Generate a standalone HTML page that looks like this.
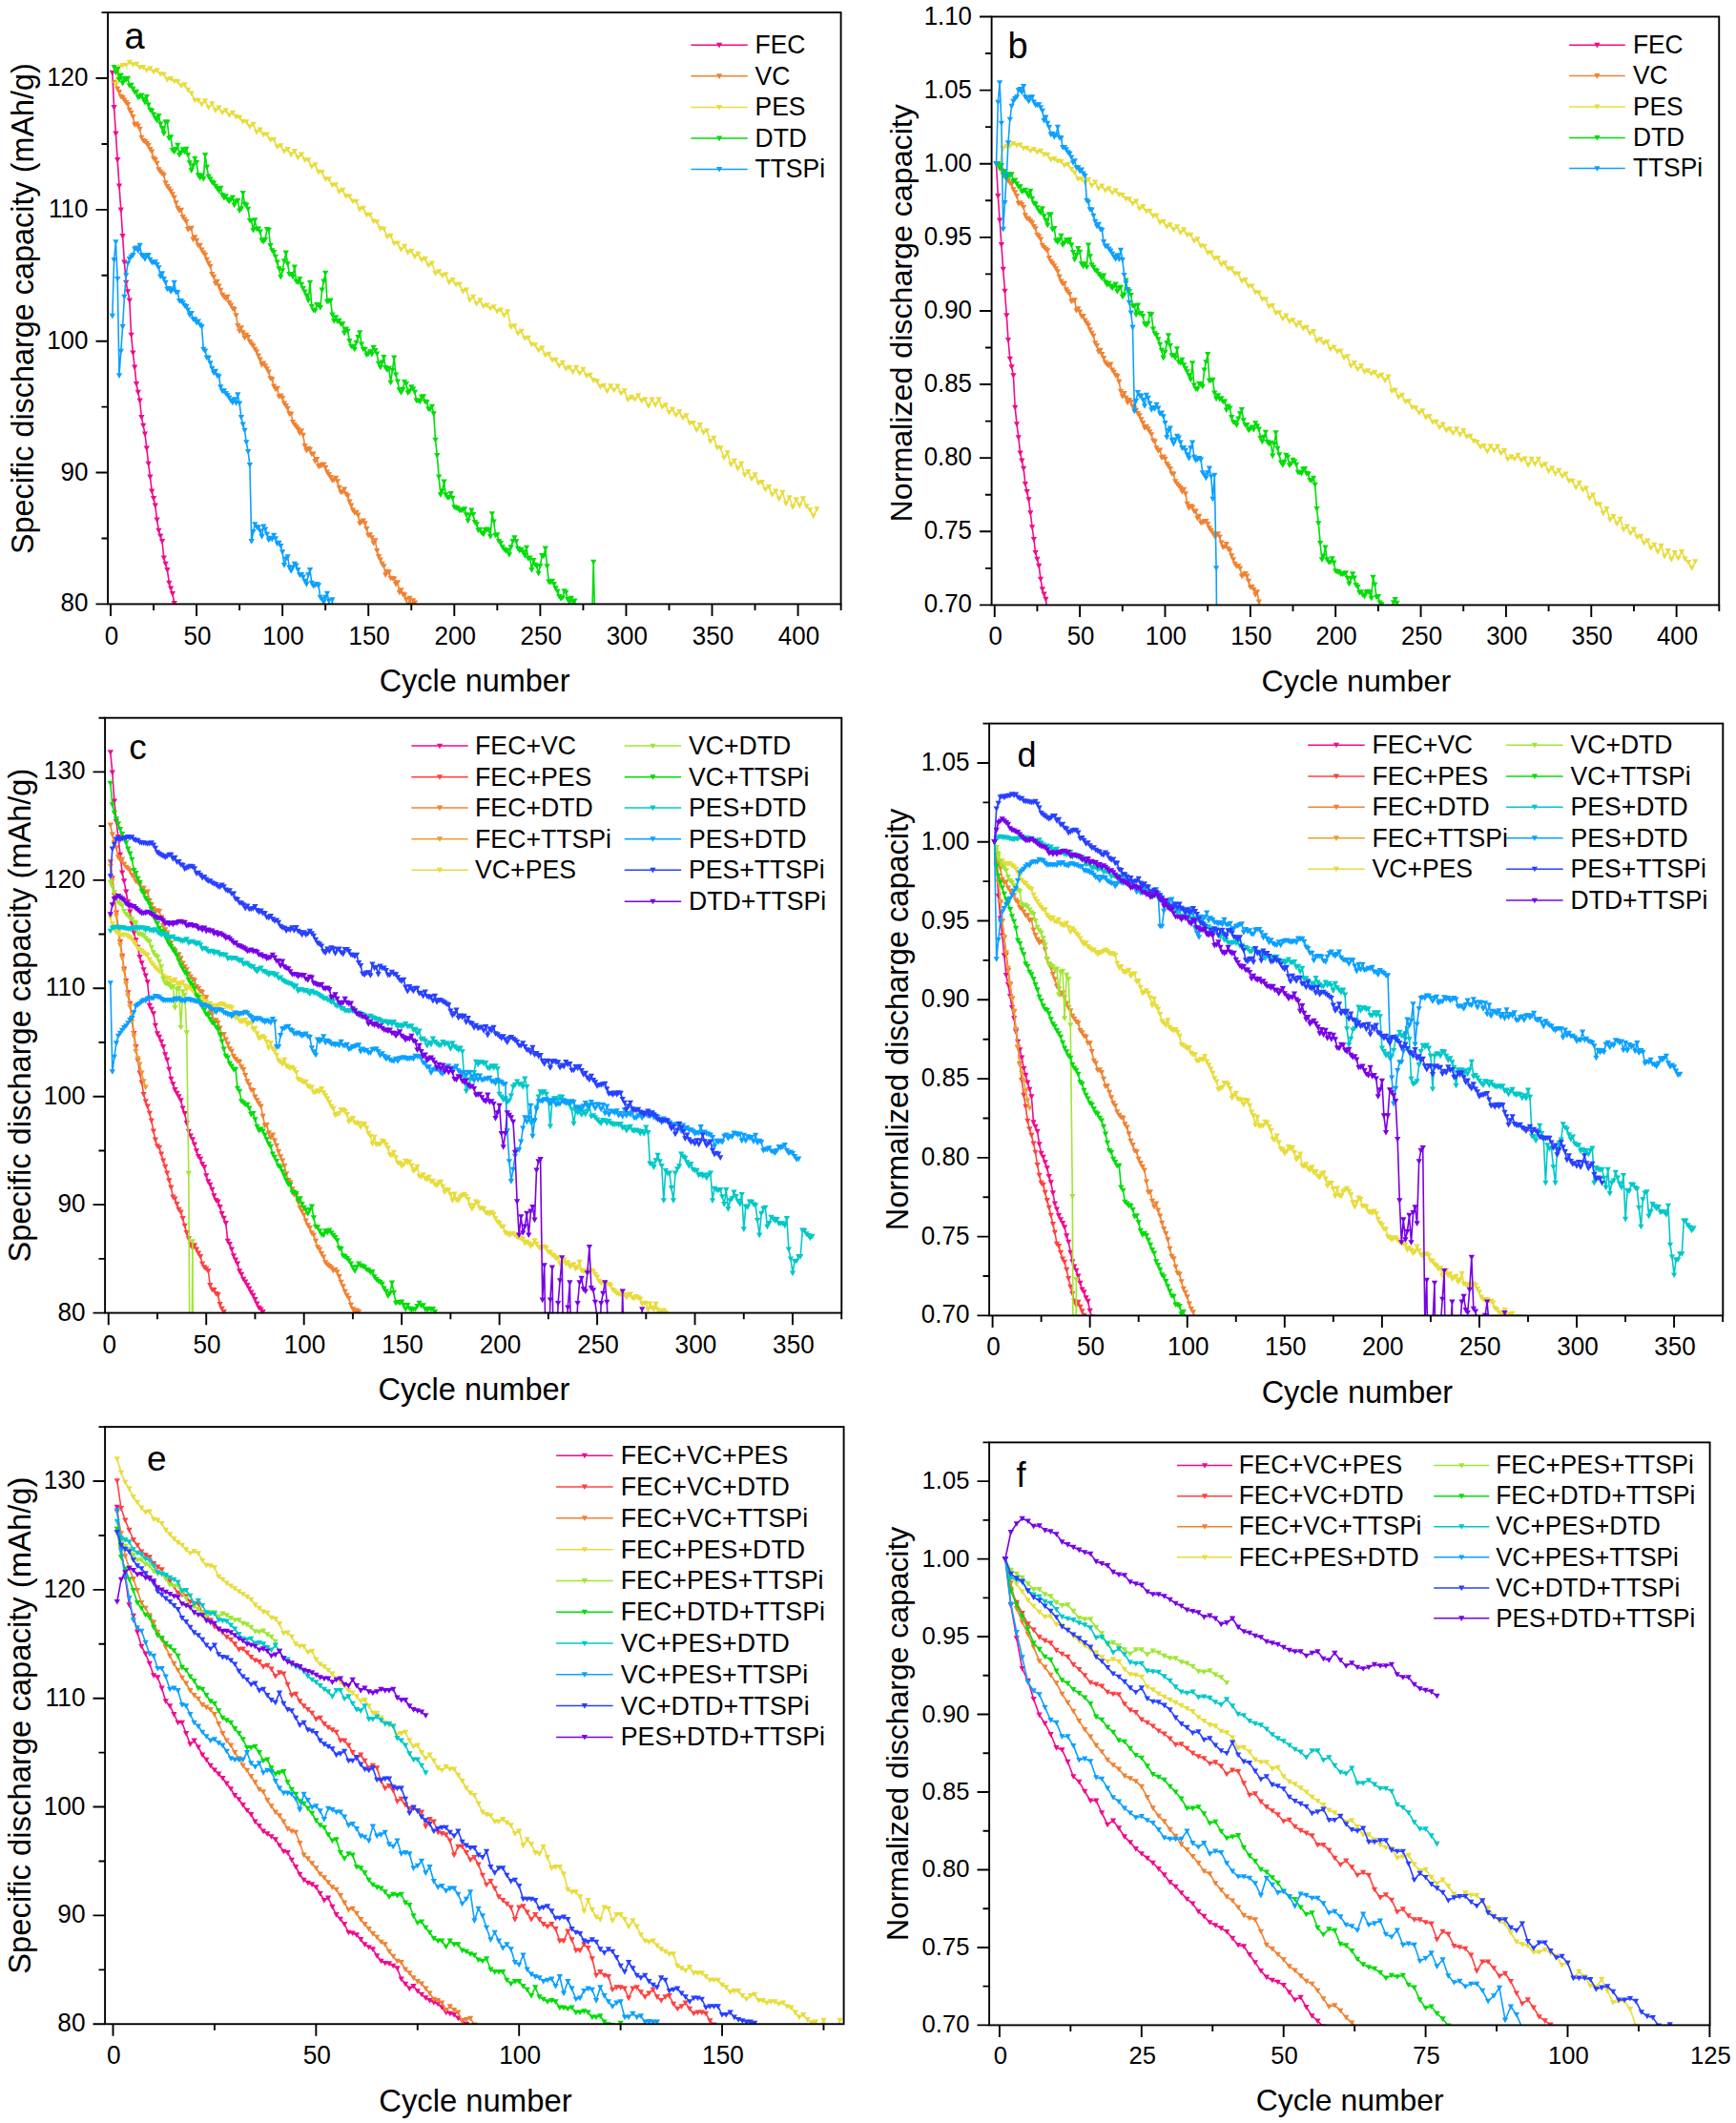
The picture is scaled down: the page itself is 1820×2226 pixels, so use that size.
<!DOCTYPE html>
<html lang="en"><head><meta charset="utf-8"><title>Cycling performance</title>
<style>html,body{margin:0;padding:0;background:#fff}svg{display:block}text{font-family:'Liberation Sans',Arial,Helvetica,sans-serif;fill:#000}</style></head><body>
<svg xmlns="http://www.w3.org/2000/svg" width="1820" height="2226" viewBox="0 0 1820 2226">
<rect width="1820" height="2226" fill="#fff"/>
<defs><path id="tri" d="M-3.15 -2.45H3.15L0 3.15Z"/>
<marker id="m00C8C8" markerUnits="userSpaceOnUse" markerWidth="8" markerHeight="8" refX="0" refY="0" viewBox="-4 -4 8 8" orient="0" overflow="visible"><path d="M-3.15 -2.45H3.15L0 3.15Z" fill="#00C8C8" stroke="none"/></marker>
<marker id="m00DD08" markerUnits="userSpaceOnUse" markerWidth="8" markerHeight="8" refX="0" refY="0" viewBox="-4 -4 8 8" orient="0" overflow="visible"><path d="M-3.15 -2.45H3.15L0 3.15Z" fill="#00DD08" stroke="none"/></marker>
<marker id="m0CA0FF" markerUnits="userSpaceOnUse" markerWidth="8" markerHeight="8" refX="0" refY="0" viewBox="-4 -4 8 8" orient="0" overflow="visible"><path d="M-3.15 -2.45H3.15L0 3.15Z" fill="#0CA0FF" stroke="none"/></marker>
<marker id="m2840FF" markerUnits="userSpaceOnUse" markerWidth="8" markerHeight="8" refX="0" refY="0" viewBox="-4 -4 8 8" orient="0" overflow="visible"><path d="M-3.15 -2.45H3.15L0 3.15Z" fill="#2840FF" stroke="none"/></marker>
<marker id="m7800E6" markerUnits="userSpaceOnUse" markerWidth="8" markerHeight="8" refX="0" refY="0" viewBox="-4 -4 8 8" orient="0" overflow="visible"><path d="M-3.15 -2.45H3.15L0 3.15Z" fill="#7800E6" stroke="none"/></marker>
<marker id="mA0E632" markerUnits="userSpaceOnUse" markerWidth="8" markerHeight="8" refX="0" refY="0" viewBox="-4 -4 8 8" orient="0" overflow="visible"><path d="M-3.15 -2.45H3.15L0 3.15Z" fill="#A0E632" stroke="none"/></marker>
<marker id="mE8A032" markerUnits="userSpaceOnUse" markerWidth="8" markerHeight="8" refX="0" refY="0" viewBox="-4 -4 8 8" orient="0" overflow="visible"><path d="M-3.15 -2.45H3.15L0 3.15Z" fill="#E8A032" stroke="none"/></marker>
<marker id="mE8DC3C" markerUnits="userSpaceOnUse" markerWidth="8" markerHeight="8" refX="0" refY="0" viewBox="-4 -4 8 8" orient="0" overflow="visible"><path d="M-3.15 -2.45H3.15L0 3.15Z" fill="#E8DC3C" stroke="none"/></marker>
<marker id="mF00A8C" markerUnits="userSpaceOnUse" markerWidth="8" markerHeight="8" refX="0" refY="0" viewBox="-4 -4 8 8" orient="0" overflow="visible"><path d="M-3.15 -2.45H3.15L0 3.15Z" fill="#F00A8C" stroke="none"/></marker>
<marker id="mF08232" markerUnits="userSpaceOnUse" markerWidth="8" markerHeight="8" refX="0" refY="0" viewBox="-4 -4 8 8" orient="0" overflow="visible"><path d="M-3.15 -2.45H3.15L0 3.15Z" fill="#F08232" stroke="none"/></marker>
<marker id="mFF4040" markerUnits="userSpaceOnUse" markerWidth="8" markerHeight="8" refX="0" refY="0" viewBox="-4 -4 8 8" orient="0" overflow="visible"><path d="M-3.15 -2.45H3.15L0 3.15Z" fill="#FF4040" stroke="none"/></marker>
</defs>
<clipPath id="clipa"><rect x="113.10" y="13.10" width="768.50" height="620.90"/></clipPath>
<g clip-path="url(#clipa)" fill="none" stroke-width="1.60" stroke-linejoin="round">
<polyline stroke="#F00A8C" marker-start="url(#mF00A8C)" marker-mid="url(#mF00A8C)" marker-end="url(#mF00A8C)" points="117.8,76.3 119.6,112.5 121.4,140.0 123.2,167.5 125.0,195.0 126.8,220.0 128.6,247.5 130.4,275.0 132.2,296.2 134.0,305.6 135.8,315.0 137.6,351.2 139.4,370.0 141.2,385.0 143.0,402.5 144.8,411.3 146.6,420.0 148.4,437.5 150.2,446.2 152.0,455.0 153.8,470.0 155.6,486.2 157.4,500.0 159.2,515.0 161.0,522.5 162.8,530.0 164.6,545.0 166.4,556.2 168.2,561.9 170.0,567.5 171.8,585.0 173.6,591.2 175.4,597.5 177.3,611.2 179.1,616.9 180.9,622.5 182.7,632.5"/>
<polyline stroke="#F08232" marker-start="url(#mF08232)" marker-mid="url(#mF08232)" marker-end="url(#mF08232)" points="119.6,86.2 121.4,88.0 123.2,93.1 125.0,96.5 126.8,101.2 128.6,102.4 130.4,105.0 132.2,107.5 134.0,109.4 135.8,115.1 137.6,118.3 139.4,122.4 141.2,130.8 143.0,130.0 144.8,131.9 146.6,135.1 148.4,144.1 150.2,147.4 152.0,148.4 153.8,150.5 155.6,152.5 157.4,156.5 159.2,159.0 161.0,166.0 162.8,167.4 164.6,171.1 166.4,177.8 168.2,180.0 170.0,181.9 171.8,183.7 173.6,191.8 175.4,195.5 177.3,197.9 179.1,200.6 180.9,203.7 182.7,207.1 184.5,212.8 186.3,218.1 188.1,220.9 189.9,220.3 191.7,227.5 193.5,229.9 195.3,232.5 197.1,240.5 198.9,239.5 200.7,239.3 202.5,251.0 204.3,248.7 206.1,252.3 207.9,257.4 209.7,257.2 211.5,261.9 213.3,265.0 215.1,267.3 216.9,272.2 218.7,276.0 220.5,279.2 222.3,287.5 224.1,290.3 225.9,297.2 227.7,295.3 229.5,300.0 231.3,304.1 233.1,309.1 234.9,311.3 236.7,313.1 238.5,311.2 240.3,317.5 242.1,320.0 243.9,323.5 245.7,324.4 247.5,330.8 249.3,341.4 251.1,347.1 252.9,343.7 254.7,348.8 256.5,354.2 258.3,351.2 260.1,353.4 261.9,358.3 263.7,360.6 265.5,362.6 267.3,366.2 269.1,368.7 270.9,373.0 272.7,377.0 274.5,382.5 276.3,381.0 278.1,383.7 279.9,386.7 281.7,390.0 283.5,396.7 285.3,397.8 287.1,405.0 288.9,408.0 290.7,407.3 292.5,415.9 294.3,415.0 296.1,417.3 298.0,422.9 299.8,425.4 301.6,428.3 303.4,433.8 305.2,434.2 307.0,442.4 308.8,445.1 310.6,447.5 312.4,449.6 314.2,454.2 316.0,451.6 317.8,456.3 319.6,467.5 321.4,472.4 323.2,470.4 325.0,471.2 326.8,476.2 328.6,475.9 330.4,483.7 332.2,481.4 334.0,488.9 335.8,488.6 337.6,487.5 339.4,487.0 341.2,490.3 343.0,495.0 344.8,497.5 346.6,500.4 348.4,503.7 350.2,503.0 352.0,501.3 353.8,504.8 355.6,511.2 357.4,516.2 359.2,515.7 361.0,512.9 362.8,518.2 364.6,520.0 366.4,526.0 368.2,530.0 370.0,535.0 371.8,537.5 373.6,537.3 375.4,540.0 377.2,548.9 379.0,547.3 380.8,545.9 382.6,548.8 384.4,554.4 386.2,561.3 388.0,560.8 389.8,563.8 391.6,569.7 393.4,566.6 395.2,577.5 397.0,583.5 398.8,586.9 400.6,591.2 402.4,593.6 404.2,602.8 406.0,599.1 407.8,600.0 409.6,606.2 411.4,606.4 413.2,606.9 415.0,612.5 416.9,610.7 418.7,621.1 420.5,618.8 422.3,623.0 424.1,623.8 425.9,628.7 427.7,636.4 429.5,627.2 431.3,634.5 433.1,629.6 434.9,632.0"/>
<polyline stroke="#E8DC3C" marker-start="url(#mE8DC3C)" marker-mid="url(#mE8DC3C)" marker-end="url(#mE8DC3C)" points="121.4,88.1 125.0,70.3 128.6,68.5 132.2,68.1 135.8,65.3 139.4,67.6 143.0,67.1 146.6,70.7 150.2,70.5 153.8,73.7 157.4,71.8 161.0,75.1 164.6,73.8 168.2,77.7 171.8,77.9 175.4,83.5 179.1,82.5 182.7,85.2 186.3,85.5 189.9,89.9 193.5,88.8 197.1,94.2 200.7,97.9 204.3,105.1 207.9,105.2 211.5,109.3 215.1,105.6 218.7,112.7 222.3,108.6 225.9,115.8 229.5,112.9 233.1,118.0 236.7,115.7 240.3,120.7 243.9,118.1 247.5,122.5 251.1,123.1 254.7,127.4 258.3,127.7 261.9,132.8 265.5,130.1 269.1,138.5 272.7,136.0 276.3,141.2 279.9,140.9 283.5,146.6 287.1,146.2 290.7,154.0 294.3,152.7 298.0,158.6 301.6,156.5 305.2,162.0 308.8,158.5 312.4,165.2 316.0,161.9 319.6,167.6 323.2,167.7 326.8,174.7 330.4,172.6 334.0,180.3 337.6,180.5 341.2,187.8 344.8,187.7 348.4,194.1 352.0,193.7 355.6,201.0 359.2,199.3 362.8,205.8 366.4,205.8 370.0,211.2 373.6,211.3 377.2,219.5 380.8,218.2 384.4,225.3 388.0,225.1 391.6,232.0 395.2,232.6 398.8,239.8 402.4,239.9 406.0,248.1 409.6,247.1 413.2,255.2 416.9,254.9 420.5,261.7 424.1,258.2 427.7,264.8 431.3,263.2 434.9,269.0 438.5,266.3 442.1,272.5 445.7,271.3 449.3,278.1 452.9,276.0 456.5,286.5 460.1,284.6 463.7,288.9 467.3,287.7 470.9,296.0 474.5,293.4 478.1,298.4 481.7,297.9 485.3,305.5 488.9,303.9 492.5,314.6 496.1,311.2 499.7,318.4 503.3,314.8 506.9,321.2 510.5,320.0 514.1,323.4 517.7,321.6 521.3,326.5 524.9,324.9 528.5,330.7 532.1,326.6 535.7,342.8 539.4,341.6 543.0,349.7 546.6,347.3 550.2,354.6 553.8,354.3 557.4,361.1 561.0,361.8 564.6,367.2 568.2,365.0 571.8,372.4 575.4,371.1 579.0,377.5 582.6,377.3 586.2,383.5 589.8,380.1 593.4,386.8 597.0,385.1 600.6,390.0 604.2,385.3 607.8,391.5 611.4,387.1 615.0,394.0 618.6,393.3 622.2,398.8 625.8,399.8 629.4,405.5 633.0,404.2 636.6,410.2 640.2,404.6 643.8,409.2 647.4,404.9 651.0,412.4 654.6,409.6 658.3,419.0 661.9,416.5 665.5,418.7 669.1,414.6 672.7,420.2 676.3,418.6 679.9,425.7 683.5,418.9 687.1,424.5 690.7,418.8 694.3,426.8 697.9,424.7 701.5,432.5 705.1,429.2 708.7,435.3 712.3,431.7 715.9,438.0 719.5,435.8 723.1,443.6 726.7,443.5 730.3,450.9 733.9,445.5 737.5,453.6 741.1,451.6 744.7,462.8 748.3,459.1 751.9,469.3 755.5,469.8 759.1,479.9 762.7,474.7 766.3,487.0 769.9,483.3 773.5,491.4 777.2,486.2 780.8,497.9 784.4,494.5 788.0,502.1 791.6,497.7 795.2,506.4 798.8,505.5 802.4,513.1 806.0,510.4 809.6,518.7 813.2,515.0 816.8,523.0 820.4,516.1 824.0,528.0 827.6,521.7 831.2,531.5 834.8,523.9 838.4,530.2 842.0,522.6 845.6,530.7 849.2,534.6 852.8,541.0 856.4,533.7"/>
<polyline stroke="#00DD08" marker-start="url(#m00DD08)" marker-mid="url(#m00DD08)" marker-end="url(#m00DD08)" points="119.6,70.5 121.4,76.0 123.2,72.5 125.0,83.5 126.8,78.9 128.6,87.3 130.4,82.5 132.2,83.8 134.0,82.3 135.8,89.9 137.6,89.1 139.4,93.2 141.2,96.5 143.0,96.2 144.8,102.0 146.6,101.3 148.4,100.0 150.2,103.9 152.0,107.3 153.8,101.4 155.6,110.0 157.4,115.1 159.2,116.2 161.0,120.0 162.8,123.7 164.6,126.1 166.4,121.4 168.2,130.0 170.0,134.5 171.8,140.0 173.6,127.9 175.4,128.0 177.3,145.0 179.1,143.7 180.9,157.5 182.7,159.1 184.5,156.5 186.3,152.1 188.1,162.4 189.9,160.0 191.7,156.7 193.5,159.1 195.3,156.3 197.1,162.4 198.9,170.6 200.7,178.8 202.5,173.8 204.3,166.3 206.1,170.4 207.9,183.8 209.7,186.4 211.5,184.0 213.3,187.5 215.1,162.5 216.9,175.1 218.7,185.0 220.5,187.8 222.3,191.0 224.1,191.9 225.9,195.1 227.7,197.5 229.5,200.0 231.3,197.2 233.1,204.4 234.9,207.5 236.7,205.8 238.5,209.1 240.3,211.2 242.1,209.3 243.9,206.9 245.7,215.0 247.5,211.1 249.3,210.3 251.1,220.9 252.9,218.8 254.7,202.5 256.5,213.9 258.3,215.0 260.1,219.2 261.9,231.2 263.7,231.7 265.5,241.4 267.3,230.7 269.1,240.0 270.9,239.9 272.7,243.0 274.5,252.0 276.3,253.4 278.1,251.2 279.9,240.4 281.7,241.3 283.5,257.5 285.3,262.6 287.1,264.5 288.9,269.1 290.7,275.0 292.5,281.7 294.3,290.4 296.1,283.8 298.0,273.6 299.8,265.0 301.6,276.6 303.4,287.5 305.2,287.5 307.0,290.0 308.8,280.0 310.6,295.0 312.4,296.0 314.2,292.4 316.0,298.3 317.8,302.5 319.6,305.9 321.4,310.0 323.2,315.0 325.0,296.2 326.8,321.2 328.6,325.1 330.4,325.7 332.2,319.5 334.0,320.2 335.8,322.5 337.6,304.0 339.4,295.0 341.2,286.3 343.0,316.2 344.8,315.7 346.6,315.0 348.4,330.0 350.2,336.5 352.0,332.8 353.8,337.2 355.6,336.2 357.4,339.8 359.2,339.7 361.0,349.3 362.8,345.0 364.6,347.1 366.4,357.5 368.2,363.2 370.0,363.3 371.8,366.2 373.6,359.1 375.4,353.4 377.2,348.8 379.0,360.9 380.8,366.2 382.6,366.1 384.4,372.1 386.2,370.8 388.0,368.8 389.8,371.4 391.6,364.3 393.4,367.5 395.2,370.9 397.0,381.2 398.8,385.2 400.6,380.0 402.4,374.5 404.2,385.5 406.0,387.9 407.8,386.2 409.6,401.2 411.4,388.1 413.2,375.0 415.0,392.9 416.9,400.0 418.7,408.8 420.5,411.5 422.3,408.1 424.1,400.5 425.9,402.5 427.7,411.9 429.5,410.0 431.3,405.7 433.1,407.7 434.9,411.3 436.7,420.0 438.5,419.9 440.3,421.2 442.1,416.3 443.9,415.8 445.7,421.2 447.5,421.8 449.3,428.8 451.1,429.2 452.9,426.2 454.7,433.8 456.5,461.2 458.3,477.5 460.1,500.0 461.9,518.8 463.7,514.6 465.5,505.0 467.3,518.8 469.1,521.5 470.9,521.6 472.7,517.5 474.5,522.2 476.3,531.6 478.1,532.5 479.9,532.9 481.7,535.0 483.5,535.2 485.3,534.8 487.1,533.8 488.9,539.6 490.7,546.2 492.5,540.1 494.3,535.0 496.1,539.5 497.9,547.5 499.7,549.5 501.5,556.0 503.3,555.3 505.1,558.8 506.9,560.1 508.7,555.8 510.5,555.0 512.3,555.7 514.1,562.5 515.9,538.8 517.7,546.9 519.5,561.3 521.3,560.6 523.1,567.5 524.9,569.4 526.7,573.5 528.5,575.9 530.3,577.5 532.1,577.0 533.9,581.7 535.7,573.8 537.6,567.4 539.4,563.8 541.2,567.7 543.0,575.0 544.8,577.4 546.6,576.3 548.4,578.8 550.2,582.5 552.0,574.2 553.8,585.6 555.6,585.0 557.4,597.5 559.2,587.5 561.0,592.2 562.8,593.6 564.6,601.2 566.4,593.1 568.2,582.5 570.0,583.1 571.8,575.0 573.6,593.8 575.4,610.0 577.2,610.5 579.0,609.2 580.8,612.5 582.6,616.8 584.4,620.0 586.2,625.4 588.0,627.5 589.8,626.7 591.6,619.8 593.4,621.2 595.2,628.5 597.0,631.2 598.8,627.3 600.6,630.8 602.4,630.0 604.2,654.1 620.4,661.0 622.2,589.3 624.0,661.0"/>
<polyline stroke="#0CA0FF" marker-start="url(#m0CA0FF)" marker-mid="url(#m0CA0FF)" marker-end="url(#m0CA0FF)" points="117.8,331.3 119.6,272.5 121.4,253.7 123.2,292.5 125.0,393.8 126.8,368.3 128.6,342.5 130.4,311.2 132.2,288.7 134.0,276.2 135.8,271.4 137.6,269.1 139.4,267.5 141.2,261.0 143.0,260.0 144.8,262.9 146.6,257.3 148.4,267.4 150.2,268.8 152.0,271.5 153.8,267.7 155.6,267.5 157.4,272.2 159.2,275.0 161.0,275.1 162.8,274.8 164.6,277.5 166.4,280.7 168.2,289.9 170.0,286.8 171.8,292.5 173.6,296.3 175.4,303.2 177.3,302.5 179.1,305.6 180.9,303.8 182.7,296.2 184.5,306.3 186.3,306.7 188.1,315.5 189.9,315.5 191.7,317.5 193.5,320.3 195.3,321.5 197.1,325.0 198.9,330.3 200.7,328.4 202.5,334.7 204.3,335.0 206.1,338.3 207.9,336.9 209.7,340.6 211.5,342.5 213.3,366.2 215.1,367.9 216.9,375.0 218.7,375.3 220.5,380.8 222.3,386.2 224.1,390.9 225.9,389.1 227.7,393.8 229.5,394.6 231.3,405.6 233.1,410.0 234.9,409.8 236.7,412.5 238.5,414.4 240.3,417.0 242.1,420.0 243.9,422.2 245.7,418.7 247.5,422.5 249.3,413.8 251.1,422.9 252.9,437.5 254.7,445.0 256.5,451.2 258.3,463.7 260.1,473.5 261.9,487.5 263.7,567.5 265.5,557.5 267.3,549.6 269.1,552.5 270.9,553.2 272.7,556.8 274.5,562.5 276.3,552.0 278.1,555.0 279.9,560.1 281.7,566.2 283.5,564.2 285.3,565.4 287.1,561.3 288.9,564.6 290.7,570.0 292.5,569.3 294.3,572.5 296.1,578.8 298.0,592.5 299.8,585.9 301.6,583.8 303.4,595.0 305.2,598.7 307.0,595.0 308.8,591.2 310.6,592.9 312.4,597.5 314.2,602.8 316.0,602.5 317.8,605.0 319.6,609.2 321.4,612.5 323.2,602.8 325.0,597.5 326.8,611.2 328.6,614.4 330.4,613.6 332.2,612.5 334.0,613.8 335.8,626.3 337.6,628.4 339.4,631.2 341.2,626.3 343.0,622.1 344.8,630.0 346.6,651.3 348.4,628.6 350.2,717.5 352.0,909.1"/>
</g>
<g stroke="#000" stroke-width="1.90" fill="none" stroke-linecap="butt">
<rect x="113.10" y="13.10" width="768.50" height="620.30"/>
<path d="M116.00 633.40v12.6M206.07 633.40v12.6M296.15 633.40v12.6M386.23 633.40v12.6M476.30 633.40v12.6M566.38 633.40v12.6M656.45 633.40v12.6M746.53 633.40v12.6M836.60 633.40v12.6M161.04 633.40v6.6M251.11 633.40v6.6M341.19 633.40v6.6M431.26 633.40v6.6M521.34 633.40v6.6M611.41 633.40v6.6M701.49 633.40v6.6M791.56 633.40v6.6M881.64 633.40v6.6M113.10 633.40h-12.6M113.10 495.56h-12.6M113.10 357.71h-12.6M113.10 219.87h-12.6M113.10 82.02h-12.6M113.10 564.48h-6.6M113.10 426.63h-6.6M113.10 288.79h-6.6M113.10 150.94h-6.6M113.10 13.10h-6.6"/>
</g>
<g font-size="27.06" text-anchor="middle">
<text transform="translate(116.90 675.60) scale(0.961 1)">0</text>
<text transform="translate(206.97 675.60) scale(0.961 1)">50</text>
<text transform="translate(297.05 675.60) scale(0.961 1)">100</text>
<text transform="translate(387.12 675.60) scale(0.961 1)">150</text>
<text transform="translate(477.20 675.60) scale(0.961 1)">200</text>
<text transform="translate(567.27 675.60) scale(0.961 1)">250</text>
<text transform="translate(657.35 675.60) scale(0.961 1)">300</text>
<text transform="translate(747.43 675.60) scale(0.961 1)">350</text>
<text transform="translate(837.50 675.60) scale(0.961 1)">400</text>
</g>
<g font-size="27.06" text-anchor="end">
<text transform="translate(92.50 641.40) scale(0.961 1)">80</text>
<text transform="translate(92.50 503.56) scale(0.961 1)">90</text>
<text transform="translate(92.50 365.71) scale(0.961 1)">100</text>
<text transform="translate(92.50 227.87) scale(0.961 1)">110</text>
<text transform="translate(92.50 90.02) scale(0.961 1)">120</text>
</g>
<text font-size="32.4" text-anchor="middle" x="497.60" y="724.80">Cycle number</text>
<text font-size="32.4" text-anchor="middle" transform="translate(35.10 323.60) rotate(-90)">Specific discharge capacity (mAh/g)</text>
<text font-size="38.0" x="130.60" y="50.60">a</text>
<path d="M724.40 47.25H783.75" stroke="#F00A8C" stroke-width="1.5" fill="none"/>
<use href="#tri" x="754.08" y="47.25" fill="#F00A8C"/>
<text font-size="27.58" transform="translate(791.50 56.15) scale(0.961 1)">FEC</text>
<path d="M724.40 79.75H783.75" stroke="#F08232" stroke-width="1.5" fill="none"/>
<use href="#tri" x="754.08" y="79.75" fill="#F08232"/>
<text font-size="27.58" transform="translate(791.50 88.65) scale(0.961 1)">VC</text>
<path d="M724.40 112.40H783.75" stroke="#E8DC3C" stroke-width="1.5" fill="none"/>
<use href="#tri" x="754.08" y="112.40" fill="#E8DC3C"/>
<text font-size="27.58" transform="translate(791.50 121.30) scale(0.961 1)">PES</text>
<path d="M724.40 145.00H783.75" stroke="#00DD08" stroke-width="1.5" fill="none"/>
<use href="#tri" x="754.08" y="145.00" fill="#00DD08"/>
<text font-size="27.58" transform="translate(791.50 153.90) scale(0.961 1)">DTD</text>
<path d="M724.40 177.40H783.75" stroke="#0CA0FF" stroke-width="1.5" fill="none"/>
<use href="#tri" x="754.08" y="177.40" fill="#0CA0FF"/>
<text font-size="27.58" transform="translate(791.50 186.30) scale(0.961 1)">TTSPi</text>
<clipPath id="clipb"><rect x="1039.60" y="17.50" width="762.65" height="617.50"/></clipPath>
<g clip-path="url(#clipb)" fill="none" stroke-width="1.60" stroke-linejoin="round">
<polyline stroke="#F00A8C" marker-start="url(#mF00A8C)" marker-mid="url(#mF00A8C)" marker-end="url(#mF00A8C)" points="1044.5,171.7 1046.3,205.4 1048.1,231.0 1049.9,256.5 1051.7,282.1 1053.5,305.3 1055.3,330.8 1057.0,356.4 1058.8,376.1 1060.6,384.8 1062.4,393.6 1064.2,427.2 1066.0,444.7 1067.8,458.6 1069.6,474.9 1071.3,483.0 1073.1,491.1 1074.9,507.4 1076.7,515.5 1078.5,523.6 1080.3,537.6 1082.1,552.7 1083.9,565.4 1085.6,579.4 1087.4,586.3 1089.2,593.3 1091.0,607.2 1092.8,617.7 1094.6,622.9 1096.4,628.2 1098.2,644.4 1099.9,650.2 1101.7,656.0 1103.5,668.8 1105.3,674.0 1107.1,679.3 1108.9,688.5"/>
<polyline stroke="#F08232" marker-start="url(#mF08232)" marker-mid="url(#mF08232)" marker-end="url(#mF08232)" points="1046.3,171.7 1048.1,173.4 1049.9,178.1 1051.7,181.3 1053.5,185.7 1055.3,186.9 1057.0,189.3 1058.8,191.6 1060.6,193.4 1062.4,198.7 1064.2,201.6 1066.0,205.5 1067.8,213.4 1069.6,212.6 1071.3,214.4 1073.1,217.4 1074.9,225.8 1076.7,228.9 1078.5,229.8 1080.3,231.8 1082.1,233.7 1083.9,237.4 1085.6,239.7 1087.4,246.2 1089.2,247.6 1091.0,251.0 1092.8,257.3 1094.6,259.4 1096.4,261.2 1098.2,262.8 1099.9,270.4 1101.7,273.9 1103.5,276.1 1105.3,278.6 1107.1,281.6 1108.9,284.7 1110.7,290.1 1112.5,295.0 1114.2,297.6 1116.0,297.1 1117.8,303.8 1119.6,306.0 1121.4,308.4 1123.2,315.9 1125.0,315.0 1126.7,314.7 1128.5,325.7 1130.3,323.6 1132.1,326.9 1133.9,331.7 1135.7,331.5 1137.5,335.9 1139.3,338.8 1141.0,341.0 1142.8,345.6 1144.6,349.1 1146.4,352.1 1148.2,359.8 1150.0,362.5 1151.8,368.9 1153.6,367.1 1155.3,371.5 1157.1,375.4 1158.9,380.1 1160.7,382.1 1162.5,383.7 1164.3,382.0 1166.1,387.9 1167.9,390.2 1169.6,393.5 1171.4,394.4 1173.2,400.3 1175.0,410.2 1176.8,415.6 1178.6,412.4 1180.4,417.1 1182.2,422.2 1183.9,419.4 1185.7,421.4 1187.5,426.1 1189.3,428.2 1191.1,430.1 1192.9,433.5 1194.7,435.7 1196.4,439.8 1198.2,443.5 1200.0,448.6 1201.8,447.3 1203.6,449.8 1205.4,452.6 1207.2,455.7 1209.0,461.9 1210.7,462.9 1212.5,469.7 1214.3,472.5 1216.1,471.9 1217.9,479.9 1219.7,479.0 1221.5,481.2 1223.3,486.4 1225.0,488.7 1226.8,491.5 1228.6,496.6 1230.4,497.0 1232.2,504.6 1234.0,507.2 1235.8,509.4 1237.6,511.4 1239.3,515.6 1241.1,513.2 1242.9,517.6 1244.7,528.1 1246.5,532.6 1248.3,530.8 1250.1,531.6 1251.9,536.2 1253.6,536.0 1255.4,543.3 1257.2,541.1 1259.0,548.1 1260.8,547.8 1262.6,546.8 1264.4,546.4 1266.2,549.4 1267.9,553.8 1269.7,556.2 1271.5,558.9 1273.3,562.0 1275.1,561.2 1276.9,559.6 1278.7,562.9 1280.4,569.0 1282.2,573.7 1284.0,573.2 1285.8,570.5 1287.6,575.5 1289.4,577.2 1291.2,582.8 1293.0,586.6 1294.7,591.2 1296.5,593.6 1298.3,593.4 1300.1,595.9 1301.9,604.2 1303.7,602.7 1305.5,601.4 1307.3,604.0 1309.0,609.3 1310.8,615.7 1312.6,615.3 1314.4,618.1 1316.2,623.6 1318.0,620.7 1319.8,630.9 1321.6,636.6 1323.3,639.7 1325.1,643.8 1326.9,646.0 1328.7,654.5 1330.5,651.1 1332.3,652.0 1334.1,657.7 1335.9,658.0 1337.6,658.4 1339.4,663.6 1341.2,661.9 1343.0,671.7 1344.8,669.5 1346.6,673.4 1348.4,674.2 1350.1,678.8 1351.9,686.0 1353.7,677.4 1355.5,684.2 1357.3,679.6 1359.1,681.9"/>
<polyline stroke="#E8DC3C" marker-start="url(#mE8DC3C)" marker-mid="url(#mE8DC3C)" marker-end="url(#mE8DC3C)" points="1048.1,171.7 1051.7,155.1 1055.3,153.3 1058.8,152.9 1062.4,150.4 1066.0,152.5 1069.6,152.0 1073.1,155.4 1076.7,155.3 1080.3,158.2 1083.9,156.4 1087.4,159.5 1091.0,158.3 1094.6,162.0 1098.2,162.1 1101.7,167.4 1105.3,166.5 1108.9,169.0 1112.5,169.3 1116.0,173.4 1119.6,172.4 1123.2,177.4 1126.7,180.9 1130.3,187.6 1133.9,187.7 1137.5,191.6 1141.0,188.1 1144.6,194.7 1148.2,190.9 1151.8,197.6 1155.3,194.9 1158.9,199.6 1162.5,197.6 1166.1,202.2 1169.6,199.7 1173.2,203.9 1176.8,204.5 1180.4,208.5 1183.9,208.8 1187.5,213.5 1191.1,211.0 1194.7,218.9 1198.2,216.5 1201.8,221.4 1205.4,221.2 1209.0,226.5 1212.5,226.0 1216.1,233.3 1219.7,232.2 1223.3,237.7 1226.8,235.7 1230.4,240.8 1234.0,237.6 1237.6,243.9 1241.1,240.8 1244.7,246.1 1248.3,246.2 1251.9,252.7 1255.4,250.8 1259.0,257.9 1262.6,258.2 1266.2,265.0 1269.7,264.9 1273.3,270.9 1276.9,270.5 1280.4,277.4 1284.0,275.8 1287.6,281.9 1291.2,281.8 1294.7,286.9 1298.3,287.0 1301.9,294.7 1305.5,293.5 1309.0,300.1 1312.6,299.9 1316.2,306.4 1319.8,306.9 1323.3,313.6 1326.9,313.7 1330.5,321.4 1334.1,320.5 1337.6,328.1 1341.2,327.8 1344.8,334.1 1348.4,330.9 1351.9,337.0 1355.5,335.6 1359.1,341.0 1362.7,338.5 1366.2,344.3 1369.8,343.2 1373.4,349.5 1377.0,347.5 1380.5,357.4 1384.1,355.6 1387.7,359.6 1391.3,358.5 1394.8,366.2 1398.4,363.9 1402.0,368.5 1405.6,368.0 1409.1,375.1 1412.7,373.6 1416.3,383.7 1419.8,380.5 1423.4,387.2 1427.0,383.8 1430.6,389.8 1434.1,388.7 1437.7,391.9 1441.3,390.3 1444.9,394.8 1448.4,393.3 1452.0,398.8 1455.6,394.9 1459.2,410.1 1462.7,409.0 1466.3,416.5 1469.9,414.3 1473.5,421.1 1477.0,420.8 1480.6,427.1 1484.2,427.8 1487.8,432.9 1491.3,430.8 1494.9,437.8 1498.5,436.5 1502.1,442.6 1505.6,442.3 1509.2,448.2 1512.8,445.0 1516.4,451.3 1519.9,449.6 1523.5,454.2 1527.1,449.8 1530.7,455.7 1534.2,451.5 1537.8,457.9 1541.4,457.3 1545.0,462.5 1548.5,463.4 1552.1,468.7 1555.7,467.5 1559.3,473.1 1562.8,467.9 1566.4,472.2 1570.0,468.2 1573.5,475.2 1577.1,472.5 1580.7,481.4 1584.3,479.0 1587.8,481.1 1591.4,477.2 1595.0,482.5 1598.6,481.0 1602.1,487.6 1605.7,481.3 1609.3,486.5 1612.9,481.2 1616.4,488.7 1620.0,486.7 1623.6,494.0 1627.2,490.9 1630.7,496.6 1634.3,493.3 1637.9,499.2 1641.5,497.0 1645.0,504.3 1648.6,504.3 1652.2,511.2 1655.8,506.2 1659.3,513.7 1662.9,511.9 1666.5,522.4 1670.1,518.9 1673.6,528.4 1677.2,528.9 1680.8,538.3 1684.4,533.5 1687.9,545.0 1691.5,541.5 1695.1,549.1 1698.7,544.3 1702.2,555.2 1705.8,552.0 1709.4,559.1 1712.9,555.0 1716.5,563.1 1720.1,562.3 1723.7,569.4 1727.2,566.9 1730.8,574.6 1734.4,571.2 1738.0,578.7 1741.5,572.3 1745.1,583.3 1748.7,577.5 1752.3,586.6 1755.8,579.5 1759.4,585.4 1763.0,578.4 1766.6,585.9 1770.1,589.5 1773.7,595.6 1777.3,588.7"/>
<polyline stroke="#00DD08" marker-start="url(#m00DD08)" marker-mid="url(#m00DD08)" marker-end="url(#m00DD08)" points="1046.3,171.7 1048.1,176.8 1049.9,173.5 1051.7,183.7 1053.5,179.5 1055.3,187.3 1057.0,182.8 1058.8,184.1 1060.6,182.7 1062.4,189.7 1064.2,189.0 1066.0,192.7 1067.8,195.8 1069.6,195.6 1071.3,200.9 1073.1,200.2 1074.9,199.1 1076.7,202.7 1078.5,205.8 1080.3,200.3 1082.1,208.3 1083.9,213.0 1085.6,214.0 1087.4,217.6 1089.2,221.0 1091.0,223.2 1092.8,218.8 1094.6,226.8 1096.4,231.0 1098.2,236.1 1099.9,224.9 1101.7,225.0 1103.5,240.7 1105.3,239.5 1107.1,252.3 1108.9,253.8 1110.7,251.3 1112.5,247.3 1114.2,256.8 1116.0,254.6 1117.8,251.6 1119.6,253.7 1121.4,251.1 1123.2,256.8 1125.0,264.4 1126.7,272.0 1128.5,267.4 1130.3,260.4 1132.1,264.3 1133.9,276.6 1135.7,279.0 1137.5,276.8 1139.3,280.1 1141.0,256.9 1142.8,268.6 1144.6,277.7 1146.4,280.3 1148.2,283.3 1150.0,284.1 1151.8,287.1 1153.6,289.3 1155.3,291.6 1157.1,289.0 1158.9,295.7 1160.7,298.6 1162.5,297.0 1164.3,300.0 1166.1,302.0 1167.9,300.3 1169.6,298.0 1171.4,305.5 1173.2,301.9 1175.0,301.2 1176.8,311.0 1178.6,309.0 1180.4,293.9 1182.2,304.5 1183.9,305.5 1185.7,309.4 1187.5,320.6 1189.3,321.0 1191.1,329.9 1192.9,320.0 1194.7,328.7 1196.4,328.6 1198.2,331.4 1200.0,339.7 1201.8,341.0 1203.6,339.1 1205.4,329.1 1207.2,329.8 1209.0,344.9 1210.7,349.6 1212.5,351.4 1214.3,355.6 1216.1,361.1 1217.9,367.3 1219.7,375.3 1221.5,369.2 1223.3,359.7 1225.0,351.8 1226.8,362.5 1228.6,372.6 1230.4,372.7 1232.2,375.0 1234.0,365.7 1235.8,379.6 1237.6,380.5 1239.3,377.2 1241.1,382.7 1242.9,386.5 1244.7,389.7 1246.5,393.5 1248.3,398.1 1250.1,380.7 1251.9,403.9 1253.6,407.5 1255.4,408.0 1257.2,402.2 1259.0,403.0 1260.8,405.1 1262.6,388.0 1264.4,379.6 1266.2,371.5 1267.9,399.3 1269.7,398.7 1271.5,398.1 1273.3,412.0 1275.1,418.0 1276.9,414.6 1278.7,418.6 1280.4,417.8 1282.2,421.1 1284.0,420.9 1285.8,429.9 1287.6,425.9 1289.4,427.9 1291.2,437.5 1293.0,442.7 1294.7,442.9 1296.5,445.6 1298.3,439.0 1300.1,433.6 1301.9,429.4 1303.7,440.6 1305.5,445.6 1307.3,445.5 1309.0,451.0 1310.8,449.7 1312.6,447.9 1314.4,450.4 1316.2,443.8 1318.0,446.7 1319.8,449.9 1321.6,459.5 1323.3,463.1 1325.1,458.3 1326.9,453.2 1328.7,463.4 1330.5,465.6 1332.3,464.1 1334.1,478.0 1335.9,465.8 1337.6,453.7 1339.4,470.3 1341.2,476.8 1343.0,484.9 1344.8,487.5 1346.6,484.3 1348.4,477.3 1350.1,479.1 1351.9,487.9 1353.7,486.1 1355.5,482.1 1357.3,483.9 1359.1,487.2 1360.9,495.3 1362.7,495.2 1364.4,496.4 1366.2,491.9 1368.0,491.5 1369.8,496.5 1371.6,497.0 1373.4,503.4 1375.2,503.9 1377.0,501.1 1378.7,508.1 1380.5,533.5 1382.3,548.6 1384.1,569.4 1385.9,586.8 1387.7,582.9 1389.5,574.0 1391.3,586.8 1393.0,589.3 1394.8,589.4 1396.6,585.6 1398.4,590.0 1400.2,598.7 1402.0,599.5 1403.8,599.8 1405.6,601.8 1407.3,602.0 1409.1,601.6 1410.9,600.7 1412.7,606.1 1414.5,612.2 1416.3,606.5 1418.1,601.8 1419.8,606.0 1421.6,613.4 1423.4,615.3 1425.2,621.3 1427.0,620.6 1428.8,623.8 1430.6,625.1 1432.4,621.0 1434.1,620.3 1435.9,620.9 1437.7,627.3 1439.5,605.3 1441.3,612.9 1443.1,626.1 1444.9,625.5 1446.7,631.9 1448.4,633.7 1450.2,637.5 1452.0,639.7 1453.8,641.2 1455.6,640.7 1457.4,645.0 1459.2,637.7 1461.0,631.8 1462.7,628.4 1464.5,632.1 1466.3,638.8 1468.1,641.1 1469.9,640.0 1471.7,642.3 1473.5,645.8 1475.3,638.1 1477.0,648.6 1478.8,648.1 1480.6,659.7 1482.4,650.4 1484.2,654.7 1486.0,656.1 1487.8,663.2 1489.5,655.6 1491.3,645.8 1493.1,646.4 1494.9,638.8 1496.7,656.2 1498.5,671.3 1500.3,671.7 1502.1,670.5 1503.8,673.6 1505.6,677.5 1507.4,680.5 1509.2,685.5 1511.0,687.5 1512.8,686.8 1514.6,680.3 1516.4,681.7 1518.1,688.4 1519.9,690.9 1521.7,687.3 1523.5,690.5 1525.3,689.8 1527.1,712.1 1543.2,718.4 1545.0,652.1 1546.7,718.4"/>
<polyline stroke="#0CA0FF" marker-start="url(#m0CA0FF)" marker-mid="url(#m0CA0FF)" marker-end="url(#m0CA0FF)" points="1044.5,171.7 1046.3,107.2 1048.1,86.6 1049.9,129.2 1051.7,240.3 1053.5,212.4 1055.3,184.1 1057.0,149.8 1058.8,125.1 1060.6,111.3 1062.4,106.0 1064.2,103.5 1066.0,101.7 1067.8,94.7 1069.6,93.5 1071.3,96.7 1073.1,90.5 1074.9,101.6 1076.7,103.1 1078.5,106.1 1080.3,101.9 1082.1,101.7 1083.9,106.9 1085.6,110.0 1087.4,110.1 1089.2,109.7 1091.0,112.7 1092.8,116.2 1094.6,126.4 1096.4,122.9 1098.2,129.2 1099.9,133.4 1101.7,141.0 1103.5,140.2 1105.3,143.5 1107.1,141.6 1108.9,133.3 1110.7,144.3 1112.5,144.8 1114.2,154.5 1116.0,154.4 1117.8,156.6 1119.6,159.7 1121.4,161.0 1123.2,164.9 1125.0,170.7 1126.7,168.6 1128.5,175.6 1130.3,175.8 1132.1,179.4 1133.9,177.9 1135.7,182.0 1137.5,184.1 1139.3,210.1 1141.0,211.9 1142.8,219.8 1144.6,220.0 1146.4,226.1 1148.2,232.1 1150.0,237.2 1151.8,235.3 1153.6,240.3 1155.3,241.3 1157.1,253.4 1158.9,258.2 1160.7,258.0 1162.5,260.9 1164.3,263.0 1166.1,265.9 1167.9,269.2 1169.6,271.5 1171.4,267.8 1173.2,271.9 1175.0,262.3 1176.8,272.4 1178.6,288.4 1180.4,296.6 1182.2,303.5 1183.9,317.2 1185.7,327.9 1187.5,343.3 1189.3,431.1 1191.1,420.1 1192.9,411.4 1194.7,414.6 1196.4,415.3 1198.2,419.3 1200.0,425.6 1201.8,414.1 1203.6,417.3 1205.4,423.0 1207.2,429.7 1209.0,427.5 1210.7,428.7 1212.5,424.2 1214.3,427.9 1216.1,433.8 1217.9,433.0 1219.7,436.6 1221.5,443.4 1223.3,458.5 1225.0,451.3 1226.8,448.9 1228.6,461.3 1230.4,465.3 1232.2,461.3 1234.0,457.1 1235.8,459.0 1237.6,464.0 1239.3,469.8 1241.1,469.5 1242.9,472.2 1244.7,476.8 1246.5,480.5 1248.3,469.8 1250.1,464.0 1251.9,479.1 1253.6,482.6 1255.4,481.7 1257.2,480.5 1259.0,481.8 1260.8,495.6 1262.6,498.0 1264.4,501.1 1266.2,495.6 1267.9,491.0 1269.7,499.7 1271.5,523.1 1273.3,498.1 1275.1,595.7 1276.9,806.1"/>
</g>
<g stroke="#000" stroke-width="1.90" fill="none" stroke-linecap="butt">
<rect x="1039.60" y="17.50" width="762.65" height="616.90"/>
<path d="M1042.75 634.40v12.6M1132.11 634.40v12.6M1221.47 634.40v12.6M1310.83 634.40v12.6M1400.19 634.40v12.6M1489.55 634.40v12.6M1578.91 634.40v12.6M1668.27 634.40v12.6M1757.63 634.40v12.6M1087.43 634.40v6.6M1176.79 634.40v6.6M1266.15 634.40v6.6M1355.51 634.40v6.6M1444.87 634.40v6.6M1534.23 634.40v6.6M1623.59 634.40v6.6M1712.95 634.40v6.6M1802.31 634.40v6.6M1039.60 634.40h-12.6M1039.60 557.29h-12.6M1039.60 480.17h-12.6M1039.60 403.06h-12.6M1039.60 325.95h-12.6M1039.60 248.84h-12.6M1039.60 171.73h-12.6M1039.60 94.61h-12.6M1039.60 17.50h-12.6M1039.60 595.84h-6.6M1039.60 518.73h-6.6M1039.60 441.62h-6.6M1039.60 364.51h-6.6M1039.60 287.39h-6.6M1039.60 210.28h-6.6M1039.60 133.17h-6.6M1039.60 56.06h-6.6"/>
</g>
<g font-size="26.92" text-anchor="middle">
<text transform="translate(1043.65 675.50) scale(0.961 1)">0</text>
<text transform="translate(1133.01 675.50) scale(0.961 1)">50</text>
<text transform="translate(1222.37 675.50) scale(0.961 1)">100</text>
<text transform="translate(1311.73 675.50) scale(0.961 1)">150</text>
<text transform="translate(1401.09 675.50) scale(0.961 1)">200</text>
<text transform="translate(1490.45 675.50) scale(0.961 1)">250</text>
<text transform="translate(1579.81 675.50) scale(0.961 1)">300</text>
<text transform="translate(1669.17 675.50) scale(0.961 1)">350</text>
<text transform="translate(1758.53 675.50) scale(0.961 1)">400</text>
</g>
<g font-size="26.92" text-anchor="end">
<text transform="translate(1019.00 642.40) scale(0.961 1)">0.70</text>
<text transform="translate(1019.00 565.29) scale(0.961 1)">0.75</text>
<text transform="translate(1019.00 488.17) scale(0.961 1)">0.80</text>
<text transform="translate(1019.00 411.06) scale(0.961 1)">0.85</text>
<text transform="translate(1019.00 333.95) scale(0.961 1)">0.90</text>
<text transform="translate(1019.00 256.84) scale(0.961 1)">0.95</text>
<text transform="translate(1019.00 179.73) scale(0.961 1)">1.00</text>
<text transform="translate(1019.00 102.61) scale(0.961 1)">1.05</text>
<text transform="translate(1019.00 25.50) scale(0.961 1)">1.10</text>
</g>
<text font-size="32.2" text-anchor="middle" x="1421.90" y="724.80">Cycle number</text>
<text font-size="32.2" text-anchor="middle" transform="translate(955.60 328.30) rotate(-90)">Normalized discharge capacity</text>
<text font-size="38.0" x="1056.50" y="60.80">b</text>
<path d="M1645.10 47.25H1703.75" stroke="#F00A8C" stroke-width="1.5" fill="none"/>
<use href="#tri" x="1674.42" y="47.25" fill="#F00A8C"/>
<text font-size="27.44" transform="translate(1711.90 56.11) scale(0.961 1)">FEC</text>
<path d="M1645.10 79.50H1703.75" stroke="#F08232" stroke-width="1.5" fill="none"/>
<use href="#tri" x="1674.42" y="79.50" fill="#F08232"/>
<text font-size="27.44" transform="translate(1711.90 88.36) scale(0.961 1)">VC</text>
<path d="M1645.10 111.90H1703.75" stroke="#E8DC3C" stroke-width="1.5" fill="none"/>
<use href="#tri" x="1674.42" y="111.90" fill="#E8DC3C"/>
<text font-size="27.44" transform="translate(1711.90 120.76) scale(0.961 1)">PES</text>
<path d="M1645.10 144.40H1703.75" stroke="#00DD08" stroke-width="1.5" fill="none"/>
<use href="#tri" x="1674.42" y="144.40" fill="#00DD08"/>
<text font-size="27.44" transform="translate(1711.90 153.26) scale(0.961 1)">DTD</text>
<path d="M1645.10 176.60H1703.75" stroke="#0CA0FF" stroke-width="1.5" fill="none"/>
<use href="#tri" x="1674.42" y="176.60" fill="#0CA0FF"/>
<text font-size="27.44" transform="translate(1711.90 185.46) scale(0.961 1)">TTSPi</text>
<clipPath id="clipc"><rect x="110.10" y="752.70" width="772.20" height="624.50"/></clipPath>
<g clip-path="url(#clipc)" fill="none" stroke-width="1.60" stroke-linejoin="round">
<polyline stroke="#F00A8C" marker-start="url(#mF00A8C)" marker-mid="url(#mF00A8C)" marker-end="url(#mF00A8C)" points="115.8,788.8 117.8,810.0 119.9,840.0 121.9,861.2 124.0,877.5 126.0,896.2 128.1,915.0 130.1,923.8 132.2,935.0 134.2,945.6 136.3,955.9 138.3,968.3 140.4,978.0 142.4,985.6 144.5,993.1 146.5,1003.4 148.6,1009.7 150.6,1016.6 152.7,1023.0 154.7,1029.8 156.8,1054.3 158.8,1058.3 160.9,1062.8 162.9,1075.1 165.0,1083.8 167.0,1087.2 169.1,1092.1 171.1,1097.5 173.2,1105.6 175.2,1111.2 177.3,1121.2 179.3,1131.2 181.4,1136.6 183.4,1142.5 185.5,1146.3 187.5,1149.8 189.6,1153.8 191.6,1161.9 193.7,1167.5 195.7,1177.4 197.8,1186.2 199.8,1190.9 201.9,1194.7 203.9,1200.0 206.0,1206.6 208.0,1212.5 210.1,1215.2 212.1,1220.5 214.2,1223.8 216.2,1232.7 218.3,1238.8 220.3,1242.3 222.4,1247.1 224.4,1253.8 226.5,1258.4 228.5,1260.0 230.6,1265.4 232.6,1272.5 234.7,1277.2 236.7,1282.5 238.8,1301.2 240.8,1304.4 242.9,1310.0 244.9,1316.6 247.0,1320.9 249.0,1325.0 251.1,1332.6 253.1,1336.2 255.2,1341.1 257.2,1343.9 259.3,1347.5 261.3,1351.2 263.3,1355.0 265.4,1358.3 267.4,1362.5 269.5,1367.0 271.5,1371.2 273.6,1372.9 275.6,1375.5"/>
<polyline stroke="#FF4040" marker-start="url(#mFF4040)" marker-mid="url(#mFF4040)" marker-end="url(#mFF4040)" points="115.8,903.6 117.8,920.6 119.9,938.7 121.9,956.9 124.0,972.8 126.0,987.5 128.1,1002.3 130.1,1015.9 132.2,1028.4 134.2,1040.8 136.3,1052.2 138.3,1067.6 140.4,1083.4 142.4,1097.5 144.5,1111.9 146.5,1125.0 148.6,1134.9 150.6,1147.5 152.7,1154.6 154.7,1160.0 156.8,1167.2 158.8,1175.0 160.9,1186.0 162.9,1195.0 165.0,1201.7 167.0,1203.4 169.1,1210.0 171.1,1216.9 173.2,1223.3 175.2,1230.0 177.3,1237.8 179.3,1245.0 181.4,1255.0 183.4,1256.9 185.5,1262.5 187.5,1268.1 189.6,1270.9 191.6,1277.5 193.7,1285.2 195.7,1292.5 197.8,1298.6 199.8,1305.0 201.9,1308.6 203.9,1305.8 206.0,1310.0 208.0,1313.9 210.1,1317.5 212.1,1324.9 214.2,1328.8 216.2,1330.3 218.3,1332.5 220.3,1347.5 222.4,1352.1 224.4,1352.5 226.5,1356.4 228.5,1357.5 230.6,1367.5 232.6,1372.2 234.7,1375.5"/>
<polyline stroke="#F08232" marker-start="url(#mF08232)" marker-mid="url(#mF08232)" marker-end="url(#mF08232)" points="115.8,865.0 117.8,875.0 119.9,883.2 121.9,888.8 124.0,898.8 126.0,901.6 128.1,900.9 130.1,906.2 132.2,909.1 134.2,910.8 136.3,913.0 138.3,917.5 140.4,919.1 142.4,923.9 144.5,925.0 146.5,927.7 148.6,931.1 150.6,931.2 152.7,935.5 154.7,935.0 156.8,944.1 158.8,948.8 160.9,952.6 162.9,955.5 165.0,954.6 167.0,955.4 169.1,961.8 171.1,970.5 173.2,974.8 175.2,978.0 177.3,983.9 179.3,988.4 181.4,994.7 183.4,996.8 185.5,1002.0 187.5,1000.6 189.6,1004.8 191.6,1010.0 193.7,1013.8 195.7,1016.8 197.8,1021.3 199.8,1023.9 201.9,1026.6 203.9,1027.9 206.0,1034.5 208.0,1036.5 210.1,1039.5 212.1,1040.2 214.2,1045.8 216.2,1045.8 218.3,1053.4 220.3,1061.6 222.4,1063.7 224.4,1070.1 226.5,1069.8 228.5,1072.2 230.6,1077.9 232.6,1084.8 234.7,1084.4 236.7,1090.0 238.8,1094.6 240.8,1099.7 242.9,1102.2 244.9,1107.5 247.0,1110.4 249.0,1112.6 251.1,1113.2 253.1,1118.8 255.2,1121.5 257.2,1127.4 259.3,1133.8 261.3,1137.4 263.3,1142.6 265.4,1143.5 267.4,1150.0 269.5,1153.7 271.5,1157.0 273.6,1160.0 275.6,1170.3 277.7,1180.0 279.7,1179.5 281.8,1187.8 283.8,1192.8 285.9,1190.0 287.9,1196.0 290.0,1201.1 292.0,1207.5 294.1,1212.7 296.1,1217.0 298.2,1222.5 300.2,1230.7 302.3,1237.5 304.3,1239.6 306.4,1246.7 308.4,1252.5 310.5,1253.4 312.5,1260.1 314.6,1266.5 316.6,1270.0 318.7,1273.9 320.7,1280.0 322.8,1284.7 324.8,1287.5 326.9,1292.8 328.9,1295.0 331.0,1301.2 333.0,1307.8 335.1,1310.0 337.1,1314.5 339.2,1317.9 341.2,1323.8 343.3,1325.9 345.3,1327.5 347.4,1329.1 349.4,1332.3 351.5,1331.2 353.5,1333.8 355.6,1338.5 357.6,1344.1 359.7,1348.8 361.7,1354.1 363.8,1358.3 365.8,1361.2 367.9,1368.1 369.9,1372.5 372.0,1375.8 374.0,1374.0 376.1,1375.5"/>
<polyline stroke="#E8A032" marker-start="url(#mE8A032)" marker-mid="url(#mE8A032)" marker-end="url(#mE8A032)" points="115.8,908.1 117.8,924.0 119.9,943.3 121.9,960.3 124.0,977.3 126.0,990.9 128.1,1004.5 130.1,1018.1 132.2,1031.8 134.2,1044.2 136.3,1055.6 138.3,1071.3 140.4,1086.7 142.4,1102.5 144.5,1109.7 146.5,1116.0 148.6,1125.0 150.6,1133.6 152.7,1140.0"/>
<polyline stroke="#E8DC3C" marker-start="url(#mE8DC3C)" marker-mid="url(#mE8DC3C)" marker-end="url(#mE8DC3C)" points="115.8,962.0 117.8,968.8 119.9,974.2 121.9,977.5 124.0,978.0 126.0,980.4 128.1,979.9 130.1,980.4 132.2,980.2 134.2,981.8 136.3,982.9 138.3,984.6 140.4,988.0 142.4,990.2 144.5,994.1 146.5,995.9 148.6,996.9 150.6,999.0 152.7,1000.6 154.7,1001.5 156.8,1006.3 158.8,1009.6 160.9,1011.9 162.9,1014.6 165.0,1016.7 167.0,1018.5 169.1,1018.9 171.1,1023.2 173.2,1024.9 175.2,1027.0 177.3,1025.5 179.3,1028.5 181.4,1028.9 183.4,1027.1 185.5,1030.8 187.5,1031.7 189.6,1031.7 191.6,1030.0 193.7,1033.6 195.7,1037.4 197.8,1034.7 199.8,1036.4 201.9,1038.8 203.9,1040.2 206.0,1042.7 208.0,1045.8 210.1,1047.7 212.1,1046.6 214.2,1049.6 216.2,1051.0 218.3,1052.4 220.3,1052.3 222.4,1054.3 224.4,1055.8 226.5,1055.0 228.5,1054.3 230.6,1053.5 232.6,1052.4 234.7,1053.5 236.7,1055.3 238.8,1055.4 240.8,1055.6 242.9,1056.7 244.9,1063.5 247.0,1067.2 249.0,1066.4 251.1,1070.3 253.1,1071.3 255.2,1070.5 257.2,1069.4 259.3,1074.3 261.3,1072.5 263.3,1072.4 265.4,1079.1 267.4,1078.3 269.5,1083.8 271.5,1088.7 273.6,1087.8 275.6,1086.6 277.7,1088.8 279.7,1092.5 281.8,1098.9 283.8,1093.4 285.9,1099.7 287.9,1102.0 290.0,1106.2 292.0,1112.0 294.1,1113.7 296.1,1115.5 298.2,1111.2 300.2,1117.5 302.3,1119.0 304.3,1119.9 306.4,1119.1 308.4,1121.2 310.5,1124.4 312.5,1131.5 314.6,1132.5 316.6,1133.6 318.7,1134.9 320.7,1134.2 322.8,1138.7 324.8,1140.0 326.9,1140.0 328.9,1145.4 331.0,1145.2 333.0,1143.8 335.1,1144.3 337.1,1141.5 339.2,1145.8 341.2,1148.8 343.3,1152.0 345.3,1155.6 347.4,1160.0 349.4,1162.5 351.5,1169.3 353.5,1168.4 355.6,1167.5 357.6,1163.7 359.7,1163.8 361.7,1165.3 363.8,1168.5 365.8,1176.2 367.9,1174.1 369.9,1172.4 372.0,1177.2 374.0,1177.5 376.1,1178.2 378.1,1181.8 380.2,1178.2 382.2,1178.8 384.3,1182.7 386.3,1188.2 388.4,1191.2 390.4,1199.1 392.5,1192.3 394.5,1200.0 396.6,1199.6 398.6,1199.6 400.7,1196.2 402.7,1197.2 404.8,1200.3 406.8,1203.8 408.8,1210.8 410.9,1211.4 412.9,1208.1 415.0,1213.8 417.0,1219.2 419.1,1219.5 421.1,1222.7 423.2,1221.2 425.2,1217.2 427.3,1218.8 429.3,1218.0 431.4,1222.1 433.4,1227.9 435.5,1226.2 437.5,1223.3 439.6,1233.1 441.6,1233.8 443.7,1231.8 445.7,1235.5 447.8,1236.8 449.8,1234.2 451.9,1238.8 453.9,1238.1 456.0,1241.9 458.0,1243.0 460.1,1240.0 462.1,1239.1 464.2,1244.1 466.2,1250.0 468.3,1247.5 470.3,1247.6 472.4,1252.5 474.4,1258.8 476.5,1252.0 478.5,1257.8 480.6,1258.8 482.6,1255.0 484.7,1253.4 486.7,1252.4 488.8,1254.4 490.8,1257.5 492.9,1263.9 494.9,1267.5 497.0,1263.9 499.0,1260.0 501.1,1261.3 503.1,1266.8 505.2,1266.9 507.2,1267.5 509.3,1271.4 511.3,1272.3 513.4,1272.8 515.4,1271.2 517.5,1273.2 519.5,1277.7 521.6,1281.2 523.6,1282.8 525.7,1286.2 527.7,1286.1 529.8,1292.5 531.8,1293.4 533.9,1295.0 535.9,1293.8 538.0,1293.5 540.0,1295.2 542.1,1297.2 544.1,1297.5 546.2,1298.5 548.2,1299.4 550.3,1303.5 552.3,1302.0 554.3,1303.8 556.4,1306.6 558.4,1304.9 560.5,1300.8 562.5,1304.3 564.6,1307.5 566.6,1308.9 568.7,1307.1 570.7,1307.1 572.8,1308.5 574.8,1312.5 576.9,1313.3 578.9,1315.8 581.0,1317.0 583.0,1319.6 585.1,1318.8 587.1,1325.1 589.2,1323.7 591.2,1320.7 593.3,1325.1 595.3,1323.8 597.4,1328.0 599.4,1326.7 601.5,1325.8 603.5,1330.3 605.6,1328.8 607.6,1323.3 609.7,1332.0 611.7,1332.8 613.8,1333.2 615.8,1332.5 617.9,1333.5 619.9,1331.9 622.0,1333.3 624.0,1336.2 626.1,1338.9 628.1,1343.3 630.2,1345.3 632.2,1345.1 634.3,1345.0 636.3,1346.4 638.4,1346.5 640.4,1347.9 642.5,1352.4 644.5,1353.8 646.6,1355.8 648.6,1356.8 650.7,1357.1 652.7,1353.9 654.8,1357.5 656.8,1360.1 658.9,1357.9 660.9,1356.9 663.0,1360.8 665.0,1361.2 667.1,1359.5 669.1,1360.8 671.2,1361.9 673.2,1367.2 675.3,1366.2 677.3,1366.6 679.4,1373.3 681.4,1366.9 683.5,1371.0 685.5,1372.5 687.6,1367.3 689.6,1373.3 691.7,1376.1 693.7,1375.0 695.8,1374.0 697.8,1376.0"/>
<polyline stroke="#A0E632" marker-start="url(#mA0E632)" marker-mid="url(#mA0E632)" marker-end="url(#mA0E632)" points="115.8,925.2 117.8,929.9 119.9,935.6 121.9,942.2 124.0,946.0 126.0,947.8 128.1,949.7 130.1,955.4 132.2,958.6 134.2,960.1 136.3,962.9 138.3,963.6 140.4,966.7 142.4,967.6 144.5,978.9 146.5,979.7 148.6,979.9 150.6,981.0 152.7,983.7 154.7,986.0 156.8,987.4 158.8,993.1 160.9,998.7 162.9,1001.6 165.0,1003.4 167.0,1008.2 169.1,1013.8 171.1,1026.1 173.2,1030.8 175.2,1031.5 177.3,1032.7 179.3,1035.5 181.4,1034.5 183.4,1056.7 185.5,1037.4 187.5,1036.3 189.6,1077.1 191.6,1039.7 193.7,1043.1 195.7,1082.8 197.8,1230.3 199.8,1603.5 201.9,1301.7 203.9,1830.3"/>
<polyline stroke="#00DD08" marker-start="url(#m00DD08)" marker-mid="url(#m00DD08)" marker-end="url(#m00DD08)" points="115.8,821.3 117.8,843.8 119.9,852.5 121.9,858.7 124.0,863.7 126.0,869.4 128.1,874.4 130.1,878.3 132.2,883.8 134.2,890.0 136.3,895.0 138.3,901.2 140.4,912.5 142.4,915.4 144.5,921.2 146.5,925.5 148.6,934.3 150.6,936.5 152.7,941.8 154.7,944.1 156.8,948.3 158.8,953.5 160.9,958.3 162.9,964.8 165.0,968.5 167.0,973.3 169.1,976.3 171.1,977.1 173.2,980.3 175.2,985.5 177.3,989.9 179.3,992.1 181.4,996.0 183.4,998.7 185.5,1001.9 187.5,1007.2 189.6,1012.2 191.6,1015.7 193.7,1019.4 195.7,1021.3 197.8,1027.4 199.8,1030.8 201.9,1032.9 203.9,1036.4 206.0,1044.0 208.0,1045.5 210.1,1051.5 212.1,1055.8 214.2,1059.0 216.2,1063.3 218.3,1064.7 220.3,1068.6 222.4,1072.2 224.4,1073.2 226.5,1076.9 228.5,1079.4 230.6,1085.0 232.6,1091.9 234.7,1100.0 236.7,1107.2 238.8,1109.0 240.8,1115.0 242.9,1117.9 244.9,1121.3 247.0,1121.2 249.0,1141.2 251.1,1144.1 253.1,1154.7 255.2,1156.2 257.2,1158.1 259.3,1158.3 261.3,1162.0 263.3,1168.5 265.4,1167.5 267.4,1173.8 269.5,1181.2 271.5,1185.3 273.6,1184.0 275.6,1185.9 277.7,1190.0 279.7,1194.6 281.8,1199.3 283.8,1202.3 285.9,1210.0 287.9,1213.3 290.0,1217.4 292.0,1222.5 294.1,1224.1 296.1,1228.4 298.2,1232.8 300.2,1237.5 302.3,1241.7 304.3,1242.3 306.4,1250.0 308.4,1250.0 310.5,1251.4 312.5,1258.5 314.6,1256.6 316.6,1262.5 318.7,1266.1 320.7,1268.6 322.8,1272.5 324.8,1268.5 326.9,1265.0 328.9,1276.8 331.0,1286.2 333.0,1286.7 335.1,1290.6 337.1,1294.3 339.2,1295.0 341.2,1290.8 343.3,1292.4 345.3,1290.0 347.4,1292.7 349.4,1295.3 351.5,1297.5 353.5,1300.7 355.6,1308.8 357.6,1309.5 359.7,1316.7 361.7,1317.5 363.8,1319.4 365.8,1321.6 367.9,1325.0 369.9,1328.9 372.0,1332.5 374.0,1328.5 376.1,1325.0 378.1,1326.9 380.2,1327.7 382.2,1328.7 384.3,1331.2 386.3,1331.8 388.4,1334.0 390.4,1333.5 392.5,1338.8 394.5,1341.4 396.6,1343.1 398.6,1344.4 400.7,1346.2 402.7,1351.0 404.8,1353.9 406.8,1358.8 408.8,1356.2 410.9,1345.0 412.9,1355.2 415.0,1366.2 417.0,1365.4 419.1,1366.2 421.1,1365.0 423.2,1368.3 425.2,1372.5 427.3,1368.4 429.3,1371.9 431.4,1373.4 433.4,1372.7 435.5,1372.5 437.5,1369.5 439.6,1366.2 441.6,1369.2 443.7,1368.7 445.7,1372.5 447.8,1373.2 449.8,1372.1 451.9,1372.8 453.9,1372.4 456.0,1375.5"/>
<polyline stroke="#00C8C8" marker-start="url(#m00C8C8)" marker-mid="url(#m00C8C8)" marker-end="url(#m00C8C8)" points="115.8,976.2 117.8,972.9 119.9,972.5 121.9,971.9 124.0,972.3 126.0,972.6 128.1,972.5 130.1,973.0 132.2,973.6 134.2,973.9 136.3,974.2 138.3,973.4 140.4,973.8 142.4,972.3 144.5,973.0 146.5,973.0 148.6,972.6 150.6,973.0 152.7,975.1 154.7,973.4 156.8,975.2 158.8,975.3 160.9,976.2 162.9,974.6 165.0,977.0 167.0,978.6 169.1,980.0 171.1,979.6 173.2,981.7 175.2,980.3 177.3,983.3 179.3,982.5 181.4,982.2 183.4,984.7 185.5,984.5 187.5,985.2 189.6,986.2 191.6,986.9 193.7,985.9 195.7,984.7 197.8,988.7 199.8,987.5 201.9,987.2 203.9,988.7 206.0,989.8 208.0,988.8 210.1,990.7 212.1,995.0 214.2,994.2 216.2,995.3 218.3,997.7 220.3,997.5 222.4,997.1 224.4,999.3 226.5,998.2 228.5,998.8 230.6,1001.0 232.6,1000.7 234.7,1001.2 236.7,1001.1 238.8,1005.0 240.8,1004.2 242.9,1005.0 244.9,1004.5 247.0,1004.7 249.0,1006.2 251.1,1007.3 253.1,1006.8 255.2,1010.8 257.2,1010.0 259.3,1010.3 261.3,1012.4 263.3,1013.5 265.4,1013.8 267.4,1016.5 269.5,1018.6 271.5,1016.3 273.6,1014.9 275.6,1018.2 277.7,1018.8 279.7,1020.0 281.8,1021.9 283.8,1020.5 285.9,1020.5 287.9,1022.5 290.0,1021.8 292.0,1025.6 294.1,1025.0 296.1,1027.7 298.2,1029.0 300.2,1030.0 302.3,1030.9 304.3,1031.1 306.4,1032.6 308.4,1035.0 310.5,1033.7 312.5,1039.1 314.6,1037.5 316.6,1037.6 318.7,1038.8 320.7,1038.5 322.8,1040.0 324.8,1041.9 326.9,1039.3 328.9,1041.0 331.0,1041.2 333.0,1042.4 335.1,1043.8 337.1,1045.0 339.2,1046.9 341.2,1046.6 343.3,1048.1 345.3,1048.8 347.4,1050.9 349.4,1049.7 351.5,1053.6 353.5,1055.0 355.6,1051.9 357.6,1057.3 359.7,1057.5 361.7,1059.6 363.8,1059.7 365.8,1060.0 367.9,1059.3 369.9,1060.0 372.0,1059.2 374.0,1062.4 376.1,1062.0 378.1,1065.6 380.2,1063.8 382.2,1064.8 384.3,1066.9 386.3,1066.9 388.4,1065.2 390.4,1066.7 392.5,1067.5 394.5,1068.9 396.6,1068.5 398.6,1069.8 400.7,1072.7 402.7,1070.9 404.8,1071.2 406.8,1073.3 408.8,1071.5 410.9,1073.8 412.9,1071.5 415.0,1074.3 417.0,1076.8 419.1,1075.0 421.1,1076.4 423.2,1075.2 425.2,1073.5 427.3,1076.1 429.3,1076.2 431.4,1075.6 433.4,1079.9 435.5,1079.3 437.5,1083.8 439.6,1080.9 441.6,1089.8 443.7,1089.1 445.7,1091.2 447.8,1096.4 449.8,1093.3 451.9,1095.1 453.9,1089.0 456.0,1092.5 458.0,1094.3 460.1,1095.9 462.1,1095.9 464.2,1092.5 466.2,1095.0 468.3,1093.6 470.3,1095.2 472.4,1099.5 474.4,1093.6 476.5,1097.1 478.5,1099.0 480.6,1100.9 482.6,1098.9 484.7,1102.8 486.7,1131.0 488.8,1144.2 490.8,1139.3 492.9,1132.0 494.9,1130.6 497.0,1124.4 499.0,1113.1 501.1,1116.0 503.1,1113.9 505.2,1113.7 507.2,1115.0 509.3,1114.4 511.3,1119.7 513.4,1120.0 515.4,1117.6 517.5,1119.7 519.5,1117.6 521.6,1120.7 523.6,1147.1 525.7,1149.9 527.7,1153.1 529.8,1151.8 531.8,1155.5 533.9,1153.9 535.9,1148.9 538.0,1139.5 540.0,1137.5 542.1,1133.9 544.1,1136.8 546.2,1136.7 548.2,1139.5 550.3,1131.0 552.3,1139.5 554.3,1172.5 556.4,1176.8 558.4,1176.1 560.5,1174.4 562.5,1160.9 564.6,1149.9 566.6,1144.8 568.7,1146.1 570.7,1144.7 572.8,1147.1 574.8,1153.7 576.9,1181.0 578.9,1153.7 581.0,1151.7 583.0,1151.8 585.1,1153.5 587.1,1149.9 589.2,1150.2 591.2,1153.7 593.3,1156.9 595.3,1155.5 597.4,1158.8 599.4,1163.1 601.5,1178.2 603.5,1165.0 605.6,1166.7 607.6,1165.0 609.7,1168.9 611.7,1165.9 613.8,1168.3 615.8,1165.0 617.9,1158.4 619.9,1170.6 622.0,1169.6 624.0,1171.6 626.1,1174.0 628.1,1176.3 630.2,1177.8 632.2,1174.5 634.3,1175.0 636.3,1177.7 638.4,1175.4 640.4,1177.6 642.5,1178.8 644.5,1179.2 646.6,1178.4 648.6,1179.4 650.7,1178.4 652.7,1182.5 654.8,1181.7 656.8,1185.3 658.9,1182.8 660.9,1181.2 663.0,1185.0 665.0,1185.9 667.1,1185.0 669.1,1185.6 671.2,1188.4 673.2,1186.2 675.3,1188.7 677.3,1181.9 679.4,1187.5 681.4,1220.0 683.5,1220.4 685.5,1223.8 687.6,1216.7 689.6,1211.2 691.7,1217.7 693.7,1222.5 695.8,1258.8 697.8,1227.5 699.8,1230.3 701.9,1230.0 703.9,1245.5 706.0,1258.8 708.0,1230.0 710.1,1225.7 712.1,1222.8 714.2,1210.0 716.2,1212.8 718.3,1214.3 720.3,1218.8 722.4,1222.5 724.4,1220.5 726.5,1226.2 728.5,1227.3 730.6,1227.3 732.6,1232.3 734.7,1231.2 736.7,1233.0 738.8,1232.0 740.8,1235.0 742.9,1231.9 744.9,1230.0 747.0,1258.8 749.0,1246.2 751.1,1247.4 753.1,1248.1 755.2,1247.5 757.2,1254.6 759.3,1262.5 761.3,1247.5 763.4,1267.5 765.4,1258.6 767.5,1256.8 769.5,1250.0 771.6,1254.5 773.6,1259.2 775.7,1262.5 777.7,1252.5 779.8,1288.8 781.8,1265.0 783.9,1265.5 785.9,1260.0 788.0,1260.1 790.0,1262.8 792.1,1263.8 794.1,1279.4 796.2,1295.0 798.2,1272.5 800.3,1267.1 802.3,1266.2 804.4,1286.2 806.4,1282.4 808.5,1276.2 810.5,1277.9 812.6,1280.0 814.6,1278.5 816.7,1283.0 818.7,1282.5 820.8,1282.9 822.8,1285.0 824.9,1277.5 826.9,1310.0 829.0,1320.0 831.0,1335.0 833.1,1322.5 835.1,1322.2 837.2,1317.4 839.2,1317.5 841.3,1290.0 843.3,1290.1 845.4,1293.8 847.4,1295.4 849.4,1298.1 851.5,1296.2"/>
<polyline stroke="#0CA0FF" marker-start="url(#m0CA0FF)" marker-mid="url(#m0CA0FF)" marker-end="url(#m0CA0FF)" points="115.8,1030.6 117.8,1123.6 119.9,1108.2 121.9,1093.8 124.0,1086.2 126.0,1083.3 128.1,1080.3 130.1,1077.5 132.2,1075.6 134.2,1072.7 136.3,1069.5 138.3,1067.5 140.4,1061.4 142.4,1055.0 144.5,1053.5 146.5,1052.2 148.6,1050.3 150.6,1048.8 152.7,1049.3 154.7,1047.1 156.8,1046.2 158.8,1046.6 160.9,1046.5 162.9,1044.5 165.0,1045.0 167.0,1045.6 169.1,1047.4 171.1,1048.9 173.2,1048.8 175.2,1048.6 177.3,1048.8 179.3,1048.8 181.4,1049.0 183.4,1047.2 185.5,1048.2 187.5,1047.0 189.6,1048.8 191.6,1049.0 193.7,1049.5 195.7,1048.0 197.8,1047.8 199.8,1048.8 201.9,1048.7 203.9,1049.6 206.0,1050.1 208.0,1050.0 210.1,1053.1 212.1,1053.5 214.2,1053.8 216.2,1054.9 218.3,1055.1 220.3,1056.8 222.4,1058.8 224.4,1058.7 226.5,1061.3 228.5,1058.7 230.6,1058.8 232.6,1059.4 234.7,1061.6 236.7,1062.5 238.8,1063.5 240.8,1063.5 242.9,1065.8 244.9,1063.8 247.0,1061.9 249.0,1062.6 251.1,1063.4 253.1,1062.5 255.2,1062.4 257.2,1061.2 259.3,1062.2 261.3,1064.6 263.3,1066.2 265.4,1070.3 267.4,1067.8 269.5,1068.8 271.5,1067.7 273.6,1068.9 275.6,1070.4 277.7,1071.5 279.7,1070.0 281.8,1070.9 283.8,1072.3 285.9,1068.5 287.9,1071.2 290.0,1097.5 292.0,1097.5 294.1,1085.5 296.1,1078.8 298.2,1078.1 300.2,1076.7 302.3,1076.2 304.3,1079.8 306.4,1080.8 308.4,1083.8 310.5,1083.9 312.5,1083.0 314.6,1084.4 316.6,1086.2 318.7,1084.8 320.7,1083.9 322.8,1086.7 324.8,1087.5 326.9,1098.8 328.9,1102.8 331.0,1106.2 333.0,1090.0 335.1,1092.2 337.1,1090.3 339.2,1086.7 341.2,1093.1 343.3,1091.1 345.3,1092.5 347.4,1094.6 349.4,1094.5 351.5,1095.7 353.5,1094.7 355.6,1096.2 357.6,1092.3 359.7,1096.2 361.7,1096.4 363.8,1095.3 365.8,1100.0 367.9,1099.3 369.9,1097.5 372.0,1097.1 374.0,1096.2 376.1,1095.7 378.1,1102.5 380.2,1100.0 382.2,1101.6 384.3,1101.1 386.3,1103.8 388.4,1103.8 390.4,1100.4 392.5,1100.0 394.5,1100.0 396.6,1102.5 398.6,1106.6 400.7,1104.7 402.7,1107.5 404.8,1110.4 406.8,1108.6 408.8,1111.3 410.9,1112.2 412.9,1112.5 415.0,1110.1 417.0,1112.6 419.1,1109.7 421.1,1109.1 423.2,1108.8 425.2,1109.4 427.3,1110.2 429.3,1110.0 431.4,1109.2 433.4,1110.4 435.5,1107.2 437.5,1107.9 439.6,1107.5 441.6,1109.6 443.7,1114.1 445.7,1115.1 447.8,1118.8 449.8,1118.8 451.9,1124.8 453.9,1121.7 456.0,1121.2 458.0,1121.3 460.1,1121.7 462.1,1125.0 464.2,1125.8 466.2,1121.8 468.3,1119.0 470.3,1117.8 472.4,1120.1 474.4,1121.2 476.5,1119.7 478.5,1117.9 480.6,1122.6 482.6,1124.2 484.7,1124.6 486.7,1124.4 488.8,1127.5 490.8,1124.3 492.9,1124.4 494.9,1129.2 497.0,1133.2 499.0,1127.8 501.1,1132.0 503.1,1127.9 505.2,1132.4 507.2,1132.0 509.3,1130.9 511.3,1131.1 513.4,1130.1 515.4,1133.8 517.5,1133.9 519.5,1135.9 521.6,1132.5 523.6,1133.9 525.7,1134.8 527.7,1136.7 529.8,1136.7 531.8,1185.7 533.9,1217.7 535.9,1238.5 538.0,1226.2 540.0,1212.1 542.1,1205.5 544.1,1205.5 546.2,1197.0 548.2,1182.9 550.3,1171.6 552.3,1176.3 554.3,1172.5 556.4,1159.3 558.4,1191.3 560.5,1175.3 562.5,1163.1 564.6,1154.6 566.6,1154.0 568.7,1154.6 570.7,1152.7 572.8,1152.9 574.8,1154.6 576.9,1157.1 578.9,1154.6 581.0,1153.6 583.0,1158.4 585.1,1157.3 587.1,1157.4 589.2,1153.9 591.2,1155.4 593.3,1154.6 595.3,1156.5 597.4,1155.7 599.4,1154.6 601.5,1155.6 603.5,1161.2 605.6,1161.0 607.6,1161.2 609.7,1163.1 611.7,1159.8 613.8,1156.5 615.8,1159.8 617.9,1160.2 619.9,1155.5 622.0,1158.1 624.0,1162.1 626.1,1158.0 628.1,1158.2 630.2,1163.1 632.2,1158.5 634.3,1167.4 636.3,1160.0 638.4,1168.8 640.4,1165.0 642.5,1165.7 644.5,1166.8 646.6,1164.7 648.6,1169.5 650.7,1167.5 652.7,1170.7 654.8,1163.7 656.8,1169.8 658.9,1167.4 660.9,1168.8 663.0,1166.0 665.0,1172.1 667.1,1172.0 669.1,1170.0 671.2,1169.3 673.2,1172.0 675.3,1168.6 677.3,1168.3 679.4,1170.0 681.4,1168.6 683.5,1166.4 685.5,1171.6 687.6,1172.3 689.6,1171.2 691.7,1174.1 693.7,1176.9 695.8,1173.0 697.8,1174.8 699.8,1176.2 701.9,1177.0 703.9,1179.2 706.0,1180.2 708.0,1178.9 710.1,1178.8 712.1,1179.1 714.2,1185.9 716.2,1179.9 718.3,1184.2 720.3,1182.5 722.4,1184.8 724.4,1184.6 726.5,1186.0 728.5,1188.8 730.6,1187.5 732.6,1188.0 734.7,1181.5 736.7,1187.8 738.8,1186.9 740.8,1188.8 742.9,1189.3 744.9,1190.1 747.0,1192.5 749.0,1202.0 751.1,1196.1 753.1,1197.7 755.2,1196.2 757.2,1197.5 759.3,1191.3 761.3,1189.9 763.4,1193.7 765.4,1191.2 767.5,1192.2 769.5,1188.0 771.6,1188.6 773.6,1190.0 775.7,1188.9 777.7,1196.0 779.8,1190.2 781.8,1196.2 783.9,1191.6 785.9,1193.3 788.0,1192.5 790.0,1196.8 792.1,1190.2 794.1,1198.1 796.2,1196.2 798.2,1197.5 800.3,1206.4 802.3,1205.0 804.4,1205.3 806.4,1203.6 808.5,1206.9 810.5,1207.5 812.6,1208.9 814.6,1206.4 816.7,1202.5 818.7,1203.7 820.8,1202.3 822.8,1200.4 824.9,1206.2 826.9,1209.0 829.0,1208.0 831.0,1209.4 833.1,1212.5 835.1,1215.5 837.2,1215.0"/>
<polyline stroke="#2840FF" marker-start="url(#m2840FF)" marker-mid="url(#m2840FF)" marker-end="url(#m2840FF)" points="115.8,918.8 117.8,890.0 119.9,885.3 121.9,880.0 124.0,879.3 126.0,880.4 128.1,879.3 130.1,878.8 132.2,878.7 134.2,877.5 136.3,878.4 138.3,877.6 140.4,880.1 142.4,881.2 144.5,881.2 146.5,883.3 148.6,883.6 150.6,883.8 152.7,884.2 154.7,884.6 156.8,884.3 158.8,883.8 160.9,886.0 162.9,889.2 165.0,893.8 167.0,895.3 169.1,896.5 171.1,897.7 173.2,898.8 175.2,897.9 177.3,896.2 179.3,896.2 181.4,900.5 183.4,899.3 185.5,903.8 187.5,903.5 189.6,906.7 191.6,907.3 193.7,911.0 195.7,910.0 197.8,909.0 199.8,908.3 201.9,908.8 203.9,910.7 206.0,915.8 208.0,915.3 210.1,917.5 212.1,920.3 214.2,919.5 216.2,922.0 218.3,923.9 220.3,923.8 222.4,925.7 224.4,926.7 226.5,927.4 228.5,929.5 230.6,930.0 232.6,928.0 234.7,929.7 236.7,932.9 238.8,934.2 240.8,933.7 242.9,937.1 244.9,937.0 247.0,942.5 249.0,943.2 251.1,946.7 253.1,946.9 255.2,948.8 257.2,952.4 259.3,949.9 261.3,953.2 263.3,953.0 265.4,952.5 267.4,950.4 269.5,954.4 271.5,956.4 273.6,955.0 275.6,957.5 277.7,957.7 279.7,961.8 281.8,962.3 283.8,960.4 285.9,963.8 287.9,965.5 290.0,964.9 292.0,967.2 294.1,971.2 296.1,972.6 298.2,973.2 300.2,975.9 302.3,974.1 304.3,975.0 306.4,972.8 308.4,975.7 310.5,972.5 312.5,976.3 314.6,977.4 316.6,980.0 318.7,977.6 320.7,980.0 322.8,978.9 324.8,976.1 326.9,978.8 328.9,981.1 331.0,985.1 333.0,988.8 335.1,990.0 337.1,991.9 339.2,997.5 341.2,999.0 343.3,995.0 345.3,997.3 347.4,993.8 349.4,994.8 351.5,999.6 353.5,995.5 355.6,995.0 357.6,998.7 359.7,1000.4 361.7,995.5 363.8,995.5 365.8,997.5 367.9,1001.0 369.9,1001.5 372.0,1002.9 374.0,1001.2 376.1,1009.4 378.1,1012.5 380.2,1021.0 382.2,1022.1 384.3,1020.0 386.3,1019.8 388.4,1022.7 390.4,1010.9 392.5,1015.0 394.5,1014.3 396.6,1021.5 398.6,1012.9 400.7,1015.2 402.7,1015.0 404.8,1017.5 406.8,1022.3 408.8,1022.0 410.9,1019.1 412.9,1021.2 415.0,1021.8 417.0,1024.6 419.1,1027.5 421.1,1028.9 423.2,1027.1 425.2,1035.0 427.3,1039.4 429.3,1034.5 431.4,1036.8 433.4,1039.0 435.5,1036.2 437.5,1036.1 439.6,1041.5 441.6,1041.2 443.7,1044.4 445.7,1040.0 447.8,1044.8 449.8,1045.5 451.9,1045.0 453.9,1049.4 456.0,1044.2 458.0,1050.6 460.1,1048.8 462.1,1048.6 464.2,1050.0 466.2,1051.3 468.3,1052.8 470.3,1053.8 472.4,1060.0 474.4,1064.7 476.5,1062.8 478.5,1059.0 480.6,1067.2 482.6,1065.0 484.7,1066.7 486.7,1065.1 488.8,1071.8 490.8,1067.4 492.9,1072.5 494.9,1073.2 497.0,1077.5 499.0,1075.1 501.1,1078.1 503.1,1077.5 505.2,1076.9 507.2,1080.6 509.3,1076.4 511.3,1085.3 513.4,1078.8 515.4,1080.6 517.5,1077.2 519.5,1083.8 521.6,1084.7 523.6,1086.7 525.7,1088.6 527.7,1086.6 529.8,1090.0 531.8,1092.9 533.9,1088.7 535.9,1087.5 538.0,1089.1 540.0,1090.8 542.1,1092.4 544.1,1096.2 546.2,1096.4 548.2,1093.8 550.3,1097.5 552.3,1100.8 554.3,1101.2 556.4,1103.8 558.4,1098.2 560.5,1105.9 562.5,1104.4 564.6,1107.5 566.6,1106.4 568.7,1112.5 570.7,1115.5 572.8,1112.2 574.8,1112.5 576.9,1119.7 578.9,1113.4 581.0,1112.5 583.0,1113.8 585.1,1113.8 587.1,1119.4 589.2,1117.0 591.2,1118.3 593.3,1113.4 595.3,1116.2 597.4,1115.5 599.4,1122.2 601.5,1122.0 603.5,1118.5 605.6,1120.0 607.6,1118.3 609.7,1122.5 611.7,1126.7 613.8,1125.2 615.8,1130.0 617.9,1132.1 619.9,1128.2 622.0,1132.5 624.0,1134.8 626.1,1138.8 628.1,1137.7 630.2,1137.5 632.2,1136.8 634.3,1136.2 636.3,1141.6 638.4,1146.9 640.4,1146.2 642.5,1147.8 644.5,1146.0 646.6,1147.5 648.6,1145.8 650.7,1146.3 652.7,1152.5 654.8,1156.2 656.8,1163.4 658.9,1159.6 660.9,1156.2 663.0,1162.7 665.0,1163.8 667.1,1164.1 669.1,1163.3 671.2,1165.9 673.2,1166.9 675.3,1168.8 677.3,1166.9 679.4,1165.0 681.4,1170.0 683.5,1167.3 685.5,1168.8 687.6,1170.3 689.6,1173.8 691.7,1174.3 693.7,1174.9 695.8,1175.0 697.8,1174.7 699.8,1174.9 701.9,1178.7 703.9,1183.4 706.0,1181.2 708.0,1189.2 710.1,1185.0 712.1,1178.3 714.2,1182.5 716.2,1186.5 718.3,1193.8 720.3,1190.0 722.4,1194.8 724.4,1197.5 726.5,1196.7 728.5,1199.1 730.6,1195.6 732.6,1200.0 734.7,1195.9 736.7,1190.0 738.8,1196.7 740.8,1201.0 742.9,1198.8 744.9,1197.0 747.0,1206.2 749.0,1210.4 751.1,1209.2 753.1,1210.0 755.2,1213.8"/>
<polyline stroke="#7800E6" marker-start="url(#m7800E6)" marker-mid="url(#m7800E6)" marker-end="url(#m7800E6)" points="115.8,958.8 117.8,948.8 119.9,942.5 121.9,941.3 124.0,939.5 126.0,941.0 128.1,942.5 130.1,943.9 132.2,947.4 134.2,948.8 136.3,949.2 138.3,950.3 140.4,950.5 142.4,952.5 144.5,954.2 146.5,956.0 148.6,957.5 150.6,957.3 152.7,957.3 154.7,956.2 156.8,957.4 158.8,958.6 160.9,960.3 162.9,961.3 165.0,962.5 167.0,962.8 169.1,963.4 171.1,965.3 173.2,968.3 175.2,967.5 177.3,969.0 179.3,967.7 181.4,969.1 183.4,967.5 185.5,967.9 187.5,966.4 189.6,966.2 191.6,967.2 193.7,967.2 195.7,970.6 197.8,970.0 199.8,969.5 201.9,970.7 203.9,970.5 206.0,971.2 208.0,973.7 210.1,973.0 212.1,975.0 214.2,972.9 216.2,976.3 218.3,975.0 220.3,976.2 222.4,975.9 224.4,978.9 226.5,977.7 228.5,980.0 230.6,978.7 232.6,980.0 234.7,981.2 236.7,983.6 238.8,982.6 240.8,984.3 242.9,986.2 244.9,988.5 247.0,988.8 249.0,991.2 251.1,991.8 253.1,992.8 255.2,993.8 257.2,995.0 259.3,997.2 261.3,996.9 263.3,995.9 265.4,997.5 267.4,997.2 269.5,998.3 271.5,1001.2 273.6,1001.0 275.6,1002.8 277.7,1002.7 279.7,1005.0 281.8,1004.3 283.8,1003.7 285.9,1001.2 287.9,1004.0 290.0,1007.5 292.0,1007.5 294.1,1012.6 296.1,1007.9 298.2,1013.8 300.2,1015.1 302.3,1015.8 304.3,1018.8 306.4,1021.6 308.4,1021.4 310.5,1021.8 312.5,1023.8 314.6,1022.1 316.6,1022.8 318.7,1022.5 320.7,1026.4 322.8,1027.5 324.8,1024.2 326.9,1025.0 328.9,1030.8 331.0,1031.7 333.0,1032.5 335.1,1032.8 337.1,1032.2 339.2,1036.2 341.2,1036.7 343.3,1035.9 345.3,1037.5 347.4,1045.7 349.4,1045.0 351.5,1042.8 353.5,1047.3 355.6,1051.2 357.6,1052.3 359.7,1051.3 361.7,1047.3 363.8,1051.1 365.8,1052.5 367.9,1052.0 369.9,1057.7 372.0,1060.0 374.0,1062.9 376.1,1064.0 378.1,1063.3 380.2,1066.2 382.2,1066.2 384.3,1068.2 386.3,1073.6 388.4,1071.2 390.4,1073.7 392.5,1074.8 394.5,1073.8 396.6,1076.2 398.6,1075.7 400.7,1078.1 402.7,1079.9 404.8,1080.0 406.8,1081.2 408.8,1080.0 410.9,1083.2 412.9,1083.2 415.0,1086.0 417.0,1083.8 419.1,1081.8 421.1,1086.1 423.2,1087.7 425.2,1090.3 427.3,1088.8 429.3,1089.3 431.4,1086.1 433.4,1091.1 435.5,1092.5 437.5,1100.9 439.6,1096.2 441.6,1102.5 443.7,1107.7 445.7,1105.9 447.8,1111.5 449.8,1110.0 451.9,1108.9 453.9,1111.3 456.0,1114.1 458.0,1119.5 460.1,1116.2 462.1,1120.5 464.2,1116.9 466.2,1123.6 468.3,1120.0 470.3,1124.4 472.4,1120.9 474.4,1124.4 476.5,1131.5 478.5,1132.0 480.6,1128.7 482.6,1129.2 484.7,1133.5 486.7,1134.8 488.8,1132.9 490.8,1137.7 492.9,1139.5 494.9,1138.9 497.0,1141.4 499.0,1148.0 501.1,1147.8 503.1,1147.1 505.2,1150.6 507.2,1153.7 509.3,1154.8 511.3,1148.0 513.4,1155.5 515.4,1154.6 517.5,1157.4 519.5,1172.5 521.6,1166.8 523.6,1159.3 525.7,1188.5 527.7,1202.7 529.8,1188.5 531.8,1166.8 533.9,1169.2 535.9,1171.6 538.0,1176.3 540.0,1208.3 542.1,1259.8 544.1,1294.9 546.2,1275.6 548.2,1292.7 550.3,1285.9 552.3,1272.2 554.3,1294.9 556.4,1270.0 558.4,1265.4 560.5,1279.0 562.5,1226.9 564.6,1217.8 566.6,1215.5 568.7,1363.0 570.7,1326.7 572.8,1467.3 574.8,1433.3 576.9,1363.0 578.9,1329.0 581.0,1467.3 583.0,1444.7 585.1,1366.4 587.1,1342.6 589.2,1318.7 591.2,1467.3 593.3,1444.7 595.3,1370.9 597.4,1344.8 599.4,1467.3 601.5,1456.0 603.5,1433.3 605.6,1366.4 607.6,1344.8 609.7,1340.3 611.7,1351.6 613.8,1353.9 615.8,1334.6 617.9,1307.4 619.9,1350.5 622.0,1352.8 624.0,1365.3 626.1,1383.4 628.1,1422.0 630.2,1366.4 632.2,1356.2 634.3,1344.8 636.3,1365.3 638.4,1422.0 640.4,1444.7 642.5,1444.7 644.5,1444.7 646.6,1444.7 648.6,1444.7 650.7,1444.7 652.7,1353.9 654.8,1444.7 656.8,1444.7 658.9,1444.7 660.9,1444.7 663.0,1444.7 665.0,1444.7 667.1,1444.7 669.1,1444.7 671.2,1444.7 673.2,1372.6 675.3,1444.7"/>
</g>
<g stroke="#000" stroke-width="1.90" fill="none" stroke-linecap="butt">
<rect x="110.10" y="752.70" width="772.20" height="623.90"/>
<path d="M113.75 1376.60v12.6M216.22 1376.60v12.6M318.68 1376.60v12.6M421.15 1376.60v12.6M523.61 1376.60v12.6M626.08 1376.60v12.6M728.54 1376.60v12.6M831.00 1376.60v12.6M164.98 1376.60v6.6M267.45 1376.60v6.6M369.91 1376.60v6.6M472.38 1376.60v6.6M574.84 1376.60v6.6M677.31 1376.60v6.6M779.77 1376.60v6.6M882.24 1376.60v6.6M110.10 1376.60h-12.6M110.10 1263.16h-12.6M110.10 1149.73h-12.6M110.10 1036.29h-12.6M110.10 922.85h-12.6M110.10 809.42h-12.6M110.10 1319.88h-6.6M110.10 1206.45h-6.6M110.10 1093.01h-6.6M110.10 979.57h-6.6M110.10 866.14h-6.6M110.10 752.70h-6.6"/>
</g>
<g font-size="27.22" text-anchor="middle">
<text transform="translate(114.65 1418.70) scale(0.961 1)">0</text>
<text transform="translate(217.12 1418.70) scale(0.961 1)">50</text>
<text transform="translate(319.58 1418.70) scale(0.961 1)">100</text>
<text transform="translate(422.05 1418.70) scale(0.961 1)">150</text>
<text transform="translate(524.51 1418.70) scale(0.961 1)">200</text>
<text transform="translate(626.98 1418.70) scale(0.961 1)">250</text>
<text transform="translate(729.44 1418.70) scale(0.961 1)">300</text>
<text transform="translate(831.90 1418.70) scale(0.961 1)">350</text>
</g>
<g font-size="27.22" text-anchor="end">
<text transform="translate(89.50 1384.60) scale(0.961 1)">80</text>
<text transform="translate(89.50 1271.16) scale(0.961 1)">90</text>
<text transform="translate(89.50 1157.73) scale(0.961 1)">100</text>
<text transform="translate(89.50 1044.29) scale(0.961 1)">110</text>
<text transform="translate(89.50 930.85) scale(0.961 1)">120</text>
<text transform="translate(89.50 817.42) scale(0.961 1)">130</text>
</g>
<text font-size="32.6" text-anchor="middle" x="497.00" y="1467.90">Cycle number</text>
<text font-size="32.6" text-anchor="middle" transform="translate(31.90 1064.65) rotate(-90)">Specific discharge capacity (mAh/g)</text>
<text font-size="37.0" x="135.30" y="795.70">c</text>
<path d="M431.30 782.10H490.70" stroke="#F00A8C" stroke-width="1.5" fill="none"/>
<use href="#tri" x="461.00" y="782.10" fill="#F00A8C"/>
<text font-size="27.74" transform="translate(498.10 791.05) scale(0.961 1)">FEC+VC</text>
<path d="M431.30 814.70H490.70" stroke="#FF4040" stroke-width="1.5" fill="none"/>
<use href="#tri" x="461.00" y="814.70" fill="#FF4040"/>
<text font-size="27.74" transform="translate(498.10 823.65) scale(0.961 1)">FEC+PES</text>
<path d="M431.30 847.00H490.70" stroke="#F08232" stroke-width="1.5" fill="none"/>
<use href="#tri" x="461.00" y="847.00" fill="#F08232"/>
<text font-size="27.74" transform="translate(498.10 855.95) scale(0.961 1)">FEC+DTD</text>
<path d="M431.30 879.70H490.70" stroke="#E8A032" stroke-width="1.5" fill="none"/>
<use href="#tri" x="461.00" y="879.70" fill="#E8A032"/>
<text font-size="27.74" transform="translate(498.10 888.65) scale(0.961 1)">FEC+TTSPi</text>
<path d="M431.30 912.30H490.70" stroke="#E8DC3C" stroke-width="1.5" fill="none"/>
<use href="#tri" x="461.00" y="912.30" fill="#E8DC3C"/>
<text font-size="27.74" transform="translate(498.10 921.25) scale(0.961 1)">VC+PES</text>
<path d="M654.70 782.10H714.10" stroke="#A0E632" stroke-width="1.5" fill="none"/>
<use href="#tri" x="684.40" y="782.10" fill="#A0E632"/>
<text font-size="27.74" transform="translate(721.90 791.05) scale(0.961 1)">VC+DTD</text>
<path d="M654.70 814.70H714.10" stroke="#00DD08" stroke-width="1.5" fill="none"/>
<use href="#tri" x="684.40" y="814.70" fill="#00DD08"/>
<text font-size="27.74" transform="translate(721.90 823.65) scale(0.961 1)">VC+TTSPi</text>
<path d="M654.70 847.00H714.10" stroke="#00C8C8" stroke-width="1.5" fill="none"/>
<use href="#tri" x="684.40" y="847.00" fill="#00C8C8"/>
<text font-size="27.74" transform="translate(721.90 855.95) scale(0.961 1)">PES+DTD</text>
<path d="M654.70 879.70H714.10" stroke="#0CA0FF" stroke-width="1.5" fill="none"/>
<use href="#tri" x="684.40" y="879.70" fill="#0CA0FF"/>
<text font-size="27.74" transform="translate(721.90 888.65) scale(0.961 1)">PES+DTD</text>
<path d="M654.70 912.30H714.10" stroke="#2840FF" stroke-width="1.5" fill="none"/>
<use href="#tri" x="684.40" y="912.30" fill="#2840FF"/>
<text font-size="27.74" transform="translate(721.90 921.25) scale(0.961 1)">PES+TTSPi</text>
<path d="M654.70 945.20H714.10" stroke="#7800E6" stroke-width="1.5" fill="none"/>
<use href="#tri" x="684.40" y="945.20" fill="#7800E6"/>
<text font-size="27.74" transform="translate(721.90 954.15) scale(0.961 1)">DTD+TTSPi</text>
<clipPath id="clipd"><rect x="1037.10" y="758.60" width="769.20" height="621.40"/></clipPath>
<g clip-path="url(#clipd)" fill="none" stroke-width="1.60" stroke-linejoin="round">
<polyline stroke="#F00A8C" marker-start="url(#mF00A8C)" marker-mid="url(#mF00A8C)" marker-end="url(#mF00A8C)" points="1042.6,882.8 1044.7,906.3 1046.7,939.5 1048.8,963.0 1050.8,981.0 1052.8,1001.7 1054.9,1022.5 1056.9,1032.2 1059.0,1044.7 1061.0,1056.4 1063.1,1067.8 1065.1,1081.5 1067.1,1092.3 1069.2,1100.7 1071.2,1109.0 1073.3,1120.4 1075.3,1127.3 1077.3,1135.0 1079.4,1142.1 1081.4,1149.6 1083.5,1176.8 1085.5,1181.2 1087.6,1186.2 1089.6,1199.7 1091.6,1209.3 1093.7,1213.1 1095.7,1218.6 1097.8,1224.6 1099.8,1233.5 1101.8,1239.8 1103.9,1250.8 1105.9,1261.9 1108.0,1267.9 1110.0,1274.4 1112.0,1278.6 1114.1,1282.4 1116.1,1286.8 1118.2,1295.8 1120.2,1302.1 1122.3,1313.1 1124.3,1322.8 1126.3,1328.0 1128.4,1332.2 1130.4,1338.0 1132.5,1345.3 1134.5,1351.9 1136.5,1354.8 1138.6,1360.7 1140.6,1364.3 1142.7,1374.3 1144.7,1380.9 1146.8,1384.9 1148.8,1390.2 1150.8,1397.6 1152.9,1402.7 1154.9,1404.5 1157.0,1410.5 1159.0,1418.3 1161.0,1423.5 1163.1,1429.4 1165.1,1450.1 1167.2,1453.6 1169.2,1459.8 1171.2,1467.2 1173.3,1471.9 1175.3,1476.4 1177.4,1484.8 1179.4,1488.9 1181.5,1494.3 1183.5,1497.4 1185.5,1501.3 1187.6,1505.5 1189.6,1509.6 1191.7,1513.3 1193.7,1517.9 1195.7,1523.0 1197.8,1527.6 1199.8,1529.5 1201.9,1532.3"/>
<polyline stroke="#FF4040" marker-start="url(#mFF4040)" marker-mid="url(#mFF4040)" marker-end="url(#mFF4040)" points="1042.6,882.8 1044.7,903.2 1046.7,924.9 1048.8,946.7 1050.8,965.7 1052.8,983.4 1054.9,1001.1 1056.9,1017.4 1059.0,1032.4 1061.0,1047.4 1063.1,1061.0 1065.1,1079.5 1067.1,1098.4 1069.2,1115.3 1071.2,1132.5 1073.3,1148.3 1075.3,1160.2 1077.3,1175.3 1079.4,1183.8 1081.4,1190.3 1083.5,1198.9 1085.5,1208.2 1087.6,1221.4 1089.6,1232.2 1091.6,1240.3 1093.7,1242.3 1095.7,1250.2 1097.8,1258.5 1099.8,1266.2 1101.8,1274.2 1103.9,1283.5 1105.9,1292.2 1108.0,1304.1 1110.0,1306.5 1112.0,1313.2 1114.1,1319.9 1116.1,1323.3 1118.2,1331.2 1120.2,1340.4 1122.3,1349.1 1124.3,1356.4 1126.3,1364.1 1128.4,1368.5 1130.4,1365.1 1132.5,1370.1 1134.5,1374.8 1136.5,1379.1 1138.6,1388.0 1140.6,1392.6 1142.7,1394.5 1144.7,1397.1 1146.8,1415.1 1148.8,1420.7 1150.8,1421.1 1152.9,1425.8 1154.9,1427.1 1157.0,1439.1 1159.0,1444.8 1161.0,1448.7"/>
<polyline stroke="#F08232" marker-start="url(#mF08232)" marker-mid="url(#mF08232)" marker-end="url(#mF08232)" points="1042.6,882.8 1044.7,894.4 1046.7,904.0 1048.8,910.5 1050.8,922.1 1052.8,925.5 1054.9,924.7 1056.9,930.9 1059.0,934.2 1061.0,936.2 1063.1,938.8 1065.1,944.0 1067.1,945.9 1069.2,951.5 1071.2,952.8 1073.3,955.9 1075.3,959.9 1077.3,960.0 1079.4,965.0 1081.4,964.4 1083.5,975.0 1085.5,980.5 1087.6,984.9 1089.6,988.3 1091.6,987.2 1093.7,988.2 1095.7,995.7 1097.8,1005.8 1099.8,1010.9 1101.8,1014.6 1103.9,1021.5 1105.9,1026.7 1108.0,1034.1 1110.0,1036.6 1112.0,1042.6 1114.1,1041.0 1116.1,1045.9 1118.2,1052.0 1120.2,1056.4 1122.3,1059.8 1124.3,1065.1 1126.3,1068.1 1128.4,1071.3 1130.4,1072.8 1132.5,1080.5 1134.5,1082.8 1136.5,1086.3 1138.6,1087.1 1140.6,1093.6 1142.7,1093.7 1144.7,1102.5 1146.8,1112.2 1148.8,1114.6 1150.8,1122.1 1152.9,1121.7 1154.9,1124.5 1157.0,1131.1 1159.0,1139.2 1161.0,1138.7 1163.1,1145.2 1165.1,1150.6 1167.2,1156.6 1169.2,1159.4 1171.2,1165.7 1173.3,1169.1 1175.3,1171.6 1177.4,1172.3 1179.4,1178.8 1181.5,1182.0 1183.5,1188.8 1185.5,1196.3 1187.6,1200.5 1189.6,1206.6 1191.7,1207.7 1193.7,1215.2 1195.7,1219.5 1197.8,1223.4 1199.8,1226.9 1201.9,1238.9 1203.9,1250.2 1206.0,1249.6 1208.0,1259.3 1210.0,1265.2 1212.1,1261.9 1214.1,1269.0 1216.2,1274.9 1218.2,1282.3 1220.2,1288.4 1222.3,1293.4 1224.3,1299.8 1226.4,1309.3 1228.4,1317.3 1230.5,1319.8 1232.5,1328.1 1234.5,1334.8 1236.6,1335.9 1238.6,1343.7 1240.7,1351.1 1242.7,1355.2 1244.7,1359.8 1246.8,1366.9 1248.8,1372.4 1250.9,1375.6 1252.9,1381.9 1254.9,1384.4 1257.0,1391.7 1259.0,1399.3 1261.1,1401.9 1263.1,1407.1 1265.2,1411.1 1267.2,1417.9 1269.2,1420.4 1271.3,1422.3 1273.3,1424.2 1275.4,1427.9 1277.4,1426.6 1279.4,1429.6 1281.5,1435.1 1283.5,1441.7 1285.6,1447.1 1287.6,1453.3 1289.7,1458.2 1291.7,1461.7 1293.7,1469.7 1295.8,1474.8 1297.8,1478.7 1299.9,1476.5 1301.9,1478.3"/>
<polyline stroke="#E8A032" marker-start="url(#mE8A032)" marker-mid="url(#mE8A032)" marker-end="url(#mE8A032)" points="1042.6,882.8 1044.7,901.9 1046.7,925.1 1048.8,945.5 1050.8,966.0 1052.8,982.4 1054.9,998.8 1056.9,1015.1 1059.0,1031.5 1061.0,1046.5 1063.1,1060.2 1065.1,1079.1 1067.1,1097.6 1069.2,1116.6 1071.2,1125.2 1073.3,1132.9 1075.3,1143.7 1077.3,1154.0 1079.4,1161.8"/>
<polyline stroke="#E8DC3C" marker-start="url(#mE8DC3C)" marker-mid="url(#mE8DC3C)" marker-end="url(#mE8DC3C)" points="1042.6,882.8 1044.7,891.3 1046.7,898.1 1048.8,902.2 1050.8,902.8 1052.8,905.8 1054.9,905.2 1056.9,905.8 1059.0,905.6 1061.0,907.5 1063.1,908.9 1065.1,911.1 1067.1,915.3 1069.2,918.2 1071.2,922.9 1073.3,925.2 1075.3,926.5 1077.3,929.1 1079.4,931.1 1081.4,932.3 1083.5,938.2 1085.5,942.4 1087.6,945.3 1089.6,948.7 1091.6,951.3 1093.7,953.6 1095.7,954.0 1097.8,959.5 1099.8,961.6 1101.8,964.2 1103.9,962.3 1105.9,966.0 1108.0,966.5 1110.0,964.3 1112.0,968.9 1114.1,970.0 1116.1,970.1 1118.2,967.9 1120.2,972.4 1122.3,977.3 1124.3,973.8 1126.3,976.0 1128.4,978.9 1130.4,980.7 1132.5,983.9 1134.5,987.8 1136.5,990.1 1138.6,988.7 1140.6,992.5 1142.7,994.2 1144.7,996.0 1146.8,995.9 1148.8,998.4 1150.8,1000.3 1152.9,999.2 1154.9,998.4 1157.0,997.4 1159.0,996.0 1161.0,997.4 1163.1,999.6 1165.1,999.8 1167.2,1000.0 1169.2,1001.4 1171.2,1009.9 1173.3,1014.5 1175.3,1013.5 1177.4,1018.4 1179.4,1019.6 1181.5,1018.7 1183.5,1017.2 1185.5,1023.4 1187.6,1021.1 1189.6,1021.0 1191.7,1029.4 1193.7,1028.4 1195.7,1035.2 1197.8,1041.4 1199.8,1040.2 1201.9,1038.7 1203.9,1041.5 1206.0,1046.2 1208.0,1054.3 1210.0,1047.3 1212.1,1055.2 1214.1,1058.0 1216.2,1063.4 1218.2,1070.6 1220.2,1072.7 1222.3,1075.0 1224.3,1069.7 1226.4,1077.5 1228.4,1079.3 1230.5,1080.5 1232.5,1079.5 1234.5,1082.2 1236.6,1086.1 1238.6,1095.1 1240.7,1096.3 1242.7,1097.7 1244.7,1099.3 1246.8,1098.4 1248.8,1104.1 1250.9,1105.7 1252.9,1105.7 1254.9,1112.4 1257.0,1112.2 1259.0,1110.4 1261.1,1111.1 1263.1,1107.5 1265.2,1112.9 1267.2,1116.6 1269.2,1120.6 1271.3,1125.2 1273.3,1130.7 1275.4,1133.9 1277.4,1142.4 1279.4,1141.2 1281.5,1140.1 1283.5,1135.4 1285.6,1135.4 1287.6,1137.3 1289.7,1141.4 1291.7,1151.1 1293.7,1148.4 1295.8,1146.2 1297.8,1152.3 1299.9,1152.6 1301.9,1153.5 1303.9,1158.1 1306.0,1153.4 1308.0,1154.2 1310.1,1159.1 1312.1,1166.0 1314.1,1169.8 1316.2,1179.7 1318.2,1171.1 1320.3,1180.8 1322.3,1180.2 1324.4,1180.3 1326.4,1176.1 1328.4,1177.3 1330.5,1181.1 1332.5,1185.5 1334.6,1194.3 1336.6,1195.0 1338.6,1191.0 1340.7,1198.0 1342.7,1204.8 1344.8,1205.2 1346.8,1209.3 1348.9,1207.4 1350.9,1202.4 1352.9,1204.3 1355.0,1203.3 1357.0,1208.4 1359.1,1215.8 1361.1,1213.7 1363.1,1210.0 1365.2,1222.2 1367.2,1223.1 1369.3,1220.6 1371.3,1225.3 1373.3,1226.8 1375.4,1223.7 1377.4,1229.3 1379.5,1228.5 1381.5,1233.3 1383.6,1234.7 1385.6,1230.9 1387.6,1229.8 1389.7,1236.0 1391.7,1243.4 1393.8,1240.3 1395.8,1240.4 1397.8,1246.6 1399.9,1254.4 1401.9,1245.9 1404.0,1253.1 1406.0,1254.4 1408.1,1249.7 1410.1,1247.6 1412.1,1246.3 1414.2,1248.9 1416.2,1252.8 1418.3,1260.8 1420.3,1265.3 1422.3,1260.8 1424.4,1255.9 1426.4,1257.5 1428.5,1264.5 1430.5,1264.5 1432.5,1265.3 1434.6,1270.2 1436.6,1271.3 1438.7,1271.9 1440.7,1270.0 1442.8,1272.4 1444.8,1278.1 1446.8,1282.5 1448.9,1284.5 1450.9,1288.7 1453.0,1288.6 1455.0,1296.6 1457.0,1297.8 1459.1,1299.8 1461.1,1298.2 1463.2,1297.8 1465.2,1300.0 1467.3,1302.5 1469.3,1302.9 1471.3,1304.2 1473.4,1305.2 1475.4,1310.5 1477.5,1308.5 1479.5,1310.7 1481.5,1314.2 1483.6,1312.1 1485.6,1307.0 1487.7,1311.4 1489.7,1315.4 1491.7,1317.2 1493.8,1314.8 1495.8,1314.9 1497.9,1316.6 1499.9,1321.7 1502.0,1322.6 1504.0,1325.8 1506.0,1327.2 1508.1,1330.6 1510.1,1329.5 1512.2,1337.4 1514.2,1335.7 1516.2,1331.9 1518.3,1337.4 1520.3,1335.7 1522.4,1341.0 1524.4,1339.4 1526.5,1338.3 1528.5,1344.0 1530.5,1342.0 1532.6,1335.2 1534.6,1346.0 1536.7,1347.0 1538.7,1347.6 1540.7,1346.7 1542.8,1348.0 1544.8,1346.0 1546.9,1347.7 1548.9,1351.4 1550.9,1354.7 1553.0,1360.2 1555.0,1362.7 1557.1,1362.5 1559.1,1362.4 1561.2,1364.2 1563.2,1364.2 1565.2,1366.0 1567.3,1371.6 1569.3,1373.3 1571.4,1375.9 1573.4,1377.2 1575.4,1377.5 1577.5,1373.5 1579.5,1378.0 1581.6,1381.3 1583.6,1378.5 1585.7,1377.2 1587.7,1382.1 1589.7,1382.7 1591.8,1380.5 1593.8,1382.1 1595.9,1383.5 1597.9,1390.1 1599.9,1389.0 1602.0,1389.4 1604.0,1397.8 1606.1,1389.8 1608.1,1394.9 1610.2,1396.8 1612.2,1390.3 1614.2,1397.8 1616.3,1401.3 1618.3,1399.9 1620.4,1398.6 1622.4,1401.2"/>
<polyline stroke="#A0E632" marker-start="url(#mA0E632)" marker-mid="url(#mA0E632)" marker-end="url(#mA0E632)" points="1042.6,882.8 1044.7,888.5 1046.7,895.4 1048.8,903.4 1050.8,908.0 1052.8,910.3 1054.9,912.6 1056.9,919.5 1059.0,923.4 1061.0,925.2 1063.1,928.7 1065.1,929.5 1067.1,933.3 1069.2,934.4 1071.2,948.2 1073.3,949.1 1075.3,949.3 1077.3,950.7 1079.4,953.9 1081.4,956.8 1083.5,958.5 1085.5,965.4 1087.6,972.3 1089.6,975.8 1091.6,978.0 1093.7,983.8 1095.7,990.7 1097.8,1005.6 1099.8,1011.3 1101.8,1012.2 1103.9,1013.6 1105.9,1017.1 1108.0,1015.9 1110.0,1042.9 1112.0,1019.4 1114.1,1018.1 1116.1,1067.8 1118.2,1022.2 1120.2,1026.4 1122.3,1074.7 1124.3,1254.4 1126.3,1709.0 1128.4,1341.4 1130.4,1985.4"/>
<polyline stroke="#00DD08" marker-start="url(#m00DD08)" marker-mid="url(#m00DD08)" marker-end="url(#m00DD08)" points="1042.6,882.8 1044.7,908.2 1046.7,918.1 1048.8,925.1 1050.8,930.9 1052.8,937.3 1054.9,942.9 1056.9,947.4 1059.0,953.5 1061.0,960.6 1063.1,966.2 1065.1,973.3 1067.1,986.0 1069.2,989.3 1071.2,995.9 1073.3,1000.7 1075.3,1010.7 1077.3,1013.2 1079.4,1019.2 1081.4,1021.8 1083.5,1026.5 1085.5,1032.4 1087.6,1037.8 1089.6,1045.2 1091.6,1049.4 1093.7,1054.8 1095.7,1058.2 1097.8,1059.1 1099.8,1062.8 1101.8,1068.7 1103.9,1073.6 1105.9,1076.1 1108.0,1080.5 1110.0,1083.6 1112.0,1087.2 1114.1,1093.2 1116.1,1098.9 1118.2,1102.8 1120.2,1107.0 1122.3,1109.2 1124.3,1116.1 1126.3,1119.9 1128.4,1122.2 1130.4,1126.3 1132.5,1134.8 1134.5,1136.5 1136.5,1143.3 1138.6,1148.2 1140.6,1151.9 1142.7,1156.6 1144.7,1158.3 1146.8,1162.6 1148.8,1166.8 1150.8,1167.9 1152.9,1172.1 1154.9,1174.9 1157.0,1181.2 1159.0,1189.0 1161.0,1198.2 1163.1,1206.4 1165.1,1208.3 1167.2,1215.2 1169.2,1218.4 1171.2,1222.3 1173.3,1222.3 1175.3,1244.9 1177.4,1248.1 1179.4,1260.1 1181.5,1261.9 1183.5,1264.0 1185.5,1264.2 1187.6,1268.4 1189.6,1275.7 1191.7,1274.6 1193.7,1281.7 1195.7,1290.2 1197.8,1294.8 1199.8,1293.2 1201.9,1295.5 1203.9,1300.1 1206.0,1305.3 1208.0,1310.5 1210.0,1314.0 1212.1,1322.7 1214.1,1326.4 1216.2,1331.1 1218.2,1336.8 1220.2,1338.6 1222.3,1343.5 1224.3,1348.6 1226.4,1353.8 1228.4,1358.6 1230.5,1359.3 1232.5,1367.9 1234.5,1368.0 1236.6,1369.5 1238.6,1377.6 1240.7,1375.5 1242.7,1382.1 1244.7,1386.2 1246.8,1389.0 1248.8,1393.4 1250.9,1389.0 1252.9,1384.9 1254.9,1398.2 1257.0,1409.0 1259.0,1409.5 1261.1,1413.9 1263.1,1418.1 1265.2,1418.9 1267.2,1414.2 1269.2,1416.0 1271.3,1413.2 1273.3,1416.3 1275.4,1419.2 1277.4,1421.7 1279.4,1425.4 1281.5,1434.5 1283.5,1435.3 1285.6,1443.5 1287.6,1444.4 1289.7,1446.5 1291.7,1449.0 1293.7,1452.9 1295.8,1457.3 1297.8,1461.3 1299.9,1456.8 1301.9,1452.8 1303.9,1455.0 1306.0,1455.8 1308.0,1457.0 1310.1,1459.9 1312.1,1460.6 1314.1,1463.1 1316.2,1462.4 1318.2,1468.4 1320.3,1471.3 1322.3,1473.4 1324.4,1474.8 1326.4,1476.9 1328.4,1482.3 1330.5,1485.6 1332.5,1491.0 1334.6,1488.2 1336.6,1475.5 1338.6,1487.0 1340.7,1499.5 1342.7,1498.6 1344.8,1499.4 1346.8,1498.1 1348.9,1501.8 1350.9,1506.6 1352.9,1501.9 1355.0,1505.9 1357.0,1507.7 1359.1,1506.8 1361.1,1506.6 1363.1,1503.2 1365.2,1499.5 1367.2,1502.8 1369.3,1502.3 1371.3,1506.6 1373.3,1507.4 1375.4,1506.1 1377.4,1507.0 1379.5,1506.4 1381.5,1510.0"/>
<polyline stroke="#00C8C8" marker-start="url(#m00C8C8)" marker-mid="url(#m00C8C8)" marker-end="url(#m00C8C8)" points="1042.6,882.8 1044.7,878.5 1046.7,878.0 1048.8,877.3 1050.8,877.8 1052.8,878.1 1054.9,878.0 1056.9,878.6 1059.0,879.4 1061.0,879.8 1063.1,880.2 1065.1,879.1 1067.1,879.6 1069.2,877.8 1071.2,878.6 1073.3,878.7 1075.3,878.1 1077.3,878.6 1079.4,881.2 1081.4,879.1 1083.5,881.5 1085.5,881.6 1087.6,882.8 1089.6,880.7 1091.6,883.8 1093.7,885.7 1095.7,887.5 1097.8,887.0 1099.8,889.7 1101.8,887.9 1103.9,891.7 1105.9,890.7 1108.0,890.3 1110.0,893.5 1112.0,893.2 1114.1,894.1 1116.1,895.4 1118.2,896.2 1120.2,895.0 1122.3,893.4 1124.3,898.5 1126.3,897.0 1128.4,896.6 1130.4,898.5 1132.5,899.9 1134.5,898.6 1136.5,901.0 1138.6,906.5 1140.6,905.5 1142.7,906.8 1144.7,909.9 1146.8,909.7 1148.8,909.1 1150.8,911.9 1152.9,910.6 1154.9,911.2 1157.0,914.1 1159.0,913.7 1161.0,914.4 1163.1,914.2 1165.1,919.2 1167.2,918.1 1169.2,919.2 1171.2,918.5 1173.3,918.8 1175.3,920.7 1177.4,922.1 1179.4,921.4 1181.5,926.5 1183.5,925.5 1185.5,925.9 1187.6,928.5 1189.6,929.8 1191.7,930.2 1193.7,933.7 1195.7,936.3 1197.8,933.4 1199.8,931.7 1201.9,935.9 1203.9,936.7 1206.0,938.1 1208.0,940.6 1210.0,938.8 1212.1,938.8 1214.1,941.3 1216.2,940.5 1218.2,945.2 1220.2,944.5 1222.3,947.9 1224.3,949.5 1226.4,950.8 1228.4,951.9 1230.5,952.1 1232.5,954.1 1234.5,957.1 1236.6,955.4 1238.6,962.3 1240.7,960.3 1242.7,960.4 1244.7,962.0 1246.8,961.6 1248.8,963.5 1250.9,965.9 1252.9,962.5 1254.9,964.7 1257.0,965.0 1259.0,966.5 1261.1,968.2 1263.1,969.8 1265.2,972.2 1267.2,971.8 1269.2,973.7 1271.3,974.5 1273.3,977.3 1275.4,975.7 1277.4,980.6 1279.4,982.4 1281.5,978.5 1283.5,985.4 1285.6,985.6 1287.6,988.2 1289.7,988.4 1291.7,988.7 1293.7,987.9 1295.8,988.8 1297.8,987.7 1299.9,991.7 1301.9,991.3 1303.9,995.8 1306.0,993.5 1308.0,994.8 1310.1,997.5 1312.1,997.5 1314.1,995.4 1316.2,997.2 1318.2,998.3 1320.3,1000.1 1322.3,999.5 1324.4,1001.2 1326.4,1004.9 1328.4,1002.6 1330.5,1003.0 1332.5,1005.6 1334.6,1003.3 1336.6,1006.2 1338.6,1003.3 1340.7,1006.9 1342.7,1010.1 1344.8,1007.8 1346.8,1009.6 1348.9,1008.0 1350.9,1005.9 1352.9,1009.2 1355.0,1009.3 1357.0,1008.5 1359.1,1014.0 1361.1,1013.2 1363.1,1018.8 1365.2,1015.2 1367.2,1026.5 1369.3,1025.6 1371.3,1028.3 1373.3,1034.9 1375.4,1030.9 1377.4,1033.1 1379.5,1025.4 1381.5,1029.9 1383.6,1032.2 1385.6,1034.2 1387.6,1034.2 1389.7,1029.9 1391.7,1033.0 1393.8,1031.3 1395.8,1033.4 1397.8,1038.8 1399.9,1031.2 1401.9,1035.7 1404.0,1038.1 1406.0,1040.6 1408.1,1038.0 1410.1,1042.9 1412.1,1078.7 1414.2,1095.4 1416.2,1089.2 1418.3,1079.9 1420.3,1078.2 1422.3,1070.3 1424.4,1056.0 1426.4,1059.7 1428.5,1057.0 1430.5,1056.8 1432.5,1058.4 1434.6,1057.6 1436.6,1064.4 1438.7,1064.7 1440.7,1061.7 1442.8,1064.4 1444.8,1061.7 1446.8,1065.6 1448.9,1099.0 1450.9,1102.5 1453.0,1106.6 1455.0,1104.9 1457.0,1109.7 1459.1,1107.6 1461.1,1101.4 1463.2,1089.4 1465.2,1086.8 1467.3,1082.3 1469.3,1086.0 1471.3,1085.8 1473.4,1089.4 1475.4,1078.7 1477.5,1089.4 1479.5,1131.2 1481.5,1136.6 1483.6,1135.7 1485.6,1133.6 1487.7,1116.5 1489.7,1102.5 1491.7,1096.1 1493.8,1097.8 1495.8,1096.0 1497.9,1099.0 1499.9,1107.3 1502.0,1141.9 1504.0,1107.3 1506.0,1104.9 1508.1,1104.9 1510.1,1107.2 1512.2,1102.5 1514.2,1102.9 1516.2,1107.3 1518.3,1111.5 1520.3,1109.7 1522.4,1113.8 1524.4,1119.2 1526.5,1138.3 1528.5,1121.6 1530.5,1123.8 1532.6,1121.6 1534.6,1126.6 1536.7,1122.8 1538.7,1125.9 1540.7,1121.6 1542.8,1113.3 1544.8,1128.8 1546.9,1127.5 1548.9,1130.0 1550.9,1133.1 1553.0,1135.9 1555.0,1137.9 1557.1,1133.7 1559.1,1134.3 1561.2,1137.8 1563.2,1134.8 1565.2,1137.6 1567.3,1139.1 1569.3,1139.6 1571.4,1138.7 1573.4,1139.9 1575.4,1138.7 1577.5,1143.8 1579.5,1142.9 1581.6,1147.4 1583.6,1144.2 1585.7,1142.2 1587.7,1147.1 1589.7,1148.1 1591.8,1147.0 1593.8,1147.8 1595.9,1151.3 1597.9,1148.6 1599.9,1151.7 1602.0,1143.0 1604.0,1150.2 1606.1,1191.3 1608.1,1191.8 1610.2,1196.0 1612.2,1187.2 1614.2,1180.2 1616.3,1188.4 1618.3,1194.5 1620.4,1240.3 1622.4,1200.8 1624.4,1204.3 1626.5,1204.0 1628.5,1223.6 1630.6,1240.3 1632.6,1204.0 1634.6,1198.5 1636.7,1194.9 1638.7,1178.6 1640.8,1182.2 1642.8,1184.0 1644.9,1189.7 1646.9,1194.5 1648.9,1191.9 1651.0,1199.2 1653.0,1200.6 1655.1,1200.6 1657.1,1206.9 1659.1,1205.5 1661.2,1207.8 1663.2,1206.4 1665.3,1210.3 1667.3,1206.4 1669.4,1204.0 1671.4,1240.3 1673.4,1224.5 1675.5,1226.0 1677.5,1226.8 1679.6,1226.1 1681.6,1235.1 1683.6,1245.1 1685.7,1226.1 1687.7,1251.4 1689.8,1240.2 1691.8,1237.9 1693.8,1229.3 1695.9,1235.0 1697.9,1241.0 1700.0,1245.1 1702.0,1232.4 1704.1,1278.3 1706.1,1248.3 1708.1,1248.9 1710.2,1241.9 1712.2,1242.1 1714.3,1245.4 1716.3,1246.7 1718.3,1266.5 1720.4,1286.2 1722.4,1257.8 1724.5,1250.9 1726.5,1249.8 1728.6,1275.2 1730.6,1270.3 1732.6,1262.5 1734.7,1264.6 1736.7,1267.2 1738.8,1265.4 1740.8,1271.1 1742.8,1270.4 1744.9,1270.9 1746.9,1273.6 1749.0,1264.1 1751.0,1305.2 1753.0,1317.9 1755.1,1336.9 1757.1,1321.0 1759.2,1320.7 1761.2,1314.6 1763.3,1314.7 1765.3,1279.9 1767.3,1280.0 1769.4,1284.7 1771.4,1286.7 1773.5,1290.1 1775.5,1287.8"/>
<polyline stroke="#0CA0FF" marker-start="url(#m0CA0FF)" marker-mid="url(#m0CA0FF)" marker-end="url(#m0CA0FF)" points="1042.6,882.8 1044.7,1005.6 1046.7,985.2 1048.8,966.1 1050.8,956.2 1052.8,952.4 1054.9,948.3 1056.9,944.7 1059.0,942.2 1061.0,938.4 1063.1,934.2 1065.1,931.5 1067.1,923.4 1069.2,915.0 1071.2,913.0 1073.3,911.3 1075.3,908.7 1077.3,906.7 1079.4,907.5 1081.4,904.6 1083.5,903.4 1085.5,903.8 1087.6,903.7 1089.6,901.1 1091.6,901.8 1093.7,902.5 1095.7,905.0 1097.8,906.9 1099.8,906.7 1101.8,906.5 1103.9,906.8 1105.9,906.7 1108.0,907.1 1110.0,904.7 1112.0,906.0 1114.1,904.4 1116.1,906.7 1118.2,907.0 1120.2,907.7 1122.3,905.7 1124.3,905.4 1126.3,906.7 1128.4,906.6 1130.4,907.9 1132.5,908.5 1134.5,908.4 1136.5,912.5 1138.6,913.0 1140.6,913.3 1142.7,914.8 1144.7,915.1 1146.8,917.4 1148.8,919.9 1150.8,919.8 1152.9,923.2 1154.9,919.8 1157.0,919.9 1159.0,920.8 1161.0,923.7 1163.1,924.9 1165.1,926.1 1167.2,926.2 1169.2,929.3 1171.2,926.5 1173.3,924.1 1175.3,925.0 1177.4,926.0 1179.4,924.9 1181.5,924.7 1183.5,923.2 1185.5,924.5 1187.6,927.6 1189.6,929.8 1191.7,935.2 1193.7,931.8 1195.7,933.1 1197.8,931.7 1199.8,933.3 1201.9,935.3 1203.9,936.7 1206.0,934.8 1208.0,936.0 1210.0,937.8 1212.1,932.8 1214.1,936.4 1216.2,971.1 1218.2,971.1 1220.2,955.3 1222.3,946.3 1224.3,945.4 1226.4,943.6 1228.4,943.0 1230.5,947.7 1232.5,949.0 1234.5,952.9 1236.6,953.1 1238.6,952.0 1240.7,953.8 1242.7,956.2 1244.7,954.3 1246.8,953.2 1248.8,956.8 1250.9,957.9 1252.9,972.7 1254.9,978.1 1257.0,982.6 1259.0,961.2 1261.1,964.2 1263.1,961.6 1265.2,956.9 1267.2,965.2 1269.2,962.6 1271.3,964.5 1273.3,967.2 1275.4,967.2 1277.4,968.7 1279.4,967.4 1281.5,969.4 1283.5,964.3 1285.6,969.4 1287.6,969.7 1289.7,968.2 1291.7,974.4 1293.7,973.4 1295.8,971.1 1297.8,970.6 1299.9,969.4 1301.9,968.7 1303.9,977.6 1306.0,974.4 1308.0,976.5 1310.1,975.8 1312.1,979.4 1314.1,979.3 1316.2,975.0 1318.2,974.4 1320.3,974.4 1322.3,977.7 1324.4,983.1 1326.4,980.6 1328.4,984.3 1330.5,988.1 1332.5,985.8 1334.6,989.3 1336.6,990.5 1338.6,990.9 1340.7,987.7 1342.7,991.0 1344.8,987.3 1346.8,986.5 1348.9,985.9 1350.9,986.8 1352.9,987.8 1355.0,987.6 1357.0,986.6 1359.1,988.1 1361.1,984.0 1363.1,984.8 1365.2,984.3 1367.2,987.1 1369.3,993.0 1371.3,994.4 1373.3,999.2 1375.4,999.2 1377.4,1007.2 1379.5,1003.1 1381.5,1002.5 1383.6,1002.5 1385.6,1003.1 1387.6,1007.4 1389.7,1008.5 1391.7,1003.2 1393.8,999.5 1395.8,998.0 1397.8,1001.0 1399.9,1002.4 1401.9,1000.4 1404.0,998.0 1406.0,1004.2 1408.1,1006.3 1410.1,1006.8 1412.1,1006.7 1414.2,1010.7 1416.2,1006.4 1418.3,1006.7 1420.3,1012.9 1422.3,1018.3 1424.4,1011.1 1426.4,1016.6 1428.5,1011.2 1430.5,1017.2 1432.5,1016.6 1434.6,1015.2 1436.6,1015.5 1438.7,1014.1 1440.7,1019.0 1442.8,1019.1 1444.8,1021.9 1446.8,1017.4 1448.9,1019.1 1450.9,1020.4 1453.0,1022.8 1455.0,1022.8 1457.0,1087.6 1459.1,1129.9 1461.1,1157.3 1463.2,1141.1 1465.2,1122.4 1467.3,1113.7 1469.3,1113.7 1471.3,1102.5 1473.4,1083.8 1475.4,1068.9 1477.5,1075.1 1479.5,1070.1 1481.5,1052.7 1483.6,1095.0 1485.6,1073.9 1487.7,1057.7 1489.7,1046.5 1491.7,1045.7 1493.8,1046.5 1495.8,1044.0 1497.9,1044.2 1499.9,1046.5 1502.0,1049.9 1504.0,1046.5 1506.0,1045.1 1508.1,1051.5 1510.1,1050.0 1512.2,1050.2 1514.2,1045.6 1516.2,1047.5 1518.3,1046.5 1520.3,1049.0 1522.4,1048.0 1524.4,1046.5 1526.5,1047.9 1528.5,1055.2 1530.5,1055.0 1532.6,1055.2 1534.6,1057.7 1536.7,1053.4 1538.7,1049.0 1540.7,1053.4 1542.8,1054.0 1544.8,1047.7 1546.9,1051.1 1548.9,1056.4 1550.9,1051.0 1553.0,1051.2 1555.0,1057.7 1557.1,1051.6 1559.1,1063.4 1561.2,1053.6 1563.2,1065.3 1565.2,1060.2 1567.3,1061.2 1569.3,1062.7 1571.4,1059.8 1573.4,1066.2 1575.4,1063.5 1577.5,1067.8 1579.5,1058.6 1581.6,1066.5 1583.6,1063.4 1585.7,1065.2 1587.7,1061.6 1589.7,1069.6 1591.8,1069.5 1593.8,1066.8 1595.9,1066.0 1597.9,1069.5 1599.9,1065.0 1602.0,1064.6 1604.0,1066.8 1606.1,1065.0 1608.1,1062.1 1610.2,1068.9 1612.2,1069.9 1614.2,1068.5 1616.3,1072.2 1618.3,1076.0 1620.4,1070.8 1622.4,1073.2 1624.4,1075.1 1626.5,1076.0 1628.5,1079.0 1630.6,1080.4 1632.6,1078.6 1634.6,1078.4 1636.7,1078.8 1638.7,1087.9 1640.8,1080.0 1642.8,1085.6 1644.9,1083.3 1646.9,1086.4 1648.9,1086.1 1651.0,1088.0 1653.0,1091.7 1655.1,1090.0 1657.1,1090.6 1659.1,1082.0 1661.2,1090.4 1663.2,1089.2 1665.3,1091.6 1667.3,1092.4 1669.4,1093.4 1671.4,1096.6 1673.4,1109.1 1675.5,1101.3 1677.5,1103.4 1679.6,1101.5 1681.6,1103.2 1683.6,1094.9 1685.7,1093.1 1687.7,1098.2 1689.8,1094.9 1691.8,1096.1 1693.8,1090.6 1695.9,1091.4 1697.9,1093.3 1700.0,1091.9 1702.0,1101.1 1704.1,1093.5 1706.1,1101.5 1708.1,1095.4 1710.2,1097.6 1712.2,1096.6 1714.3,1102.2 1716.3,1093.5 1718.3,1103.9 1720.4,1101.5 1722.4,1103.2 1724.5,1114.9 1726.5,1113.1 1728.6,1113.5 1730.6,1111.2 1732.6,1115.6 1734.7,1116.4 1736.7,1118.2 1738.8,1114.9 1740.8,1109.8 1742.8,1111.4 1744.9,1109.5 1746.9,1107.1 1749.0,1114.7 1751.0,1118.4 1753.0,1117.0 1755.1,1118.8 1757.1,1123.0 1759.2,1127.0 1761.2,1126.3"/>
<polyline stroke="#2840FF" marker-start="url(#m2840FF)" marker-mid="url(#m2840FF)" marker-end="url(#m2840FF)" points="1042.6,882.8 1044.7,847.9 1046.7,842.2 1048.8,835.8 1050.8,834.9 1052.8,836.2 1054.9,834.9 1056.9,834.3 1059.0,834.2 1061.0,832.7 1063.1,833.9 1065.1,832.9 1067.1,835.9 1069.2,837.3 1071.2,837.2 1073.3,839.8 1075.3,840.2 1077.3,840.3 1079.4,840.9 1081.4,841.4 1083.5,841.0 1085.5,840.3 1087.6,843.0 1089.6,846.9 1091.6,852.4 1093.7,854.3 1095.7,855.8 1097.8,857.3 1099.8,858.5 1101.8,857.5 1103.9,855.4 1105.9,855.5 1108.0,860.6 1110.0,859.2 1112.0,864.6 1114.1,864.3 1116.1,868.1 1118.2,868.9 1120.2,873.3 1122.3,872.2 1124.3,871.0 1126.3,870.1 1128.4,870.6 1130.4,873.0 1132.5,879.2 1134.5,878.5 1136.5,881.2 1138.6,884.7 1140.6,883.6 1142.7,886.7 1144.7,889.0 1146.8,888.8 1148.8,891.1 1150.8,892.4 1152.9,893.2 1154.9,895.8 1157.0,896.4 1159.0,893.9 1161.0,896.0 1163.1,899.9 1165.1,901.5 1167.2,900.9 1169.2,905.0 1171.2,904.9 1173.3,911.6 1175.3,912.4 1177.4,916.7 1179.4,916.9 1181.5,919.1 1183.5,923.5 1185.5,920.5 1187.6,924.5 1189.6,924.2 1191.7,923.7 1193.7,921.1 1195.7,926.0 1197.8,928.4 1199.8,926.7 1201.9,929.7 1203.9,930.0 1206.0,934.9 1208.0,935.5 1210.0,933.2 1212.1,937.3 1214.1,939.4 1216.2,938.8 1218.2,941.5 1220.2,946.4 1222.3,948.1 1224.3,948.8 1226.4,952.1 1228.4,949.9 1230.5,951.0 1232.5,948.3 1234.5,951.8 1236.6,947.9 1238.6,952.6 1240.7,953.9 1242.7,957.0 1244.7,954.1 1246.8,957.1 1248.8,955.7 1250.9,952.4 1252.9,955.5 1254.9,958.4 1257.0,963.2 1259.0,967.6 1261.1,969.2 1263.1,971.4 1265.2,978.2 1267.2,980.1 1269.2,975.2 1271.3,978.0 1273.3,973.7 1275.4,975.0 1277.4,980.7 1279.4,975.8 1281.5,975.2 1283.5,979.7 1285.6,981.8 1287.6,975.8 1289.7,975.8 1291.7,978.2 1293.7,982.5 1295.8,983.1 1297.8,984.8 1299.9,982.8 1301.9,992.7 1303.9,996.4 1306.0,1006.8 1308.0,1008.1 1310.1,1005.5 1312.1,1005.3 1314.1,1008.8 1316.2,994.5 1318.2,999.5 1320.3,998.6 1322.3,1007.3 1324.4,996.9 1326.4,999.8 1328.4,999.5 1330.5,1002.5 1332.5,1008.3 1334.6,1007.9 1336.6,1004.5 1338.6,1007.0 1340.7,1007.8 1342.7,1011.1 1344.8,1014.6 1346.8,1016.3 1348.9,1014.1 1350.9,1023.7 1352.9,1029.1 1355.0,1023.1 1357.0,1025.9 1359.1,1028.5 1361.1,1025.2 1363.1,1025.1 1365.2,1031.6 1367.2,1031.3 1369.3,1035.1 1371.3,1029.8 1373.3,1035.5 1375.4,1036.5 1377.4,1035.8 1379.5,1041.1 1381.5,1034.9 1383.6,1042.6 1385.6,1040.4 1387.6,1040.2 1389.7,1041.9 1391.7,1043.4 1393.8,1045.3 1395.8,1046.4 1397.8,1054.0 1399.9,1059.8 1401.9,1057.5 1404.0,1052.8 1406.0,1062.7 1408.1,1060.1 1410.1,1062.2 1412.1,1060.2 1414.2,1068.4 1416.2,1063.0 1418.3,1069.2 1420.3,1070.0 1422.3,1075.3 1424.4,1072.3 1426.4,1076.0 1428.5,1075.2 1430.5,1074.5 1432.5,1079.0 1434.6,1073.9 1436.6,1084.6 1438.7,1076.8 1440.7,1079.0 1442.8,1074.9 1444.8,1082.8 1446.8,1084.0 1448.9,1086.4 1450.9,1088.7 1453.0,1086.3 1455.0,1090.4 1457.0,1093.9 1459.1,1088.8 1461.1,1087.4 1463.2,1089.3 1465.2,1091.4 1467.3,1093.4 1469.3,1098.0 1471.3,1098.1 1473.4,1095.0 1475.4,1099.5 1477.5,1103.5 1479.5,1104.0 1481.5,1107.1 1483.6,1100.4 1485.6,1109.7 1487.7,1107.8 1489.7,1111.6 1491.7,1110.3 1493.8,1117.7 1495.8,1121.4 1497.9,1117.4 1499.9,1117.7 1502.0,1126.4 1504.0,1118.8 1506.0,1117.6 1508.1,1119.3 1510.1,1119.2 1512.2,1126.0 1514.2,1123.1 1516.2,1124.7 1518.3,1118.8 1520.3,1122.2 1522.4,1121.4 1524.4,1129.5 1526.5,1129.2 1528.5,1125.0 1530.5,1126.8 1532.6,1124.7 1534.6,1129.8 1536.7,1134.9 1538.7,1133.0 1540.7,1138.9 1542.8,1141.4 1544.8,1136.7 1546.9,1141.9 1548.9,1144.7 1550.9,1149.6 1553.0,1148.2 1555.0,1148.0 1557.1,1147.2 1559.1,1146.4 1561.2,1152.9 1563.2,1159.4 1565.2,1158.6 1567.3,1160.5 1569.3,1158.3 1571.4,1160.1 1573.4,1158.1 1575.4,1158.7 1577.5,1166.2 1579.5,1170.7 1581.6,1179.4 1583.6,1174.8 1585.7,1170.7 1587.7,1178.5 1589.7,1179.8 1591.8,1180.2 1593.8,1179.3 1595.9,1182.5 1597.9,1183.6 1599.9,1185.9 1602.0,1183.6 1604.0,1181.3 1606.1,1187.4 1608.1,1184.1 1610.2,1185.9 1612.2,1187.7 1614.2,1192.0 1616.3,1192.6 1618.3,1193.3 1620.4,1193.5 1622.4,1193.1 1624.4,1193.3 1626.5,1197.9 1628.5,1203.6 1630.6,1201.0 1632.6,1210.7 1634.6,1205.6 1636.7,1197.4 1638.7,1202.6 1640.8,1207.5 1642.8,1216.3 1644.9,1211.6 1646.9,1217.5 1648.9,1220.7 1651.0,1219.7 1653.0,1222.7 1655.1,1218.4 1657.1,1223.8 1659.1,1218.8 1661.2,1211.6 1663.2,1219.8 1665.3,1225.0 1667.3,1222.3 1669.4,1220.2 1671.4,1231.4 1673.4,1236.3 1675.5,1235.0 1677.5,1235.9 1679.6,1240.4"/>
<polyline stroke="#7800E6" marker-start="url(#m7800E6)" marker-mid="url(#m7800E6)" marker-end="url(#m7800E6)" points="1042.6,882.8 1044.7,870.3 1046.7,862.5 1048.8,860.9 1050.8,858.7 1052.8,860.6 1054.9,862.5 1056.9,864.3 1059.0,868.6 1061.0,870.3 1063.1,870.9 1065.1,872.2 1067.1,872.5 1069.2,875.0 1071.2,877.1 1073.3,879.4 1075.3,881.2 1077.3,881.0 1079.4,880.9 1081.4,879.6 1083.5,881.1 1085.5,882.6 1087.6,884.7 1089.6,886.0 1091.6,887.4 1093.7,887.9 1095.7,888.6 1097.8,890.9 1099.8,894.7 1101.8,893.7 1103.9,895.5 1105.9,893.9 1108.0,895.6 1110.0,893.7 1112.0,894.2 1114.1,892.4 1116.1,892.1 1118.2,893.4 1120.2,893.3 1122.3,897.6 1124.3,896.8 1126.3,896.2 1128.4,897.7 1130.4,897.4 1132.5,898.4 1134.5,901.5 1136.5,900.6 1138.6,903.1 1140.6,900.5 1142.7,904.7 1144.7,903.1 1146.8,904.6 1148.8,904.2 1150.8,908.0 1152.9,906.4 1154.9,909.3 1157.0,907.6 1159.0,909.3 1161.0,910.9 1163.1,913.8 1165.1,912.6 1167.2,914.7 1169.2,917.1 1171.2,919.9 1173.3,920.2 1175.3,923.4 1177.4,924.0 1179.4,925.3 1181.5,926.5 1183.5,928.0 1185.5,930.8 1187.6,930.4 1189.6,929.2 1191.7,931.2 1193.7,930.7 1195.7,932.1 1197.8,935.8 1199.8,935.6 1201.9,937.8 1203.9,937.7 1206.0,940.5 1208.0,939.7 1210.0,938.9 1212.1,935.8 1214.1,939.2 1216.2,943.7 1218.2,943.7 1220.2,950.0 1222.3,944.2 1224.3,951.5 1226.4,953.2 1228.4,954.0 1230.5,957.7 1232.5,961.2 1234.5,961.1 1236.6,961.6 1238.6,964.0 1240.7,961.8 1242.7,962.8 1244.7,962.4 1246.8,967.2 1248.8,968.6 1250.9,964.6 1252.9,965.5 1254.9,972.7 1257.0,973.8 1259.0,974.9 1261.1,975.2 1263.1,974.4 1265.2,979.6 1267.2,980.1 1269.2,979.1 1271.3,981.1 1273.3,991.3 1275.4,990.5 1277.4,987.7 1279.4,993.3 1281.5,998.3 1283.5,999.6 1285.6,998.4 1287.6,993.3 1289.7,998.1 1291.7,999.9 1293.7,999.3 1295.8,1006.3 1297.8,1009.2 1299.9,1012.8 1301.9,1014.3 1303.9,1013.3 1306.0,1017.0 1308.0,1017.0 1310.1,1019.4 1312.1,1026.2 1314.1,1023.3 1316.2,1026.3 1318.2,1027.7 1320.3,1026.5 1322.3,1029.5 1324.4,1028.8 1326.4,1031.8 1328.4,1034.1 1330.5,1034.2 1332.5,1035.8 1334.6,1034.2 1336.6,1038.2 1338.6,1038.2 1340.7,1041.7 1342.7,1038.9 1344.8,1036.5 1346.8,1041.8 1348.9,1043.9 1350.9,1047.0 1352.9,1045.1 1355.0,1045.8 1357.0,1041.9 1359.1,1048.0 1361.1,1049.8 1363.1,1060.3 1365.2,1054.5 1367.2,1062.3 1369.3,1068.8 1371.3,1066.5 1373.3,1073.5 1375.4,1071.7 1377.4,1070.3 1379.5,1073.3 1381.5,1076.8 1383.6,1083.6 1385.6,1079.5 1387.6,1084.8 1389.7,1080.2 1391.7,1088.7 1393.8,1084.2 1395.8,1089.7 1397.8,1085.3 1399.9,1089.7 1401.9,1098.6 1404.0,1099.1 1406.0,1095.1 1408.1,1095.6 1410.1,1101.0 1412.1,1102.7 1414.2,1100.3 1416.2,1106.3 1418.3,1108.6 1420.3,1107.8 1422.3,1110.9 1424.4,1119.1 1426.4,1118.9 1428.5,1118.0 1430.5,1122.4 1432.5,1126.2 1434.6,1127.6 1436.6,1119.1 1438.7,1128.6 1440.7,1127.4 1442.8,1130.9 1444.8,1149.7 1446.8,1142.7 1448.9,1133.3 1450.9,1169.8 1453.0,1187.4 1455.0,1169.8 1457.0,1142.7 1459.1,1145.6 1461.1,1148.6 1463.2,1154.5 1465.2,1194.5 1467.3,1258.7 1469.3,1302.7 1471.3,1278.6 1473.4,1299.8 1475.4,1291.3 1477.5,1274.3 1479.5,1302.7 1481.5,1271.5 1483.6,1265.8 1485.6,1282.8 1487.7,1217.7 1489.7,1206.3 1491.7,1203.5 1493.8,1387.7 1495.8,1342.3 1497.9,1518.0 1499.9,1475.5 1502.0,1387.7 1504.0,1345.2 1506.0,1518.0 1508.1,1489.7 1510.1,1391.9 1512.2,1362.2 1514.2,1332.4 1516.2,1518.0 1518.3,1489.7 1520.3,1397.6 1522.4,1365.0 1524.4,1518.0 1526.5,1503.9 1528.5,1475.5 1530.5,1391.9 1532.6,1365.0 1534.6,1359.3 1536.7,1373.5 1538.7,1376.4 1540.7,1352.3 1542.8,1318.3 1544.8,1372.1 1546.9,1374.9 1548.9,1390.5 1550.9,1413.2 1553.0,1461.4 1555.0,1391.9 1557.1,1379.2 1559.1,1365.0 1561.2,1390.5 1563.2,1461.4 1565.2,1489.7 1567.3,1489.7 1569.3,1489.7 1571.4,1489.7 1573.4,1489.7 1575.4,1489.7 1577.5,1376.4 1579.5,1489.7 1581.6,1489.7 1583.6,1489.7 1585.7,1489.7 1587.7,1489.7 1589.7,1489.7 1591.8,1489.7 1593.8,1489.7 1595.9,1489.7 1597.9,1399.7 1599.9,1489.7"/>
</g>
<g stroke="#000" stroke-width="1.90" fill="none" stroke-linecap="butt">
<rect x="1037.10" y="758.60" width="769.20" height="620.80"/>
<path d="M1040.60 1379.40v12.6M1142.67 1379.40v12.6M1244.74 1379.40v12.6M1346.81 1379.40v12.6M1448.88 1379.40v12.6M1550.95 1379.40v12.6M1653.02 1379.40v12.6M1755.09 1379.40v12.6M1091.63 1379.40v6.6M1193.70 1379.40v6.6M1295.77 1379.40v6.6M1397.84 1379.40v6.6M1499.91 1379.40v6.6M1601.98 1379.40v6.6M1704.05 1379.40v6.6M1806.12 1379.40v6.6M1037.10 1379.40h-12.6M1037.10 1296.63h-12.6M1037.10 1213.85h-12.6M1037.10 1131.08h-12.6M1037.10 1048.31h-12.6M1037.10 965.53h-12.6M1037.10 882.76h-12.6M1037.10 799.99h-12.6M1037.10 1338.01h-6.6M1037.10 1255.24h-6.6M1037.10 1172.47h-6.6M1037.10 1089.69h-6.6M1037.10 1006.92h-6.6M1037.10 924.15h-6.6M1037.10 841.37h-6.6M1037.10 758.60h-6.6"/>
</g>
<g font-size="27.14" text-anchor="middle">
<text transform="translate(1041.50 1421.20) scale(0.961 1)">0</text>
<text transform="translate(1143.57 1421.20) scale(0.961 1)">50</text>
<text transform="translate(1245.64 1421.20) scale(0.961 1)">100</text>
<text transform="translate(1347.71 1421.20) scale(0.961 1)">150</text>
<text transform="translate(1449.78 1421.20) scale(0.961 1)">200</text>
<text transform="translate(1551.85 1421.20) scale(0.961 1)">250</text>
<text transform="translate(1653.92 1421.20) scale(0.961 1)">300</text>
<text transform="translate(1755.99 1421.20) scale(0.961 1)">350</text>
</g>
<g font-size="27.14" text-anchor="end">
<text transform="translate(1016.50 1387.40) scale(0.961 1)">0.70</text>
<text transform="translate(1016.50 1304.63) scale(0.961 1)">0.75</text>
<text transform="translate(1016.50 1221.85) scale(0.961 1)">0.80</text>
<text transform="translate(1016.50 1139.08) scale(0.961 1)">0.85</text>
<text transform="translate(1016.50 1056.31) scale(0.961 1)">0.90</text>
<text transform="translate(1016.50 973.53) scale(0.961 1)">0.95</text>
<text transform="translate(1016.50 890.76) scale(0.961 1)">1.00</text>
<text transform="translate(1016.50 807.99) scale(0.961 1)">1.05</text>
</g>
<text font-size="32.5" text-anchor="middle" x="1422.90" y="1470.65">Cycle number</text>
<text font-size="32.5" text-anchor="middle" transform="translate(952.20 1069.00) rotate(-90)">Normalized discharge capacity</text>
<text font-size="36.0" x="1066.50" y="803.50">d</text>
<path d="M1371.20 781.20H1430.70" stroke="#F00A8C" stroke-width="1.5" fill="none"/>
<use href="#tri" x="1400.95" y="781.20" fill="#F00A8C"/>
<text font-size="27.66" transform="translate(1438.50 790.13) scale(0.961 1)">FEC+VC</text>
<path d="M1371.20 813.90H1430.70" stroke="#FF4040" stroke-width="1.5" fill="none"/>
<use href="#tri" x="1400.95" y="813.90" fill="#FF4040"/>
<text font-size="27.66" transform="translate(1438.50 822.83) scale(0.961 1)">FEC+PES</text>
<path d="M1371.20 846.20H1430.70" stroke="#F08232" stroke-width="1.5" fill="none"/>
<use href="#tri" x="1400.95" y="846.20" fill="#F08232"/>
<text font-size="27.66" transform="translate(1438.50 855.13) scale(0.961 1)">FEC+DTD</text>
<path d="M1371.20 878.80H1430.70" stroke="#E8A032" stroke-width="1.5" fill="none"/>
<use href="#tri" x="1400.95" y="878.80" fill="#E8A032"/>
<text font-size="27.66" transform="translate(1438.50 887.73) scale(0.961 1)">FEC+TTSPi</text>
<path d="M1371.20 911.20H1430.70" stroke="#E8DC3C" stroke-width="1.5" fill="none"/>
<use href="#tri" x="1400.95" y="911.20" fill="#E8DC3C"/>
<text font-size="27.66" transform="translate(1438.50 920.13) scale(0.961 1)">VC+PES</text>
<path d="M1579.10 781.20H1638.60" stroke="#A0E632" stroke-width="1.5" fill="none"/>
<use href="#tri" x="1608.85" y="781.20" fill="#A0E632"/>
<text font-size="27.66" transform="translate(1646.50 790.13) scale(0.961 1)">VC+DTD</text>
<path d="M1579.10 813.90H1638.60" stroke="#00DD08" stroke-width="1.5" fill="none"/>
<use href="#tri" x="1608.85" y="813.90" fill="#00DD08"/>
<text font-size="27.66" transform="translate(1646.50 822.83) scale(0.961 1)">VC+TTSPi</text>
<path d="M1579.10 846.20H1638.60" stroke="#00C8C8" stroke-width="1.5" fill="none"/>
<use href="#tri" x="1608.85" y="846.20" fill="#00C8C8"/>
<text font-size="27.66" transform="translate(1646.50 855.13) scale(0.961 1)">PES+DTD</text>
<path d="M1579.10 878.80H1638.60" stroke="#0CA0FF" stroke-width="1.5" fill="none"/>
<use href="#tri" x="1608.85" y="878.80" fill="#0CA0FF"/>
<text font-size="27.66" transform="translate(1646.50 887.73) scale(0.961 1)">PES+DTD</text>
<path d="M1579.10 911.20H1638.60" stroke="#2840FF" stroke-width="1.5" fill="none"/>
<use href="#tri" x="1608.85" y="911.20" fill="#2840FF"/>
<text font-size="27.66" transform="translate(1646.50 920.13) scale(0.961 1)">PES+TTSPi</text>
<path d="M1579.10 944.10H1638.60" stroke="#7800E6" stroke-width="1.5" fill="none"/>
<use href="#tri" x="1608.85" y="944.10" fill="#7800E6"/>
<text font-size="27.66" transform="translate(1646.50 953.03) scale(0.961 1)">DTD+TTSPi</text>
<clipPath id="clipe"><rect x="110.10" y="1496.10" width="774.50" height="626.75"/></clipPath>
<g clip-path="url(#clipe)" fill="none" stroke-width="1.60" stroke-linejoin="round">
<polyline stroke="#F00A8C" marker-start="url(#mF00A8C)" marker-mid="url(#mF00A8C)" marker-end="url(#mF00A8C)" points="122.8,1580.3 127.0,1623.6 131.3,1654.3 135.5,1682.8 139.8,1694.2 144.0,1711.3 148.3,1726.1 152.6,1734.0 156.8,1744.3 161.1,1756.8 165.3,1758.8 169.6,1770.0 173.8,1783.8 178.1,1788.8 182.4,1797.5 186.6,1806.2 190.9,1806.2 195.1,1817.5 199.4,1828.8 203.6,1825.0 207.9,1831.9 212.2,1840.0 216.4,1845.1 220.7,1851.2 224.9,1855.9 229.2,1860.0 233.4,1864.5 237.7,1870.0 242.0,1875.7 246.2,1882.5 250.5,1886.6 254.7,1892.5 259.0,1898.2 263.2,1902.5 267.5,1910.0 271.8,1914.5 276.0,1920.0 280.3,1922.8 284.5,1925.6 288.8,1928.8 293.0,1934.9 297.3,1941.2 301.6,1942.5 305.8,1950.2 310.1,1957.5 314.3,1965.3 318.6,1971.2 322.8,1974.2 327.1,1975.8 331.4,1978.8 335.6,1985.4 339.9,1992.5 344.1,1990.0 348.4,1999.3 352.6,2007.5 356.9,2012.2 361.1,2017.5 365.4,2026.2 369.7,2026.9 373.9,2028.8 378.2,2033.5 382.4,2038.8 386.7,2041.6 390.9,2043.8 395.2,2050.7 399.5,2056.2 403.7,2058.4 408.0,2058.8 412.2,2061.1 416.5,2063.8 420.7,2075.0 425.0,2080.3 429.3,2085.0 433.5,2082.5 437.8,2087.6 442.0,2091.2 446.3,2094.8 450.5,2097.5 454.8,2099.5 459.1,2101.2 463.3,2104.7 467.6,2110.0 471.8,2111.2 476.1,2112.5 480.3,2116.0 484.6,2118.8 488.9,2122.2"/>
<polyline stroke="#FF4040" marker-start="url(#mFF4040)" marker-mid="url(#mFF4040)" marker-end="url(#mFF4040)" points="122.8,1552.6 127.0,1581.5 131.3,1594.0 135.5,1604.3 139.8,1614.5 144.0,1620.2 148.3,1627.0 152.6,1630.4 156.8,1632.7 161.1,1639.5 165.3,1643.0 169.6,1645.8 173.8,1653.2 178.1,1657.8 182.4,1663.5 186.6,1670.3 190.9,1672.0 195.1,1673.7 199.4,1679.4 203.6,1681.1 207.9,1681.7 212.2,1690.8 216.4,1696.5 220.7,1698.7 224.9,1705.6 229.2,1708.4 233.4,1711.8 237.7,1716.4 242.0,1719.2 246.2,1723.8 250.5,1729.5 254.7,1728.9 259.0,1732.9 263.2,1737.5 267.5,1740.9 271.8,1742.5 276.0,1747.5 280.3,1746.2 284.5,1750.0 288.8,1757.5 293.0,1753.8 297.3,1755.0 301.6,1766.2 305.8,1777.5 310.1,1776.2 314.3,1783.8 318.6,1788.8 322.8,1792.5 327.1,1796.2 331.4,1802.5 335.6,1801.2 339.9,1807.5 344.1,1811.2 348.4,1813.8 352.6,1816.2 356.9,1825.0 361.1,1825.0 365.4,1830.0 369.7,1837.5 373.9,1843.8 378.2,1840.0 382.4,1846.2 386.7,1853.8 390.9,1851.2 395.2,1853.8 399.5,1867.5 403.7,1875.0 408.0,1872.5 412.2,1877.5 416.5,1888.8 420.7,1886.2 425.0,1892.5 429.3,1896.2 433.5,1896.2 437.8,1898.8 442.0,1900.0 446.3,1915.0 450.5,1907.5 454.8,1910.0 459.1,1921.2 463.3,1922.5 467.6,1923.8 471.8,1930.0 476.1,1945.0 480.3,1936.2 484.6,1936.2 488.9,1942.5 493.1,1950.0 497.4,1947.5 501.6,1955.0 505.9,1966.2 510.1,1976.2 514.4,1972.5 518.7,1980.0 522.9,1988.8 527.2,1992.5 531.4,1996.2 535.7,2000.0 539.9,2012.5 544.2,2000.0 548.5,1998.8 552.7,2005.0 557.0,2012.5 561.2,2007.5 565.5,2012.5 569.7,2017.5 574.0,2020.0 578.3,2017.5 582.5,2022.5 586.8,2035.0 591.0,2035.0 595.3,2025.0 599.5,2033.8 603.8,2045.0 608.1,2045.0 612.3,2038.8 616.6,2042.5 620.8,2053.8 625.1,2071.2 629.3,2067.5 633.6,2071.2 637.9,2072.5 642.1,2086.2 646.4,2083.8 650.6,2083.8 654.9,2085.0 659.1,2095.0 663.4,2085.0 667.7,2083.8 671.9,2088.8 676.2,2093.8 680.4,2090.0 684.7,2086.2 688.9,2093.8 693.2,2097.5 697.5,2093.8 701.7,2092.5 706.0,2101.2 710.2,2106.2 714.5,2103.8 718.7,2100.0 723.0,2106.2 727.3,2111.2 731.5,2110.0 735.8,2110.0 740.0,2111.2 744.3,2118.8 748.5,2123.0"/>
<polyline stroke="#F08232" marker-start="url(#mF08232)" marker-mid="url(#mF08232)" marker-end="url(#mF08232)" points="122.8,1585.5 127.0,1607.7 131.3,1631.6 135.5,1644.1 139.8,1655.5 144.0,1667.4 148.3,1680.5 152.6,1686.2 156.8,1693.6 161.1,1701.0 165.3,1711.3 169.6,1719.2 173.8,1727.2 178.1,1736.3 182.4,1744.3 186.6,1751.1 190.9,1759.1 195.1,1765.0 199.4,1772.5 203.6,1777.5 207.9,1781.2 212.2,1787.5 216.4,1790.0 220.7,1792.5 224.9,1797.5 229.2,1807.5 233.4,1817.5 237.7,1825.0 242.0,1830.0 246.2,1837.5 250.5,1843.8 254.7,1851.2 259.0,1856.2 263.2,1862.5 267.5,1868.8 271.8,1876.2 276.0,1878.8 280.3,1887.5 284.5,1893.8 288.8,1900.0 293.0,1903.8 297.3,1910.0 301.6,1917.5 305.8,1920.0 310.1,1921.2 314.3,1932.5 318.6,1945.0 322.8,1948.8 327.1,1953.8 331.4,1958.8 335.6,1965.0 339.9,1968.8 344.1,1973.8 348.4,1978.8 352.6,1981.2 356.9,1987.5 361.1,1995.0 365.4,2002.5 369.7,2001.2 373.9,2006.2 378.2,2012.5 382.4,2017.5 386.7,2022.5 390.9,2027.5 395.2,2031.2 399.5,2036.2 403.7,2038.8 408.0,2046.2 412.2,2051.2 416.5,2056.2 420.7,2057.5 425.0,2065.0 429.3,2068.8 433.5,2073.8 437.8,2077.5 442.0,2080.0 446.3,2085.0 450.5,2090.0 454.8,2096.2 459.1,2097.5 463.3,2100.0 467.6,2107.5 471.8,2103.8 476.1,2107.5 480.3,2110.0 484.6,2118.8 488.9,2117.5 493.1,2116.2 497.4,2123.0"/>
<polyline stroke="#E8DC3C" marker-start="url(#mE8DC3C)" marker-mid="url(#mE8DC3C)" marker-end="url(#mE8DC3C)" points="122.8,1529.6 127.0,1543.9 131.3,1554.2 135.5,1561.0 139.8,1569.5 144.0,1575.2 148.3,1580.9 152.6,1585.5 156.8,1584.9 161.1,1592.9 165.3,1594.0 169.6,1597.4 173.8,1604.3 178.1,1608.8 182.4,1613.4 186.6,1617.3 190.9,1620.2 195.1,1624.7 199.4,1628.7 203.6,1626.5 207.9,1628.7 212.2,1636.1 216.4,1641.3 220.7,1641.8 224.9,1643.5 229.2,1653.2 233.4,1656.1 237.7,1660.0 242.0,1662.9 246.2,1665.7 250.5,1668.6 254.7,1671.4 259.0,1674.3 263.2,1677.1 267.5,1682.8 271.8,1686.2 276.0,1690.0 280.3,1691.2 284.5,1696.2 288.8,1697.5 293.0,1702.5 297.3,1712.5 301.6,1712.0 305.8,1716.2 310.1,1723.8 314.3,1726.2 318.6,1726.2 322.8,1732.5 327.1,1731.2 331.4,1740.0 335.6,1745.0 339.9,1747.5 344.1,1751.2 348.4,1755.0 352.6,1760.0 356.9,1763.8 361.1,1767.5 365.4,1772.5 369.7,1775.0 373.9,1778.8 378.2,1783.8 382.4,1782.5 386.7,1788.8 390.9,1796.2 395.2,1796.2 399.5,1801.2 403.7,1806.2 408.0,1808.8 412.2,1810.0 416.5,1818.8 420.7,1817.5 425.0,1816.2 429.3,1825.0 433.5,1831.2 437.8,1830.0 442.0,1837.5 446.3,1843.8 450.5,1840.0 454.8,1846.2 459.1,1853.8 463.3,1856.2 467.6,1852.5 471.8,1855.0 476.1,1855.0 480.3,1861.2 484.6,1867.5 488.9,1875.0 493.1,1880.0 497.4,1882.5 501.6,1891.2 505.9,1900.0 510.1,1902.5 514.4,1903.8 518.7,1910.0 522.9,1910.0 527.2,1907.5 531.4,1911.2 535.7,1913.8 539.9,1922.5 544.2,1920.0 548.5,1935.0 552.7,1928.8 557.0,1933.8 561.2,1942.5 565.5,1943.8 569.7,1936.2 574.0,1947.5 578.3,1958.8 582.5,1957.5 586.8,1957.5 591.0,1965.0 595.3,1981.2 599.5,1983.8 603.8,1983.8 608.1,1988.8 612.3,2003.8 616.6,1992.5 620.8,2002.5 625.1,2010.0 629.3,2012.5 633.6,2000.0 637.9,2001.2 642.1,2013.8 646.4,2007.5 650.6,2007.5 654.9,2012.5 659.1,2020.0 663.4,2013.8 667.7,2020.0 671.9,2028.8 676.2,2035.0 680.4,2036.2 684.7,2035.0 688.9,2040.0 693.2,2043.8 697.5,2046.2 701.7,2048.8 706.0,2048.8 710.2,2061.2 714.5,2063.8 718.7,2066.2 723.0,2062.5 727.3,2068.8 731.5,2068.8 735.8,2068.8 740.0,2072.5 744.3,2076.2 748.5,2076.2 752.8,2076.2 757.0,2081.2 761.3,2083.8 765.6,2088.8 769.8,2087.5 774.1,2087.5 778.3,2092.5 782.6,2096.2 786.8,2092.5 791.1,2091.2 795.4,2097.5 799.6,2097.5 803.9,2100.0 808.1,2098.8 812.4,2098.8 816.6,2101.2 820.9,2100.0 825.2,2103.8 829.4,2105.0 833.7,2110.0 837.9,2115.0 842.2,2112.5 846.4,2117.5 850.7,2120.8 855.0,2120.0 859.2,2126.8 863.5,2118.3 867.7,2130.2 872.0,2133.6 876.2,2130.2 880.5,2118.3"/>
<polyline stroke="#A0E632" marker-start="url(#mA0E632)" marker-mid="url(#mA0E632)" marker-end="url(#mA0E632)" points="122.8,1607.7 127.0,1617.9 131.3,1621.3 135.5,1624.7 139.8,1630.4 144.0,1635.6 148.3,1635.6 152.6,1640.1 156.8,1641.8 161.1,1647.5 165.3,1650.4 169.6,1649.8 173.8,1655.5 178.1,1661.7 182.4,1662.9 186.6,1662.9 190.9,1670.3 195.1,1676.0 199.4,1686.2 203.6,1684.4 207.9,1687.4 212.2,1690.8 216.4,1694.8 220.7,1690.8 224.9,1690.8 229.2,1695.3 233.4,1691.9 237.7,1693.6 242.0,1696.5 246.2,1698.7 250.5,1698.7 254.7,1702.2 259.0,1703.3 263.2,1706.1 267.5,1710.7 271.8,1711.2 276.0,1710.0 280.3,1713.8 284.5,1716.2 288.8,1721.2"/>
<polyline stroke="#00DD08" marker-start="url(#m00DD08)" marker-mid="url(#m00DD08)" marker-end="url(#m00DD08)" points="122.8,1603.1 127.0,1632.7 131.3,1645.2 135.5,1656.1 139.8,1667.4 144.0,1680.5 148.3,1686.2 152.6,1693.1 156.8,1695.9 161.1,1706.1 165.3,1714.7 169.6,1717.5 173.8,1723.2 178.1,1726.6 182.4,1730.6 186.6,1736.3 190.9,1748.3 195.1,1751.1 199.4,1757.9 203.6,1762.5 207.9,1770.0 212.2,1771.2 216.4,1777.5 220.7,1783.8 224.9,1786.2 229.2,1793.8 233.4,1801.2 237.7,1803.8 242.0,1806.2 246.2,1812.5 250.5,1817.5 254.7,1823.8 259.0,1832.5 263.2,1832.5 267.5,1831.2 271.8,1837.5 276.0,1846.2 280.3,1845.0 284.5,1853.8 288.8,1860.0 293.0,1858.8 297.3,1857.5 301.6,1868.8 305.8,1876.2 310.1,1881.2 314.3,1888.8 318.6,1891.2 322.8,1896.2 327.1,1901.2 331.4,1908.8 335.6,1913.8 339.9,1916.2 344.1,1923.8 348.4,1930.0 352.6,1928.8 356.9,1942.5 361.1,1948.8 365.4,1943.8 369.7,1945.0 373.9,1957.5 378.2,1958.8 382.4,1963.8 386.7,1971.2 390.9,1976.2 395.2,1978.8 399.5,1980.0 403.7,1983.8 408.0,1988.8 412.2,1986.2 416.5,1987.5 420.7,1986.2 425.0,1995.0 429.3,1997.5 433.5,2008.8 437.8,2016.2 442.0,2015.0 446.3,2021.2 450.5,2026.2 454.8,2032.5 459.1,2035.0 463.3,2035.0 467.6,2041.2 471.8,2035.0 476.1,2038.8 480.3,2038.8 484.6,2045.0 488.9,2046.2 493.1,2048.8 497.4,2050.0 501.6,2055.0 505.9,2056.2 510.1,2053.8 514.4,2065.0 518.7,2067.5 522.9,2067.5 527.2,2067.5 531.4,2076.2 535.7,2080.0 539.9,2077.5 544.2,2077.5 548.5,2082.5 552.7,2086.2 557.0,2092.5 561.2,2083.8 565.5,2093.8 569.7,2096.2 574.0,2098.8 578.3,2097.5 582.5,2098.8 586.8,2105.0 591.0,2105.0 595.3,2106.2 599.5,2105.0 603.8,2110.0 608.1,2110.0 612.3,2108.8 616.6,2110.0 620.8,2115.0 625.1,2115.0 629.3,2113.8 633.6,2120.0 637.9,2122.8 642.1,2123.6 646.4,2124.5 650.6,2121.1 654.9,2127.9"/>
<polyline stroke="#00C8C8" marker-start="url(#m00C8C8)" marker-mid="url(#m00C8C8)" marker-end="url(#m00C8C8)" points="122.8,1595.1 127.0,1612.8 131.3,1614.5 135.5,1616.8 139.8,1624.7 144.0,1628.2 148.3,1629.9 152.6,1634.4 156.8,1636.1 161.1,1641.8 165.3,1648.7 169.6,1650.4 173.8,1651.5 178.1,1654.3 182.4,1656.1 186.6,1658.9 190.9,1668.0 195.1,1667.4 199.4,1673.1 203.6,1681.7 207.9,1678.3 212.2,1683.4 216.4,1690.8 220.7,1691.9 224.9,1691.9 229.2,1698.7 233.4,1699.3 237.7,1699.9 242.0,1703.9 246.2,1707.9 250.5,1713.5 254.7,1718.1 259.0,1719.2 263.2,1718.1 267.5,1723.0 271.8,1722.5 276.0,1723.8 280.3,1727.5 284.5,1730.0 288.8,1725.0 293.0,1731.2 297.3,1738.8 301.6,1740.0 305.8,1745.0 310.1,1747.5 314.3,1748.8 318.6,1752.5 322.8,1757.5 327.1,1761.2 331.4,1763.8 335.6,1767.5 339.9,1771.2 344.1,1773.8 348.4,1778.8 352.6,1772.5 356.9,1772.5 361.1,1781.2 365.4,1778.8 369.7,1786.2 373.9,1792.5 378.2,1793.8 382.4,1788.8 386.7,1802.5 390.9,1802.5 395.2,1800.0 399.5,1803.8 403.7,1807.5 408.0,1807.5 412.2,1810.0 416.5,1822.5 420.7,1825.0 425.0,1830.0 429.3,1838.8 433.5,1845.0 437.8,1845.0 442.0,1851.2 446.3,1858.8"/>
<polyline stroke="#0CA0FF" marker-start="url(#m0CA0FF)" marker-mid="url(#m0CA0FF)" marker-end="url(#m0CA0FF)" points="122.8,1583.8 127.0,1625.9 131.3,1652.1 135.5,1675.4 139.8,1698.7 144.0,1706.7 148.3,1710.1 152.6,1722.1 156.8,1734.0 161.1,1736.3 165.3,1749.4 169.6,1749.4 173.8,1757.9 178.1,1771.2 182.4,1770.0 186.6,1772.5 190.9,1787.5 195.1,1788.8 199.4,1797.5 203.6,1806.2 207.9,1810.0 212.2,1816.2 216.4,1820.6 220.7,1825.0 224.9,1823.8 229.2,1827.5 233.4,1830.0 237.7,1836.2 242.0,1843.8 246.2,1845.0 250.5,1845.0 254.7,1845.0 259.0,1837.5 263.2,1848.8 267.5,1852.5 271.8,1848.8 276.0,1858.8 280.3,1856.2 284.5,1857.5 288.8,1867.5 293.0,1875.0 297.3,1880.0 301.6,1880.0 305.8,1881.2 310.1,1886.2 314.3,1897.5 318.6,1881.2 322.8,1887.5 327.1,1895.0 331.4,1893.8 335.6,1898.8 339.9,1907.5 344.1,1896.2 348.4,1897.5 352.6,1900.0 356.9,1900.0 361.1,1905.0 365.4,1913.8 369.7,1912.5 373.9,1917.5 378.2,1925.0 382.4,1926.2 386.7,1930.0 390.9,1915.0 395.2,1925.0 399.5,1923.8 403.7,1921.2 408.0,1933.8 412.2,1936.2 416.5,1930.0 420.7,1943.8 425.0,1942.5 429.3,1943.8 433.5,1958.8 437.8,1956.2 442.0,1951.2 446.3,1963.8 450.5,1957.5 454.8,1972.5 459.1,1978.8 463.3,1977.5 467.6,1982.5 471.8,1980.0 476.1,1980.0 480.3,1986.2 484.6,1996.2 488.9,1991.2 493.1,1983.8 497.4,2013.8 501.6,2001.2 505.9,2008.8 510.1,2021.2 514.4,2033.8 518.7,2026.2 522.9,2035.0 527.2,2042.5 531.4,2038.8 535.7,2043.8 539.9,2057.5 544.2,2060.0 548.5,2050.0 552.7,2065.0 557.0,2070.0 561.2,2072.5 565.5,2073.8 569.7,2077.5 574.0,2076.2 578.3,2075.0 582.5,2082.5 586.8,2072.5 591.0,2090.0 595.3,2077.5 599.5,2085.0 603.8,2096.2 608.1,2095.0 612.3,2087.5 616.6,2085.0 620.8,2086.2 625.1,2097.5 629.3,2083.8 633.6,2092.5 637.9,2098.8 642.1,2103.8 646.4,2100.0 650.6,2098.8 654.9,2115.0 659.1,2115.0 663.4,2111.2 667.7,2115.0 671.9,2113.8 676.2,2120.0 680.4,2119.5 684.7,2120.0 688.9,2120.0"/>
<polyline stroke="#2840FF" marker-start="url(#m2840FF)" marker-mid="url(#m2840FF)" marker-end="url(#m2840FF)" points="122.8,1606.5 127.0,1620.2 131.3,1624.2 135.5,1627.0 139.8,1635.6 144.0,1641.8 148.3,1644.7 152.6,1649.8 156.8,1654.3 161.1,1660.0 165.3,1668.6 169.6,1672.0 173.8,1676.0 178.1,1679.4 182.4,1683.4 186.6,1687.4 190.9,1696.5 195.1,1700.5 199.4,1706.1 203.6,1711.8 207.9,1714.7 212.2,1719.2 216.4,1724.9 220.7,1728.9 224.9,1724.9 229.2,1734.6 233.4,1737.5 237.7,1738.0 242.0,1740.9 246.2,1744.9 250.5,1752.3 254.7,1757.9 259.0,1761.2 263.2,1766.2 267.5,1765.0 271.8,1772.5 276.0,1771.2 280.3,1777.5 284.5,1782.5 288.8,1785.0 293.0,1775.0 297.3,1786.2 301.6,1792.5 305.8,1793.8 310.1,1801.2 314.3,1808.8 318.6,1806.2 322.8,1813.8 327.1,1815.0 331.4,1817.5 335.6,1825.0 339.9,1828.8 344.1,1831.2 348.4,1833.8 352.6,1840.0 356.9,1838.8 361.1,1836.2 365.4,1846.2 369.7,1846.2 373.9,1842.5 378.2,1850.0 382.4,1855.0 386.7,1856.2 390.9,1853.8 395.2,1866.2 399.5,1866.2 403.7,1865.0 408.0,1865.0 412.2,1873.8 416.5,1875.0 420.7,1875.0 425.0,1886.2 429.3,1901.2 433.5,1895.0 437.8,1898.8 442.0,1905.0 446.3,1908.8 450.5,1912.5 454.8,1920.0 459.1,1917.5 463.3,1916.2 467.6,1916.2 471.8,1921.2 476.1,1925.0 480.3,1920.0 484.6,1931.2 488.9,1935.0 493.1,1937.5 497.4,1937.5 501.6,1945.0 505.9,1947.5 510.1,1941.2 514.4,1957.5 518.7,1963.8 522.9,1958.8 527.2,1958.8 531.4,1966.2 535.7,1972.5 539.9,1971.2 544.2,1977.5 548.5,1991.2 552.7,1991.2 557.0,1991.2 561.2,1992.5 565.5,2001.2 569.7,2000.0 574.0,1998.8 578.3,2003.8 582.5,2011.2 586.8,2011.2 591.0,2010.0 595.3,2012.5 599.5,2022.5 603.8,2026.2 608.1,2027.5 612.3,2035.0 616.6,2036.2 620.8,2033.8 625.1,2036.2 629.3,2043.8 633.6,2047.5 637.9,2043.8 642.1,2046.2 646.4,2052.5 650.6,2061.2 654.9,2067.5 659.1,2057.5 663.4,2063.8 667.7,2071.2 671.9,2073.8 676.2,2071.2 680.4,2077.5 684.7,2081.2 688.9,2083.8 693.2,2073.8 697.5,2076.2 701.7,2087.5 706.0,2086.2 710.2,2085.0 714.5,2090.0 718.7,2093.8 723.0,2098.8 727.3,2095.0 731.5,2095.0 735.8,2096.2 740.0,2105.0 744.3,2103.8 748.5,2103.8 752.8,2103.8 757.0,2112.5 761.3,2112.5 765.6,2110.0 769.8,2115.0 774.1,2117.5 778.3,2118.8 782.6,2120.0 786.8,2120.0 791.1,2121.2"/>
<polyline stroke="#7800E6" marker-start="url(#m7800E6)" marker-mid="url(#m7800E6)" marker-end="url(#m7800E6)" points="122.8,1679.4 127.0,1656.1 131.3,1648.7 135.5,1644.1 139.8,1646.4 144.0,1650.9 148.3,1650.4 152.6,1654.3 156.8,1655.5 161.1,1657.8 165.3,1664.6 169.6,1666.9 173.8,1669.1 178.1,1671.4 182.4,1673.7 186.6,1674.8 190.9,1681.7 195.1,1683.4 199.4,1685.1 203.6,1690.8 207.9,1693.1 212.2,1693.6 216.4,1699.3 220.7,1701.0 224.9,1702.2 229.2,1707.9 233.4,1710.1 237.7,1710.1 242.0,1711.8 246.2,1714.7 250.5,1718.1 254.7,1720.4 259.0,1723.8 263.2,1724.9 267.5,1726.1 271.8,1730.0 276.0,1728.8 280.3,1731.2 284.5,1736.2 288.8,1735.0 293.0,1731.2 297.3,1738.8 301.6,1742.5 305.8,1743.8 310.1,1746.2 314.3,1747.5 318.6,1751.2 322.8,1752.5 327.1,1753.8 331.4,1756.2 335.6,1758.8 339.9,1760.0 344.1,1760.0 348.4,1763.8 352.6,1761.2 356.9,1760.0 361.1,1766.2 365.4,1767.5 369.7,1761.2 373.9,1767.5 378.2,1772.5 382.4,1770.0 386.7,1773.8 390.9,1775.0 395.2,1773.8 399.5,1771.2 403.7,1772.5 408.0,1772.5 412.2,1771.2 416.5,1780.0 420.7,1782.5 425.0,1782.5 429.3,1788.8 433.5,1792.5 437.8,1793.8 442.0,1795.0 446.3,1798.8"/>
</g>
<g stroke="#000" stroke-width="1.90" fill="none" stroke-linecap="butt">
<rect x="110.10" y="1496.10" width="774.50" height="626.15"/>
<path d="M118.50 2122.25v12.6M331.35 2122.25v12.6M544.20 2122.25v12.6M757.05 2122.25v12.6M224.93 2122.25v6.6M437.77 2122.25v6.6M650.62 2122.25v6.6M863.47 2122.25v6.6M110.10 2122.25h-12.6M110.10 2008.40h-12.6M110.10 1894.56h-12.6M110.10 1780.71h-12.6M110.10 1666.87h-12.6M110.10 1553.02h-12.6M110.10 2065.33h-6.6M110.10 1951.48h-6.6M110.10 1837.64h-6.6M110.10 1723.79h-6.6M110.10 1609.95h-6.6M110.10 1496.10h-6.6"/>
</g>
<g font-size="27.35" text-anchor="middle">
<text transform="translate(119.40 2164.10) scale(0.961 1)">0</text>
<text transform="translate(332.25 2164.10) scale(0.961 1)">50</text>
<text transform="translate(545.10 2164.10) scale(0.961 1)">100</text>
<text transform="translate(757.95 2164.10) scale(0.961 1)">150</text>
</g>
<g font-size="27.35" text-anchor="end">
<text transform="translate(89.50 2130.25) scale(0.961 1)">80</text>
<text transform="translate(89.50 2016.40) scale(0.961 1)">90</text>
<text transform="translate(89.50 1902.56) scale(0.961 1)">100</text>
<text transform="translate(89.50 1788.71) scale(0.961 1)">110</text>
<text transform="translate(89.50 1674.87) scale(0.961 1)">120</text>
<text transform="translate(89.50 1561.02) scale(0.961 1)">130</text>
</g>
<text font-size="32.8" text-anchor="middle" x="498.40" y="2214.15">Cycle number</text>
<text font-size="32.8" text-anchor="middle" transform="translate(31.90 1809.20) rotate(-90)">Specific discharge capacity (mAh/g)</text>
<text font-size="37.0" x="154.00" y="1541.50">e</text>
<path d="M583.10 1526.20H642.60" stroke="#F00A8C" stroke-width="1.5" fill="none"/>
<use href="#tri" x="612.85" y="1526.20" fill="#F00A8C"/>
<text font-size="27.88" transform="translate(650.70 1535.20) scale(0.961 1)">FEC+VC+PES</text>
<path d="M583.10 1558.90H642.60" stroke="#FF4040" stroke-width="1.5" fill="none"/>
<use href="#tri" x="612.85" y="1558.90" fill="#FF4040"/>
<text font-size="27.88" transform="translate(650.70 1567.90) scale(0.961 1)">FEC+VC+DTD</text>
<path d="M583.10 1591.80H642.60" stroke="#F08232" stroke-width="1.5" fill="none"/>
<use href="#tri" x="612.85" y="1591.80" fill="#F08232"/>
<text font-size="27.88" transform="translate(650.70 1600.80) scale(0.961 1)">FEC+VC+TTSPi</text>
<path d="M583.10 1624.70H642.60" stroke="#E8DC3C" stroke-width="1.5" fill="none"/>
<use href="#tri" x="612.85" y="1624.70" fill="#E8DC3C"/>
<text font-size="27.88" transform="translate(650.70 1633.70) scale(0.961 1)">FEC+PES+DTD</text>
<path d="M583.10 1657.40H642.60" stroke="#A0E632" stroke-width="1.5" fill="none"/>
<use href="#tri" x="612.85" y="1657.40" fill="#A0E632"/>
<text font-size="27.88" transform="translate(650.70 1666.40) scale(0.961 1)">FEC+PES+TTSPi</text>
<path d="M583.10 1690.20H642.60" stroke="#00DD08" stroke-width="1.5" fill="none"/>
<use href="#tri" x="612.85" y="1690.20" fill="#00DD08"/>
<text font-size="27.88" transform="translate(650.70 1699.20) scale(0.961 1)">FEC+DTD+TTSPi</text>
<path d="M583.10 1723.10H642.60" stroke="#00C8C8" stroke-width="1.5" fill="none"/>
<use href="#tri" x="612.85" y="1723.10" fill="#00C8C8"/>
<text font-size="27.88" transform="translate(650.70 1732.10) scale(0.961 1)">VC+PES+DTD</text>
<path d="M583.10 1755.80H642.60" stroke="#0CA0FF" stroke-width="1.5" fill="none"/>
<use href="#tri" x="612.85" y="1755.80" fill="#0CA0FF"/>
<text font-size="27.88" transform="translate(650.70 1764.80) scale(0.961 1)">VC+PES+TTSPi</text>
<path d="M583.10 1788.50H642.60" stroke="#2840FF" stroke-width="1.5" fill="none"/>
<use href="#tri" x="612.85" y="1788.50" fill="#2840FF"/>
<text font-size="27.88" transform="translate(650.70 1797.50) scale(0.961 1)">VC+DTD+TTSPi</text>
<path d="M583.10 1821.40H642.60" stroke="#7800E6" stroke-width="1.5" fill="none"/>
<use href="#tri" x="612.85" y="1821.40" fill="#7800E6"/>
<text font-size="27.88" transform="translate(650.70 1830.40) scale(0.961 1)">PES+DTD+TTSPi</text>
<clipPath id="clipf"><rect x="1037.10" y="1512.40" width="755.50" height="611.60"/></clipPath>
<g clip-path="url(#clipf)" fill="none" stroke-width="1.60" stroke-linejoin="round">
<polyline stroke="#F00A8C" marker-start="url(#mF00A8C)" marker-mid="url(#mF00A8C)" marker-end="url(#mF00A8C)" points="1053.9,1634.6 1059.8,1683.1 1065.8,1717.6 1071.7,1749.5 1077.7,1762.3 1083.6,1781.4 1089.6,1798.0 1095.5,1807.0 1101.5,1818.5 1107.5,1832.5 1113.4,1834.7 1119.4,1847.3 1125.3,1862.7 1131.3,1868.3 1137.2,1878.2 1143.2,1888.0 1149.2,1888.0 1155.1,1900.6 1161.1,1913.2 1167.0,1909.0 1173.0,1916.8 1178.9,1925.8 1184.9,1931.6 1190.8,1938.5 1196.8,1943.7 1202.8,1948.3 1208.7,1953.3 1214.7,1959.5 1220.6,1965.8 1226.6,1973.5 1232.5,1978.1 1238.5,1984.7 1244.4,1991.1 1250.4,1995.9 1256.4,2004.3 1262.3,2009.3 1268.3,2015.6 1274.2,2018.7 1280.2,2021.8 1286.1,2025.4 1292.1,2032.3 1298.1,2039.4 1304.0,2040.8 1310.0,2049.5 1315.9,2057.6 1321.9,2066.4 1327.8,2073.0 1333.8,2076.3 1339.7,2078.1 1345.7,2081.5 1351.7,2089.0 1357.6,2096.9 1363.6,2094.1 1369.5,2104.5 1375.5,2113.7 1381.4,2119.0 1387.4,2124.9 1393.3,2134.7 1399.3,2135.5 1405.3,2137.5 1411.2,2142.9 1417.2,2148.8 1423.1,2152.0 1429.1,2154.4 1435.0,2162.1 1441.0,2168.4 1447.0,2170.8 1452.9,2171.2 1458.9,2173.8 1464.8,2176.8 1470.8,2189.4 1476.7,2195.3 1482.7,2200.6 1488.6,2197.8 1494.6,2203.6 1500.6,2207.6 1506.5,2211.6 1512.5,2214.6 1518.4,2216.9 1524.4,2218.9 1530.3,2222.7 1536.3,2228.7 1542.2,2230.0 1548.2,2231.5 1554.2,2235.4 1560.1,2238.5 1566.1,2242.4"/>
<polyline stroke="#FF4040" marker-start="url(#mFF4040)" marker-mid="url(#mFF4040)" marker-end="url(#mFF4040)" points="1053.9,1634.6 1059.8,1666.4 1065.8,1680.2 1071.7,1691.5 1077.7,1702.8 1083.6,1709.0 1089.6,1716.5 1095.5,1720.3 1101.5,1722.8 1107.5,1730.3 1113.4,1734.1 1119.4,1737.2 1125.3,1745.4 1131.3,1750.4 1137.2,1756.6 1143.2,1764.2 1149.2,1766.0 1155.1,1767.9 1161.1,1774.2 1167.0,1776.1 1173.0,1776.7 1178.9,1786.7 1184.9,1793.0 1190.8,1795.5 1196.8,1803.0 1202.8,1806.1 1208.7,1809.9 1214.7,1814.9 1220.6,1818.0 1226.6,1823.0 1232.5,1829.3 1238.5,1828.7 1244.4,1833.1 1250.4,1838.1 1256.4,1841.8 1262.3,1843.6 1268.3,1849.1 1274.2,1847.8 1280.2,1851.9 1286.1,1860.1 1292.1,1856.0 1298.1,1857.4 1304.0,1869.8 1310.0,1882.2 1315.9,1880.8 1321.9,1889.0 1327.8,1894.5 1333.8,1898.7 1339.7,1902.8 1345.7,1909.7 1351.7,1908.3 1357.6,1915.2 1363.6,1919.3 1369.5,1922.0 1375.5,1924.8 1381.4,1934.4 1387.4,1934.4 1393.3,1939.9 1399.3,1948.2 1405.3,1955.1 1411.2,1950.9 1417.2,1957.8 1423.1,1966.1 1429.1,1963.3 1435.0,1966.1 1441.0,1981.2 1447.0,1989.5 1452.9,1986.7 1458.9,1992.2 1464.8,2004.6 1470.8,2001.8 1476.7,2008.7 1482.7,2012.8 1488.6,2012.8 1494.6,2015.6 1500.6,2017.0 1506.5,2033.5 1512.5,2025.2 1518.4,2028.0 1524.4,2040.4 1530.3,2041.7 1536.3,2043.1 1542.2,2050.0 1548.2,2066.5 1554.2,2056.9 1560.1,2056.9 1566.1,2063.7 1572.0,2072.0 1578.0,2069.3 1583.9,2077.5 1589.9,2089.9 1595.9,2100.9 1601.8,2096.8 1607.8,2105.0 1613.7,2114.6 1619.7,2118.8 1625.6,2122.9 1631.6,2127.0 1637.5,2140.8 1643.5,2127.0 1649.5,2125.7 1655.4,2132.5 1661.4,2140.8 1667.3,2135.3 1673.3,2140.8 1679.2,2146.3 1685.2,2149.0 1691.1,2146.3 1697.1,2151.8 1703.1,2165.6 1709.0,2165.6 1715.0,2154.5 1720.9,2164.2 1726.9,2176.6 1732.8,2176.6 1738.8,2169.7 1744.8,2173.8 1750.7,2186.2 1756.7,2205.4 1762.6,2201.3 1768.6,2205.4 1774.5,2206.8 1780.5,2222.0 1786.4,2219.2 1792.4,2219.2 1798.4,2220.6 1804.3,2231.6 1810.3,2220.6 1816.2,2219.2 1822.2,2224.7 1828.1,2230.2 1834.1,2226.1 1840.0,2222.0 1846.0,2230.2 1852.0,2234.3 1857.9,2230.2 1863.9,2228.8 1869.8,2238.5 1875.8,2244.0 1881.7,2241.2 1887.7,2237.1 1893.7,2244.0 1899.6,2249.5 1905.6,2248.1 1911.5,2248.1 1917.5,2249.5 1923.4,2257.7 1929.4,2262.4"/>
<polyline stroke="#F08232" marker-start="url(#mF08232)" marker-mid="url(#mF08232)" marker-end="url(#mF08232)" points="1053.9,1634.6 1059.8,1659.6 1065.8,1686.5 1071.7,1700.6 1077.7,1713.4 1083.6,1726.9 1089.6,1741.6 1095.5,1748.0 1101.5,1756.3 1107.5,1764.7 1113.4,1776.2 1119.4,1785.2 1125.3,1794.1 1131.3,1804.4 1137.2,1813.4 1143.2,1821.0 1149.2,1830.0 1155.1,1836.7 1161.1,1845.1 1167.0,1850.7 1173.0,1855.0 1178.9,1862.0 1184.9,1864.8 1190.8,1867.6 1196.8,1873.3 1202.8,1884.5 1208.7,1895.8 1214.7,1904.2 1220.6,1909.8 1226.6,1918.3 1232.5,1925.3 1238.5,1933.8 1244.4,1939.4 1250.4,1946.4 1256.4,1953.5 1262.3,1961.9 1268.3,1964.7 1274.2,1974.6 1280.2,1981.6 1286.1,1988.6 1292.1,1992.9 1298.1,1999.9 1304.0,2008.3 1310.0,2011.1 1315.9,2012.6 1321.9,2025.2 1327.8,2039.3 1333.8,2043.5 1339.7,2049.1 1345.7,2054.8 1351.7,2061.8 1357.6,2066.0 1363.6,2071.6 1369.5,2077.3 1375.5,2080.1 1381.4,2087.1 1387.4,2095.6 1393.3,2104.0 1399.3,2102.6 1405.3,2108.2 1411.2,2115.3 1417.2,2120.9 1423.1,2126.5 1429.1,2132.1 1435.0,2136.4 1441.0,2142.0 1447.0,2144.8 1452.9,2153.2 1458.9,2158.9 1464.8,2164.5 1470.8,2165.9 1476.7,2174.4 1482.7,2178.6 1488.6,2184.2 1494.6,2188.4 1500.6,2191.2 1506.5,2196.9 1512.5,2202.5 1518.4,2209.5 1524.4,2210.9 1530.3,2213.7 1536.3,2222.2 1542.2,2218.0 1548.2,2222.2 1554.2,2225.0 1560.1,2234.9 1566.1,2233.4 1572.0,2232.0 1578.0,2239.6"/>
<polyline stroke="#E8DC3C" marker-start="url(#mE8DC3C)" marker-mid="url(#mE8DC3C)" marker-end="url(#mE8DC3C)" points="1053.9,1634.6 1059.8,1650.1 1065.8,1661.2 1071.7,1668.7 1077.7,1677.9 1083.6,1684.1 1089.6,1690.2 1095.5,1695.2 1101.5,1694.6 1107.5,1703.2 1113.4,1704.4 1119.4,1708.1 1125.3,1715.5 1131.3,1720.5 1137.2,1725.4 1143.2,1729.7 1149.2,1732.8 1155.1,1737.7 1161.1,1742.1 1167.0,1739.6 1173.0,1742.1 1178.9,1750.1 1184.9,1755.6 1190.8,1756.3 1196.8,1758.1 1202.8,1768.6 1208.7,1771.7 1214.7,1776.0 1220.6,1779.1 1226.6,1782.2 1232.5,1785.2 1238.5,1788.3 1244.4,1791.4 1250.4,1794.5 1256.4,1800.7 1262.3,1804.4 1268.3,1808.5 1274.2,1809.8 1280.2,1815.2 1286.1,1816.6 1292.1,1822.0 1298.1,1832.8 1304.0,1832.3 1310.0,1836.9 1315.9,1845.0 1321.9,1847.7 1327.8,1847.7 1333.8,1854.5 1339.7,1853.2 1345.7,1862.6 1351.7,1868.1 1357.6,1870.8 1363.6,1874.8 1369.5,1878.9 1375.5,1884.3 1381.4,1888.4 1387.4,1892.5 1393.3,1897.9 1399.3,1900.6 1405.3,1904.6 1411.2,1910.1 1417.2,1908.7 1423.1,1915.5 1429.1,1923.6 1435.0,1923.6 1441.0,1929.0 1447.0,1934.4 1452.9,1937.2 1458.9,1938.5 1464.8,1948.0 1470.8,1946.6 1476.7,1945.3 1482.7,1954.8 1488.6,1961.5 1494.6,1960.2 1500.6,1968.3 1506.5,1975.1 1512.5,1971.0 1518.4,1977.8 1524.4,1985.9 1530.3,1988.6 1536.3,1984.6 1542.2,1987.3 1548.2,1987.3 1554.2,1994.1 1560.1,2000.8 1566.1,2009.0 1572.0,2014.4 1578.0,2017.1 1583.9,2026.6 1589.9,2036.0 1595.9,2038.8 1601.8,2040.1 1607.8,2046.9 1613.7,2046.9 1619.7,2044.2 1625.6,2048.2 1631.6,2050.9 1637.5,2060.4 1643.5,2057.7 1649.5,2074.0 1655.4,2067.2 1661.4,2072.6 1667.3,2082.1 1673.3,2083.5 1679.2,2075.3 1685.2,2087.5 1691.1,2099.7 1697.1,2098.4 1703.1,2098.4 1709.0,2106.5 1715.0,2124.1 1720.9,2126.8 1726.9,2126.8 1732.8,2132.2 1738.8,2148.5 1744.8,2136.3 1750.7,2147.1 1756.7,2155.3 1762.6,2158.0 1768.6,2144.4 1774.5,2145.8 1780.5,2159.3 1786.4,2152.5 1792.4,2152.5 1798.4,2158.0 1804.3,2166.1 1810.3,2159.3 1816.2,2166.1 1822.2,2175.6 1828.1,2182.4 1834.1,2183.7 1840.0,2182.4 1846.0,2187.8 1852.0,2191.8 1857.9,2194.5 1863.9,2197.3 1869.8,2197.3 1875.8,2210.8 1881.7,2213.5 1887.7,2216.2 1893.7,2212.2 1899.6,2218.9 1905.6,2218.9 1911.5,2218.9 1917.5,2223.0 1923.4,2227.1 1929.4,2227.1 1935.3,2227.1 1941.3,2232.5 1947.3,2235.2 1953.2,2240.6 1959.2,2239.2 1965.1,2239.2 1971.1,2244.7 1977.0,2248.7 1983.0,2244.7 1988.9,2243.3 1994.9,2250.1 2000.9,2250.1 2006.8,2252.8 2012.8,2251.4 2018.7,2251.4 2024.7,2254.1 2030.6,2252.8 2036.6,2256.9 2042.6,2258.2 2048.5,2263.6 2054.5,2269.1 2060.4,2266.3 2066.4,2271.8 2072.3,2275.3 2078.3,2274.4 2084.2,2281.8 2090.2,2272.6 2096.2,2285.5 2102.1,2289.2 2108.1,2285.5 2114.0,2272.6"/>
<polyline stroke="#A0E632" marker-start="url(#mA0E632)" marker-mid="url(#mA0E632)" marker-end="url(#mA0E632)" points="1053.9,1634.6 1059.8,1646.3 1065.8,1650.2 1071.7,1654.1 1077.7,1660.6 1083.6,1666.5 1089.6,1666.5 1095.5,1671.7 1101.5,1673.6 1107.5,1680.1 1113.4,1683.4 1119.4,1682.8 1125.3,1689.3 1131.3,1696.4 1137.2,1697.7 1143.2,1697.7 1149.2,1706.2 1155.1,1712.7 1161.1,1724.4 1167.0,1722.3 1173.0,1725.7 1178.9,1729.6 1184.9,1734.2 1190.8,1729.6 1196.8,1729.6 1202.8,1734.8 1208.7,1730.9 1214.7,1732.9 1220.6,1736.1 1226.6,1738.7 1232.5,1738.7 1238.5,1742.6 1244.4,1743.9 1250.4,1747.2 1256.4,1752.4 1262.3,1753.0 1268.3,1751.6 1274.2,1755.9 1280.2,1758.7 1286.1,1764.4"/>
<polyline stroke="#00DD08" marker-start="url(#m00DD08)" marker-mid="url(#m00DD08)" marker-end="url(#m00DD08)" points="1053.9,1634.6 1059.8,1668.3 1065.8,1682.6 1071.7,1694.9 1077.7,1707.9 1083.6,1722.8 1089.6,1729.3 1095.5,1737.1 1101.5,1740.3 1107.5,1752.0 1113.4,1761.7 1119.4,1765.0 1125.3,1771.5 1131.3,1775.4 1137.2,1779.9 1143.2,1786.4 1149.2,1800.0 1155.1,1803.2 1161.1,1811.0 1167.0,1816.2 1173.0,1824.8 1178.9,1826.2 1184.9,1833.3 1190.8,1840.4 1196.8,1843.3 1202.8,1851.8 1208.7,1860.4 1214.7,1863.2 1220.6,1866.1 1226.6,1873.2 1232.5,1878.9 1238.5,1886.0 1244.4,1896.0 1250.4,1896.0 1256.4,1894.6 1262.3,1901.7 1268.3,1911.6 1274.2,1910.2 1280.2,1920.2 1286.1,1927.3 1292.1,1925.9 1298.1,1924.5 1304.0,1937.3 1310.0,1945.8 1315.9,1951.5 1321.9,1960.1 1327.8,1962.9 1333.8,1968.6 1339.7,1974.3 1345.7,1982.9 1351.7,1988.6 1357.6,1991.4 1363.6,2000.0 1369.5,2007.1 1375.5,2005.7 1381.4,2021.3 1387.4,2028.4 1393.3,2022.7 1399.3,2024.2 1405.3,2038.4 1411.2,2039.8 1417.2,2045.5 1423.1,2054.1 1429.1,2059.8 1435.0,2062.6 1441.0,2064.1 1447.0,2068.3 1452.9,2074.0 1458.9,2071.2 1464.8,2072.6 1470.8,2071.2 1476.7,2081.1 1482.7,2084.0 1488.6,2096.8 1494.6,2105.4 1500.6,2103.9 1506.5,2111.1 1512.5,2116.8 1518.4,2123.9 1524.4,2126.7 1530.3,2126.7 1536.3,2133.8 1542.2,2126.7 1548.2,2131.0 1554.2,2131.0 1560.1,2138.1 1566.1,2139.5 1572.0,2142.4 1578.0,2143.8 1583.9,2149.5 1589.9,2150.9 1595.9,2148.1 1601.8,2160.9 1607.8,2163.8 1613.7,2163.8 1619.7,2163.8 1625.6,2173.7 1631.6,2178.0 1637.5,2175.1 1643.5,2175.1 1649.5,2180.8 1655.4,2185.1 1661.4,2192.2 1667.3,2182.3 1673.3,2193.7 1679.2,2196.5 1685.2,2199.4 1691.1,2197.9 1697.1,2199.4 1703.1,2206.5 1709.0,2206.5 1715.0,2207.9 1720.9,2206.5 1726.9,2212.2 1732.8,2212.2 1738.8,2210.8 1744.8,2212.2 1750.7,2217.9 1756.7,2217.9 1762.6,2216.5 1768.6,2223.6 1774.5,2226.7 1780.5,2227.7 1786.4,2228.7 1792.4,2224.8 1798.4,2232.6"/>
<polyline stroke="#00C8C8" marker-start="url(#m00C8C8)" marker-mid="url(#m00C8C8)" marker-end="url(#m00C8C8)" points="1053.9,1634.6 1059.8,1654.6 1065.8,1656.5 1071.7,1659.1 1077.7,1668.1 1083.6,1672.0 1089.6,1673.9 1095.5,1679.1 1101.5,1681.0 1107.5,1687.5 1113.4,1695.2 1119.4,1697.2 1125.3,1698.5 1131.3,1701.7 1137.2,1703.6 1143.2,1706.8 1149.2,1717.2 1155.1,1716.5 1161.1,1723.0 1167.0,1732.6 1173.0,1728.8 1178.9,1734.6 1184.9,1743.0 1190.8,1744.3 1196.8,1744.3 1202.8,1752.0 1208.7,1752.6 1214.7,1753.3 1220.6,1757.8 1226.6,1762.3 1232.5,1768.8 1238.5,1773.9 1244.4,1775.2 1250.4,1773.9 1256.4,1779.5 1262.3,1778.9 1268.3,1780.3 1274.2,1784.6 1280.2,1787.4 1286.1,1781.7 1292.1,1788.8 1298.1,1797.3 1304.0,1798.7 1310.0,1804.4 1315.9,1807.2 1321.9,1808.7 1327.8,1812.9 1333.8,1818.6 1339.7,1822.8 1345.7,1825.7 1351.7,1829.9 1357.6,1834.2 1363.6,1837.0 1369.5,1842.7 1375.5,1835.6 1381.4,1835.6 1387.4,1845.5 1393.3,1842.7 1399.3,1851.2 1405.3,1858.2 1411.2,1859.7 1417.2,1854.0 1423.1,1869.6 1429.1,1869.6 1435.0,1866.7 1441.0,1871.0 1447.0,1875.2 1452.9,1875.2 1458.9,1878.1 1464.8,1892.2 1470.8,1895.1 1476.7,1900.7 1482.7,1910.6 1488.6,1917.7 1494.6,1917.7 1500.6,1924.8 1506.5,1933.3"/>
<polyline stroke="#0CA0FF" marker-start="url(#m0CA0FF)" marker-mid="url(#m0CA0FF)" marker-end="url(#m0CA0FF)" points="1053.9,1634.6 1059.8,1682.0 1065.8,1711.4 1071.7,1737.6 1077.7,1763.9 1083.6,1772.8 1089.6,1776.7 1095.5,1790.1 1101.5,1803.5 1107.5,1806.1 1113.4,1820.8 1119.4,1820.8 1125.3,1830.4 1131.3,1845.4 1137.2,1844.0 1143.2,1846.8 1149.2,1863.7 1155.1,1865.1 1161.1,1874.9 1167.0,1884.7 1173.0,1889.0 1178.9,1896.0 1184.9,1900.9 1190.8,1905.8 1196.8,1904.4 1202.8,1908.6 1208.7,1911.4 1214.7,1918.5 1220.6,1926.9 1226.6,1928.3 1232.5,1928.3 1238.5,1928.3 1244.4,1919.9 1250.4,1932.5 1256.4,1936.7 1262.3,1932.5 1268.3,1943.8 1274.2,1940.9 1280.2,1942.4 1286.1,1953.6 1292.1,1962.0 1298.1,1967.6 1304.0,1967.6 1310.0,1969.1 1315.9,1974.7 1321.9,1987.3 1327.8,1969.1 1333.8,1976.1 1339.7,1984.5 1345.7,1983.1 1351.7,1988.7 1357.6,1998.6 1363.6,1985.9 1369.5,1987.3 1375.5,1990.1 1381.4,1990.1 1387.4,1995.8 1393.3,2005.6 1399.3,2004.2 1405.3,2009.8 1411.2,2018.2 1417.2,2019.6 1423.1,2023.9 1429.1,2007.0 1435.0,2018.2 1441.0,2016.8 1447.0,2014.0 1452.9,2028.1 1458.9,2030.9 1464.8,2023.9 1470.8,2039.3 1476.7,2037.9 1482.7,2039.3 1488.6,2056.2 1494.6,2053.4 1500.6,2047.8 1506.5,2061.8 1512.5,2054.8 1518.4,2071.6 1524.4,2078.7 1530.3,2077.3 1536.3,2082.9 1542.2,2080.1 1548.2,2080.1 1554.2,2087.1 1560.1,2098.3 1566.1,2092.7 1572.0,2084.3 1578.0,2118.0 1583.9,2104.0 1589.9,2112.4 1595.9,2126.5 1601.8,2140.5 1607.8,2132.1 1613.7,2141.9 1619.7,2150.3 1625.6,2146.1 1631.6,2151.7 1637.5,2167.2 1643.5,2170.0 1649.5,2158.8 1655.4,2175.6 1661.4,2181.3 1667.3,2184.1 1673.3,2185.5 1679.2,2189.7 1685.2,2188.3 1691.1,2186.9 1697.1,2195.3 1703.1,2184.1 1709.0,2203.7 1715.0,2189.7 1720.9,2198.1 1726.9,2210.8 1732.8,2209.4 1738.8,2200.9 1744.8,2198.1 1750.7,2199.5 1756.7,2212.2 1762.6,2196.7 1768.6,2206.6 1774.5,2213.6 1780.5,2219.2 1786.4,2215.0 1792.4,2213.6 1798.4,2231.8 1804.3,2231.8 1810.3,2227.6 1816.2,2231.8 1822.2,2230.4 1828.1,2237.5 1834.1,2236.9 1840.0,2237.5 1846.0,2237.5"/>
<polyline stroke="#2840FF" marker-start="url(#m2840FF)" marker-mid="url(#m2840FF)" marker-end="url(#m2840FF)" points="1053.9,1634.6 1059.8,1650.2 1065.8,1654.8 1071.7,1658.0 1077.7,1667.8 1083.6,1674.9 1089.6,1678.2 1095.5,1684.0 1101.5,1689.2 1107.5,1695.7 1113.4,1705.5 1119.4,1709.4 1125.3,1713.9 1131.3,1717.8 1137.2,1722.4 1143.2,1726.9 1149.2,1737.3 1155.1,1741.9 1161.1,1748.4 1167.0,1754.9 1173.0,1758.1 1178.9,1763.3 1184.9,1769.8 1190.8,1774.4 1196.8,1769.8 1202.8,1780.9 1208.7,1784.1 1214.7,1784.8 1220.6,1788.0 1226.6,1792.6 1232.5,1801.0 1238.5,1807.5 1244.4,1811.3 1250.4,1817.0 1256.4,1815.6 1262.3,1824.2 1268.3,1822.7 1274.2,1829.9 1280.2,1835.6 1286.1,1838.4 1292.1,1827.0 1298.1,1839.9 1304.0,1847.0 1310.0,1848.4 1315.9,1857.0 1321.9,1865.6 1327.8,1862.7 1333.8,1871.3 1339.7,1872.7 1345.7,1875.6 1351.7,1884.1 1357.6,1888.4 1363.6,1891.3 1369.5,1894.1 1375.5,1901.3 1381.4,1899.8 1387.4,1897.0 1393.3,1908.4 1399.3,1908.4 1405.3,1904.1 1411.2,1912.7 1417.2,1918.4 1423.1,1919.8 1429.1,1917.0 1435.0,1931.3 1441.0,1931.3 1447.0,1929.8 1452.9,1929.8 1458.9,1939.8 1464.8,1941.2 1470.8,1941.2 1476.7,1954.1 1482.7,1971.2 1488.6,1964.1 1494.6,1968.4 1500.6,1975.5 1506.5,1979.8 1512.5,1984.1 1518.4,1992.6 1524.4,1989.8 1530.3,1988.4 1536.3,1988.4 1542.2,1994.1 1548.2,1998.4 1554.2,1992.6 1560.1,2005.5 1566.1,2009.8 1572.0,2012.6 1578.0,2012.6 1583.9,2021.2 1589.9,2024.1 1595.9,2016.9 1601.8,2035.5 1607.8,2042.6 1613.7,2036.9 1619.7,2036.9 1625.6,2045.5 1631.6,2052.6 1637.5,2051.2 1643.5,2058.3 1649.5,2074.0 1655.4,2074.0 1661.4,2074.0 1667.3,2075.5 1673.3,2085.5 1679.2,2084.0 1685.2,2082.6 1691.1,2088.3 1697.1,2096.9 1703.1,2096.9 1709.0,2095.4 1715.0,2098.3 1720.9,2109.7 1726.9,2114.0 1732.8,2115.4 1738.8,2124.0 1744.8,2125.4 1750.7,2122.6 1756.7,2125.4 1762.6,2134.0 1768.6,2138.3 1774.5,2134.0 1780.5,2136.8 1786.4,2144.0 1792.4,2154.0 1798.4,2161.1 1804.3,2149.7 1810.3,2156.8 1816.2,2165.4 1822.2,2168.3 1828.1,2165.4 1834.1,2172.5 1840.0,2176.8 1846.0,2179.7 1852.0,2168.3 1857.9,2171.1 1863.9,2184.0 1869.8,2182.5 1875.8,2181.1 1881.7,2186.8 1887.7,2191.1 1893.7,2196.8 1899.6,2192.5 1905.6,2192.5 1911.5,2194.0 1917.5,2204.0 1923.4,2202.5 1929.4,2202.5 1935.3,2202.5 1941.3,2212.5 1947.3,2212.5 1953.2,2209.7 1959.2,2215.4 1965.1,2218.2 1971.1,2219.7 1977.0,2221.1 1983.0,2221.1 1988.9,2222.5"/>
<polyline stroke="#7800E6" marker-start="url(#m7800E6)" marker-mid="url(#m7800E6)" marker-end="url(#m7800E6)" points="1053.9,1634.6 1059.8,1606.5 1065.8,1597.6 1071.7,1592.1 1077.7,1594.9 1083.6,1600.3 1089.6,1599.7 1095.5,1604.5 1101.5,1605.8 1107.5,1608.6 1113.4,1616.8 1119.4,1619.5 1125.3,1622.3 1131.3,1625.0 1137.2,1627.7 1143.2,1629.1 1149.2,1637.3 1155.1,1639.4 1161.1,1641.5 1167.0,1648.3 1173.0,1651.0 1178.9,1651.7 1184.9,1658.6 1190.8,1660.6 1196.8,1662.0 1202.8,1668.9 1208.7,1671.6 1214.7,1671.6 1220.6,1673.7 1226.6,1677.1 1232.5,1681.2 1238.5,1683.9 1244.4,1688.0 1250.4,1689.4 1256.4,1690.8 1262.3,1695.5 1268.3,1694.0 1274.2,1697.0 1280.2,1703.0 1286.1,1701.5 1292.1,1697.0 1298.1,1706.0 1304.0,1710.6 1310.0,1712.1 1315.9,1715.1 1321.9,1716.6 1327.8,1721.1 1333.8,1722.6 1339.7,1724.1 1345.7,1727.1 1351.7,1730.1 1357.6,1731.6 1363.6,1731.6 1369.5,1736.1 1375.5,1733.1 1381.4,1731.6 1387.4,1739.2 1393.3,1740.7 1399.3,1733.1 1405.3,1740.7 1411.2,1746.7 1417.2,1743.7 1423.1,1748.2 1429.1,1749.7 1435.0,1748.2 1441.0,1745.2 1447.0,1746.7 1452.9,1746.7 1458.9,1745.2 1464.8,1755.7 1470.8,1758.7 1476.7,1758.7 1482.7,1766.2 1488.6,1770.7 1494.6,1772.3 1500.6,1773.8 1506.5,1778.3"/>
</g>
<g stroke="#000" stroke-width="1.90" fill="none" stroke-linecap="butt">
<rect x="1037.10" y="1512.40" width="755.50" height="611.00"/>
<path d="M1047.90 2123.40v12.6M1196.80 2123.40v12.6M1345.70 2123.40v12.6M1494.60 2123.40v12.6M1643.50 2123.40v12.6M1792.40 2123.40v12.6M1122.35 2123.40v6.6M1271.25 2123.40v6.6M1420.15 2123.40v6.6M1569.05 2123.40v6.6M1717.95 2123.40v6.6M1037.10 2123.40h-12.6M1037.10 2041.93h-12.6M1037.10 1960.47h-12.6M1037.10 1879.00h-12.6M1037.10 1797.53h-12.6M1037.10 1716.07h-12.6M1037.10 1634.60h-12.6M1037.10 1553.13h-12.6M1037.10 2082.67h-6.6M1037.10 2001.20h-6.6M1037.10 1919.73h-6.6M1037.10 1838.27h-6.6M1037.10 1756.80h-6.6M1037.10 1675.33h-6.6M1037.10 1593.87h-6.6M1037.10 1512.40h-6.6"/>
</g>
<g font-size="26.68" text-anchor="middle">
<text transform="translate(1048.80 2164.10) scale(0.961 1)">0</text>
<text transform="translate(1197.70 2164.10) scale(0.961 1)">25</text>
<text transform="translate(1346.60 2164.10) scale(0.961 1)">50</text>
<text transform="translate(1495.50 2164.10) scale(0.961 1)">75</text>
<text transform="translate(1644.40 2164.10) scale(0.961 1)">100</text>
<text transform="translate(1793.30 2164.10) scale(0.961 1)">125</text>
</g>
<g font-size="26.68" text-anchor="end">
<text transform="translate(1016.50 2131.40) scale(0.961 1)">0.70</text>
<text transform="translate(1016.50 2049.93) scale(0.961 1)">0.75</text>
<text transform="translate(1016.50 1968.47) scale(0.961 1)">0.80</text>
<text transform="translate(1016.50 1887.00) scale(0.961 1)">0.85</text>
<text transform="translate(1016.50 1805.53) scale(0.961 1)">0.90</text>
<text transform="translate(1016.50 1724.07) scale(0.961 1)">0.95</text>
<text transform="translate(1016.50 1642.60) scale(0.961 1)">1.00</text>
<text transform="translate(1016.50 1561.13) scale(0.961 1)">1.05</text>
</g>
<text font-size="31.9" text-anchor="middle" x="1415.20" y="2213.15">Cycle number</text>
<text font-size="31.9" text-anchor="middle" transform="translate(952.00 1817.90) rotate(-90)">Normalized discharge capacity</text>
<text font-size="36.0" x="1065.50" y="1559.00">f</text>
<path d="M1234.00 1536.60H1292.05" stroke="#F00A8C" stroke-width="1.5" fill="none"/>
<use href="#tri" x="1263.03" y="1536.60" fill="#F00A8C"/>
<text font-size="27.19" transform="translate(1298.80 1545.38) scale(0.961 1)">FEC+VC+PES</text>
<path d="M1234.00 1568.70H1292.05" stroke="#FF4040" stroke-width="1.5" fill="none"/>
<use href="#tri" x="1263.03" y="1568.70" fill="#FF4040"/>
<text font-size="27.19" transform="translate(1298.80 1577.48) scale(0.961 1)">FEC+VC+DTD</text>
<path d="M1234.00 1600.70H1292.05" stroke="#F08232" stroke-width="1.5" fill="none"/>
<use href="#tri" x="1263.03" y="1600.70" fill="#F08232"/>
<text font-size="27.19" transform="translate(1298.80 1609.48) scale(0.961 1)">FEC+VC+TTSPi</text>
<path d="M1234.00 1632.85H1292.05" stroke="#E8DC3C" stroke-width="1.5" fill="none"/>
<use href="#tri" x="1263.03" y="1632.85" fill="#E8DC3C"/>
<text font-size="27.19" transform="translate(1298.80 1641.63) scale(0.961 1)">FEC+PES+DTD</text>
<path d="M1503.20 1536.60H1561.30" stroke="#A0E632" stroke-width="1.5" fill="none"/>
<use href="#tri" x="1532.25" y="1536.60" fill="#A0E632"/>
<text font-size="27.19" transform="translate(1568.20 1545.38) scale(0.961 1)">FEC+PES+TTSPi</text>
<path d="M1503.20 1568.70H1561.30" stroke="#00DD08" stroke-width="1.5" fill="none"/>
<use href="#tri" x="1532.25" y="1568.70" fill="#00DD08"/>
<text font-size="27.19" transform="translate(1568.20 1577.48) scale(0.961 1)">FEC+DTD+TTSPi</text>
<path d="M1503.20 1600.70H1561.30" stroke="#00C8C8" stroke-width="1.5" fill="none"/>
<use href="#tri" x="1532.25" y="1600.70" fill="#00C8C8"/>
<text font-size="27.19" transform="translate(1568.20 1609.48) scale(0.961 1)">VC+PES+DTD</text>
<path d="M1503.20 1632.85H1561.30" stroke="#0CA0FF" stroke-width="1.5" fill="none"/>
<use href="#tri" x="1532.25" y="1632.85" fill="#0CA0FF"/>
<text font-size="27.19" transform="translate(1568.20 1641.63) scale(0.961 1)">VC+PES+TTSPi</text>
<path d="M1503.20 1665.00H1561.30" stroke="#2840FF" stroke-width="1.5" fill="none"/>
<use href="#tri" x="1532.25" y="1665.00" fill="#2840FF"/>
<text font-size="27.19" transform="translate(1568.20 1673.78) scale(0.961 1)">VC+DTD+TTSPi</text>
<path d="M1503.20 1696.80H1561.30" stroke="#7800E6" stroke-width="1.5" fill="none"/>
<use href="#tri" x="1532.25" y="1696.80" fill="#7800E6"/>
<text font-size="27.19" transform="translate(1568.20 1705.58) scale(0.961 1)">PES+DTD+TTSPi</text>
</svg></body></html>
